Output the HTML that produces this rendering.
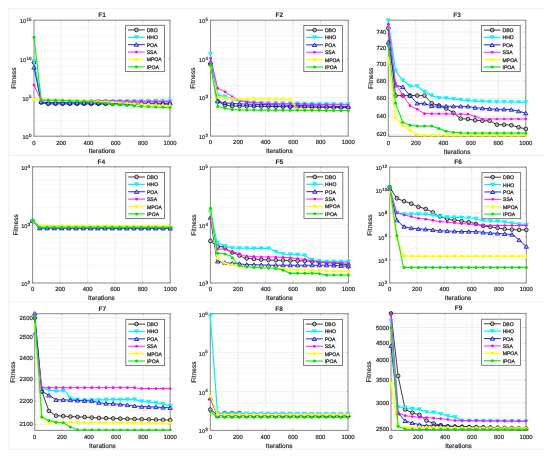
<!DOCTYPE html><html><head><meta charset="utf-8"><title>Convergence curves F1-F9</title>
<style>html,body{margin:0;padding:0;background:#fff;}svg{display:block;}text{font-family:"Liberation Sans", Arial, Helvetica, sans-serif;fill:#262626;stroke:#262626;stroke-width:0.18px;text-rendering:geometricPrecision;}</style></head><body>
<svg width="550" height="458" viewBox="0 0 550 458">
<rect width="550" height="458" fill="#fff"/>
<line x1="8.2" y1="8.7" x2="544" y2="8.7" stroke="#ececec" stroke-width="0.8"/>
<line x1="8.2" y1="155.3" x2="544" y2="155.3" stroke="#ececec" stroke-width="0.8"/>
<line x1="8.2" y1="302.0" x2="544" y2="302.0" stroke="#ececec" stroke-width="0.8"/>
<line x1="8.2" y1="449.2" x2="544" y2="449.2" stroke="#ececec" stroke-width="0.8"/>
<line x1="8.8" y1="8.7" x2="8.8" y2="449.2" stroke="#f0f0f0" stroke-width="0.8"/>
<g>
<line x1="34" y1="128.47" x2="170" y2="128.47" stroke="#f1f1f1" stroke-width="0.5"/>
<line x1="34" y1="120.73" x2="170" y2="120.73" stroke="#f1f1f1" stroke-width="0.5"/>
<line x1="34" y1="113" x2="170" y2="113" stroke="#f1f1f1" stroke-width="0.5"/>
<line x1="34" y1="105.27" x2="170" y2="105.27" stroke="#f1f1f1" stroke-width="0.5"/>
<line x1="34" y1="89.8" x2="170" y2="89.8" stroke="#f1f1f1" stroke-width="0.5"/>
<line x1="34" y1="82.07" x2="170" y2="82.07" stroke="#f1f1f1" stroke-width="0.5"/>
<line x1="34" y1="74.33" x2="170" y2="74.33" stroke="#f1f1f1" stroke-width="0.5"/>
<line x1="34" y1="66.6" x2="170" y2="66.6" stroke="#f1f1f1" stroke-width="0.5"/>
<line x1="34" y1="51.13" x2="170" y2="51.13" stroke="#f1f1f1" stroke-width="0.5"/>
<line x1="34" y1="43.4" x2="170" y2="43.4" stroke="#f1f1f1" stroke-width="0.5"/>
<line x1="34" y1="35.67" x2="170" y2="35.67" stroke="#f1f1f1" stroke-width="0.5"/>
<line x1="34" y1="27.93" x2="170" y2="27.93" stroke="#f1f1f1" stroke-width="0.5"/>
<line x1="34" y1="20.2" x2="170" y2="20.2" stroke="#e4e4e4" stroke-width="0.5"/>
<line x1="34" y1="58.9" x2="170" y2="58.9" stroke="#e4e4e4" stroke-width="0.5"/>
<line x1="34" y1="97.5" x2="170" y2="97.5" stroke="#e4e4e4" stroke-width="0.5"/>
<line x1="34" y1="136.2" x2="170" y2="136.2" stroke="#e4e4e4" stroke-width="0.5"/>
<line x1="61.2" y1="20.2" x2="61.2" y2="136.2" stroke="#e2e2e2" stroke-width="0.55"/>
<line x1="88.4" y1="20.2" x2="88.4" y2="136.2" stroke="#e2e2e2" stroke-width="0.55"/>
<line x1="115.6" y1="20.2" x2="115.6" y2="136.2" stroke="#e2e2e2" stroke-width="0.55"/>
<line x1="142.8" y1="20.2" x2="142.8" y2="136.2" stroke="#e2e2e2" stroke-width="0.55"/>
<rect x="34" y="20.2" width="136" height="116" fill="none" stroke="#8a8a8a" stroke-width="1.0"/>
<clipPath id="cF1"><rect x="31" y="17.2" width="142" height="119.5"/></clipPath>
<g clip-path="url(#cF1)">
<path d="M34 62.5 41.2 102.8 48.3 103.8 170 104" fill="none" stroke="#1a1a1a" stroke-width="0.85" stroke-linejoin="round"/>
<circle cx="34" cy="62.5" r="1.85" fill="#c4c4c4" fill-opacity="0.8" stroke="#101010" stroke-width="0.85"/>
<circle cx="41.16" cy="102.56" r="1.85" fill="#c4c4c4" fill-opacity="0.8" stroke="#101010" stroke-width="0.85"/>
<circle cx="48.32" cy="103.8" r="1.85" fill="#c4c4c4" fill-opacity="0.8" stroke="#101010" stroke-width="0.85"/>
<circle cx="55.47" cy="103.81" r="1.85" fill="#c4c4c4" fill-opacity="0.8" stroke="#101010" stroke-width="0.85"/>
<circle cx="62.63" cy="103.82" r="1.85" fill="#c4c4c4" fill-opacity="0.8" stroke="#101010" stroke-width="0.85"/>
<circle cx="69.79" cy="103.84" r="1.85" fill="#c4c4c4" fill-opacity="0.8" stroke="#101010" stroke-width="0.85"/>
<circle cx="76.95" cy="103.85" r="1.85" fill="#c4c4c4" fill-opacity="0.8" stroke="#101010" stroke-width="0.85"/>
<circle cx="84.11" cy="103.86" r="1.85" fill="#c4c4c4" fill-opacity="0.8" stroke="#101010" stroke-width="0.85"/>
<circle cx="91.26" cy="103.87" r="1.85" fill="#c4c4c4" fill-opacity="0.8" stroke="#101010" stroke-width="0.85"/>
<circle cx="98.42" cy="103.88" r="1.85" fill="#c4c4c4" fill-opacity="0.8" stroke="#101010" stroke-width="0.85"/>
<circle cx="105.58" cy="103.89" r="1.85" fill="#c4c4c4" fill-opacity="0.8" stroke="#101010" stroke-width="0.85"/>
<circle cx="112.74" cy="103.91" r="1.85" fill="#c4c4c4" fill-opacity="0.8" stroke="#101010" stroke-width="0.85"/>
<circle cx="119.89" cy="103.92" r="1.85" fill="#c4c4c4" fill-opacity="0.8" stroke="#101010" stroke-width="0.85"/>
<circle cx="127.05" cy="103.93" r="1.85" fill="#c4c4c4" fill-opacity="0.8" stroke="#101010" stroke-width="0.85"/>
<circle cx="134.21" cy="103.94" r="1.85" fill="#c4c4c4" fill-opacity="0.8" stroke="#101010" stroke-width="0.85"/>
<circle cx="141.37" cy="103.95" r="1.85" fill="#c4c4c4" fill-opacity="0.8" stroke="#101010" stroke-width="0.85"/>
<circle cx="148.53" cy="103.96" r="1.85" fill="#c4c4c4" fill-opacity="0.8" stroke="#101010" stroke-width="0.85"/>
<circle cx="155.68" cy="103.98" r="1.85" fill="#c4c4c4" fill-opacity="0.8" stroke="#101010" stroke-width="0.85"/>
<circle cx="162.84" cy="103.99" r="1.85" fill="#c4c4c4" fill-opacity="0.8" stroke="#101010" stroke-width="0.85"/>
<circle cx="170" cy="104" r="1.85" fill="#c4c4c4" fill-opacity="0.8" stroke="#101010" stroke-width="0.85"/>
<path d="M34 61.1 41.2 102.5 55.5 102 100 101.5 170 100.9" fill="none" stroke="#00f0ff" stroke-width="1.2" stroke-linejoin="round"/>
<path d="M31.8 59.4l4.4 0l-2.2 3.5z" fill="#00ffff" stroke="#00e8ff" stroke-width="0.5"/>
<path d="M38.96 100.56l4.4 0l-2.2 3.5z" fill="#00ffff" stroke="#00e8ff" stroke-width="0.5"/>
<path d="M46.12 100.55l4.4 0l-2.2 3.5z" fill="#00ffff" stroke="#00e8ff" stroke-width="0.5"/>
<path d="M53.27 100.3l4.4 0l-2.2 3.5z" fill="#00ffff" stroke="#00e8ff" stroke-width="0.5"/>
<path d="M60.43 100.22l4.4 0l-2.2 3.5z" fill="#00ffff" stroke="#00e8ff" stroke-width="0.5"/>
<path d="M67.59 100.14l4.4 0l-2.2 3.5z" fill="#00ffff" stroke="#00e8ff" stroke-width="0.5"/>
<path d="M74.75 100.06l4.4 0l-2.2 3.5z" fill="#00ffff" stroke="#00e8ff" stroke-width="0.5"/>
<path d="M81.91 99.98l4.4 0l-2.2 3.5z" fill="#00ffff" stroke="#00e8ff" stroke-width="0.5"/>
<path d="M89.06 99.9l4.4 0l-2.2 3.5z" fill="#00ffff" stroke="#00e8ff" stroke-width="0.5"/>
<path d="M96.22 99.82l4.4 0l-2.2 3.5z" fill="#00ffff" stroke="#00e8ff" stroke-width="0.5"/>
<path d="M103.38 99.75l4.4 0l-2.2 3.5z" fill="#00ffff" stroke="#00e8ff" stroke-width="0.5"/>
<path d="M110.54 99.69l4.4 0l-2.2 3.5z" fill="#00ffff" stroke="#00e8ff" stroke-width="0.5"/>
<path d="M117.69 99.63l4.4 0l-2.2 3.5z" fill="#00ffff" stroke="#00e8ff" stroke-width="0.5"/>
<path d="M124.85 99.57l4.4 0l-2.2 3.5z" fill="#00ffff" stroke="#00e8ff" stroke-width="0.5"/>
<path d="M132.01 99.51l4.4 0l-2.2 3.5z" fill="#00ffff" stroke="#00e8ff" stroke-width="0.5"/>
<path d="M139.17 99.45l4.4 0l-2.2 3.5z" fill="#00ffff" stroke="#00e8ff" stroke-width="0.5"/>
<path d="M146.33 99.38l4.4 0l-2.2 3.5z" fill="#00ffff" stroke="#00e8ff" stroke-width="0.5"/>
<path d="M153.48 99.32l4.4 0l-2.2 3.5z" fill="#00ffff" stroke="#00e8ff" stroke-width="0.5"/>
<path d="M160.64 99.26l4.4 0l-2.2 3.5z" fill="#00ffff" stroke="#00e8ff" stroke-width="0.5"/>
<path d="M167.8 99.2l4.4 0l-2.2 3.5z" fill="#00ffff" stroke="#00e8ff" stroke-width="0.5"/>
<path d="M34 67.5 41.2 102 48.3 102.6 170 103.2" fill="none" stroke="#1530e0" stroke-width="1.0" stroke-linejoin="round"/>
<path d="M31.8 69.1l2.2 -3.5l2.2 3.5z" fill="#b8b8ff" fill-opacity="0.7" stroke="#0000d0" stroke-width="0.8"/>
<path d="M38.96 103.4l2.2 -3.5l2.2 3.5z" fill="#b8b8ff" fill-opacity="0.7" stroke="#0000d0" stroke-width="0.8"/>
<path d="M46.12 104.2l2.2 -3.5l2.2 3.5z" fill="#b8b8ff" fill-opacity="0.7" stroke="#0000d0" stroke-width="0.8"/>
<path d="M53.27 104.24l2.2 -3.5l2.2 3.5z" fill="#b8b8ff" fill-opacity="0.7" stroke="#0000d0" stroke-width="0.8"/>
<path d="M60.43 104.27l2.2 -3.5l2.2 3.5z" fill="#b8b8ff" fill-opacity="0.7" stroke="#0000d0" stroke-width="0.8"/>
<path d="M67.59 104.31l2.2 -3.5l2.2 3.5z" fill="#b8b8ff" fill-opacity="0.7" stroke="#0000d0" stroke-width="0.8"/>
<path d="M74.75 104.34l2.2 -3.5l2.2 3.5z" fill="#b8b8ff" fill-opacity="0.7" stroke="#0000d0" stroke-width="0.8"/>
<path d="M81.91 104.38l2.2 -3.5l2.2 3.5z" fill="#b8b8ff" fill-opacity="0.7" stroke="#0000d0" stroke-width="0.8"/>
<path d="M89.06 104.41l2.2 -3.5l2.2 3.5z" fill="#b8b8ff" fill-opacity="0.7" stroke="#0000d0" stroke-width="0.8"/>
<path d="M96.22 104.45l2.2 -3.5l2.2 3.5z" fill="#b8b8ff" fill-opacity="0.7" stroke="#0000d0" stroke-width="0.8"/>
<path d="M103.38 104.48l2.2 -3.5l2.2 3.5z" fill="#b8b8ff" fill-opacity="0.7" stroke="#0000d0" stroke-width="0.8"/>
<path d="M110.54 104.52l2.2 -3.5l2.2 3.5z" fill="#b8b8ff" fill-opacity="0.7" stroke="#0000d0" stroke-width="0.8"/>
<path d="M117.69 104.55l2.2 -3.5l2.2 3.5z" fill="#b8b8ff" fill-opacity="0.7" stroke="#0000d0" stroke-width="0.8"/>
<path d="M124.85 104.59l2.2 -3.5l2.2 3.5z" fill="#b8b8ff" fill-opacity="0.7" stroke="#0000d0" stroke-width="0.8"/>
<path d="M132.01 104.62l2.2 -3.5l2.2 3.5z" fill="#b8b8ff" fill-opacity="0.7" stroke="#0000d0" stroke-width="0.8"/>
<path d="M139.17 104.66l2.2 -3.5l2.2 3.5z" fill="#b8b8ff" fill-opacity="0.7" stroke="#0000d0" stroke-width="0.8"/>
<path d="M146.33 104.69l2.2 -3.5l2.2 3.5z" fill="#b8b8ff" fill-opacity="0.7" stroke="#0000d0" stroke-width="0.8"/>
<path d="M153.48 104.73l2.2 -3.5l2.2 3.5z" fill="#b8b8ff" fill-opacity="0.7" stroke="#0000d0" stroke-width="0.8"/>
<path d="M160.64 104.76l2.2 -3.5l2.2 3.5z" fill="#b8b8ff" fill-opacity="0.7" stroke="#0000d0" stroke-width="0.8"/>
<path d="M167.8 104.8l2.2 -3.5l2.2 3.5z" fill="#b8b8ff" fill-opacity="0.7" stroke="#0000d0" stroke-width="0.8"/>
<path d="M34 85.1 41.2 100.5 100 100.6 170 101.6" fill="none" stroke="#ff20ff" stroke-width="1.0" stroke-linejoin="round"/>
<circle cx="34" cy="85.1" r="1.35" fill="#ff00ff"/>
<circle cx="41.16" cy="100.41" r="1.35" fill="#ff00ff"/>
<circle cx="48.32" cy="100.51" r="1.35" fill="#ff00ff"/>
<circle cx="55.47" cy="100.52" r="1.35" fill="#ff00ff"/>
<circle cx="62.63" cy="100.54" r="1.35" fill="#ff00ff"/>
<circle cx="69.79" cy="100.55" r="1.35" fill="#ff00ff"/>
<circle cx="76.95" cy="100.56" r="1.35" fill="#ff00ff"/>
<circle cx="84.11" cy="100.57" r="1.35" fill="#ff00ff"/>
<circle cx="91.26" cy="100.59" r="1.35" fill="#ff00ff"/>
<circle cx="98.42" cy="100.6" r="1.35" fill="#ff00ff"/>
<circle cx="105.58" cy="100.68" r="1.35" fill="#ff00ff"/>
<circle cx="112.74" cy="100.78" r="1.35" fill="#ff00ff"/>
<circle cx="119.89" cy="100.88" r="1.35" fill="#ff00ff"/>
<circle cx="127.05" cy="100.99" r="1.35" fill="#ff00ff"/>
<circle cx="134.21" cy="101.09" r="1.35" fill="#ff00ff"/>
<circle cx="141.37" cy="101.19" r="1.35" fill="#ff00ff"/>
<circle cx="148.53" cy="101.29" r="1.35" fill="#ff00ff"/>
<circle cx="155.68" cy="101.4" r="1.35" fill="#ff00ff"/>
<circle cx="162.84" cy="101.5" r="1.35" fill="#ff00ff"/>
<circle cx="170" cy="101.6" r="1.35" fill="#ff00ff"/>
<path d="M34 99.1 41.2 99.6 80 100.6 100 101.5 130 103.5 170 105.8" fill="none" stroke="#ffff00" stroke-width="1.25" stroke-linejoin="round"/>
<circle cx="34" cy="99.1" r="1.7" fill="#ffff00"/>
<circle cx="41.16" cy="99.6" r="1.7" fill="#ffff00"/>
<circle cx="48.32" cy="99.78" r="1.7" fill="#ffff00"/>
<circle cx="55.47" cy="99.97" r="1.7" fill="#ffff00"/>
<circle cx="62.63" cy="100.15" r="1.7" fill="#ffff00"/>
<circle cx="69.79" cy="100.34" r="1.7" fill="#ffff00"/>
<circle cx="76.95" cy="100.52" r="1.7" fill="#ffff00"/>
<circle cx="84.11" cy="100.78" r="1.7" fill="#ffff00"/>
<circle cx="91.26" cy="101.11" r="1.7" fill="#ffff00"/>
<circle cx="98.42" cy="101.43" r="1.7" fill="#ffff00"/>
<circle cx="105.58" cy="101.87" r="1.7" fill="#ffff00"/>
<circle cx="112.74" cy="102.35" r="1.7" fill="#ffff00"/>
<circle cx="119.89" cy="102.83" r="1.7" fill="#ffff00"/>
<circle cx="127.05" cy="103.3" r="1.7" fill="#ffff00"/>
<circle cx="134.21" cy="103.74" r="1.7" fill="#ffff00"/>
<circle cx="141.37" cy="104.15" r="1.7" fill="#ffff00"/>
<circle cx="148.53" cy="104.57" r="1.7" fill="#ffff00"/>
<circle cx="155.68" cy="104.98" r="1.7" fill="#ffff00"/>
<circle cx="162.84" cy="105.39" r="1.7" fill="#ffff00"/>
<circle cx="170" cy="105.8" r="1.7" fill="#ffff00"/>
<path d="M34 37.3 41.2 99.8 60 100.3 80 101 100 102.5 113 104.3 125 105.3 140 106.5 170 107.6" fill="none" stroke="#10f010" stroke-width="1.15" stroke-linejoin="round"/>
<circle cx="34" cy="37.3" r="1.5" fill="#00e000"/>
<circle cx="41.16" cy="99.43" r="1.5" fill="#00e000"/>
<circle cx="48.32" cy="99.99" r="1.5" fill="#00e000"/>
<circle cx="55.47" cy="100.18" r="1.5" fill="#00e000"/>
<circle cx="62.63" cy="100.39" r="1.5" fill="#00e000"/>
<circle cx="69.79" cy="100.64" r="1.5" fill="#00e000"/>
<circle cx="76.95" cy="100.89" r="1.5" fill="#00e000"/>
<circle cx="84.11" cy="101.31" r="1.5" fill="#00e000"/>
<circle cx="91.26" cy="101.84" r="1.5" fill="#00e000"/>
<circle cx="98.42" cy="102.38" r="1.5" fill="#00e000"/>
<circle cx="105.58" cy="103.27" r="1.5" fill="#00e000"/>
<circle cx="112.74" cy="104.26" r="1.5" fill="#00e000"/>
<circle cx="119.89" cy="104.87" r="1.5" fill="#00e000"/>
<circle cx="127.05" cy="105.46" r="1.5" fill="#00e000"/>
<circle cx="134.21" cy="106.04" r="1.5" fill="#00e000"/>
<circle cx="141.37" cy="106.55" r="1.5" fill="#00e000"/>
<circle cx="148.53" cy="106.81" r="1.5" fill="#00e000"/>
<circle cx="155.68" cy="107.08" r="1.5" fill="#00e000"/>
<circle cx="162.84" cy="107.34" r="1.5" fill="#00e000"/>
<circle cx="170" cy="107.6" r="1.5" fill="#00e000"/>
</g>
<line x1="34" y1="136.2" x2="34" y2="134.9" stroke="#8a8a8a" stroke-width="0.6"/>
<line x1="34" y1="20.2" x2="34" y2="21.5" stroke="#8a8a8a" stroke-width="0.6"/>
<line x1="61.2" y1="136.2" x2="61.2" y2="134.9" stroke="#8a8a8a" stroke-width="0.6"/>
<line x1="61.2" y1="20.2" x2="61.2" y2="21.5" stroke="#8a8a8a" stroke-width="0.6"/>
<line x1="88.4" y1="136.2" x2="88.4" y2="134.9" stroke="#8a8a8a" stroke-width="0.6"/>
<line x1="88.4" y1="20.2" x2="88.4" y2="21.5" stroke="#8a8a8a" stroke-width="0.6"/>
<line x1="115.6" y1="136.2" x2="115.6" y2="134.9" stroke="#8a8a8a" stroke-width="0.6"/>
<line x1="115.6" y1="20.2" x2="115.6" y2="21.5" stroke="#8a8a8a" stroke-width="0.6"/>
<line x1="142.8" y1="136.2" x2="142.8" y2="134.9" stroke="#8a8a8a" stroke-width="0.6"/>
<line x1="142.8" y1="20.2" x2="142.8" y2="21.5" stroke="#8a8a8a" stroke-width="0.6"/>
<line x1="170" y1="136.2" x2="170" y2="134.9" stroke="#8a8a8a" stroke-width="0.6"/>
<line x1="170" y1="20.2" x2="170" y2="21.5" stroke="#8a8a8a" stroke-width="0.6"/>
<line x1="34" y1="20.2" x2="35.3" y2="20.2" stroke="#8a8a8a" stroke-width="0.6"/>
<line x1="170" y1="20.2" x2="168.7" y2="20.2" stroke="#8a8a8a" stroke-width="0.6"/>
<line x1="34" y1="58.9" x2="35.3" y2="58.9" stroke="#8a8a8a" stroke-width="0.6"/>
<line x1="170" y1="58.9" x2="168.7" y2="58.9" stroke="#8a8a8a" stroke-width="0.6"/>
<line x1="34" y1="97.5" x2="35.3" y2="97.5" stroke="#8a8a8a" stroke-width="0.6"/>
<line x1="170" y1="97.5" x2="168.7" y2="97.5" stroke="#8a8a8a" stroke-width="0.6"/>
<line x1="34" y1="136.2" x2="35.3" y2="136.2" stroke="#8a8a8a" stroke-width="0.6"/>
<line x1="170" y1="136.2" x2="168.7" y2="136.2" stroke="#8a8a8a" stroke-width="0.6"/>
<text x="34" y="144.5" font-size="5.9" text-anchor="middle">0</text>
<text x="61.2" y="144.5" font-size="5.9" text-anchor="middle">200</text>
<text x="88.4" y="144.5" font-size="5.9" text-anchor="middle">400</text>
<text x="115.6" y="144.5" font-size="5.9" text-anchor="middle">600</text>
<text x="142.8" y="144.5" font-size="5.9" text-anchor="middle">800</text>
<text x="170" y="144.5" font-size="5.9" text-anchor="middle">1000</text>
<text x="31.5" y="23.2" font-size="5.5" text-anchor="end">10<tspan font-size="4.5" dx="0.3" dy="-2.2">15</tspan></text>
<text x="31.5" y="61.9" font-size="5.5" text-anchor="end">10<tspan font-size="4.5" dx="0.3" dy="-2.2">10</tspan></text>
<text x="31.5" y="100.5" font-size="5.5" text-anchor="end">10<tspan font-size="4.5" dx="0.3" dy="-2.2">5</tspan></text>
<text x="31.5" y="139.2" font-size="5.5" text-anchor="end">10<tspan font-size="4.5" dx="0.3" dy="-2.2">0</tspan></text>
<text x="102" y="17.2" font-size="6.6" font-weight="bold" text-anchor="middle" style="stroke-width:0.05px">F1</text>
<text x="102" y="153.4" font-size="6.5" text-anchor="middle">Iterations</text>
<text transform="translate(16.1 78.2) rotate(-90)" font-size="6.6" text-anchor="middle">Fitness</text>
<rect x="125.6" y="25.3" width="38.8" height="46.1" fill="#fff" stroke="#606060" stroke-width="0.8"/>
<line x1="128" y1="29.9" x2="144.8" y2="29.9" stroke="#1a1a1a" stroke-width="0.85"/>
<circle cx="136.4" cy="29.9" r="1.85" fill="#c4c4c4" fill-opacity="0.8" stroke="#101010" stroke-width="0.85"/>
<text x="146.7" y="31.9" font-size="5.1" style="stroke-width:0.25px">DBO</text>
<line x1="128" y1="37.28" x2="144.8" y2="37.28" stroke="#00f0ff" stroke-width="1.2"/>
<path d="M134.2 35.58l4.4 0l-2.2 3.5z" fill="#00ffff" stroke="#00e8ff" stroke-width="0.5"/>
<text x="146.7" y="39.28" font-size="5.1" style="stroke-width:0.25px">HHO</text>
<line x1="128" y1="44.66" x2="144.8" y2="44.66" stroke="#1530e0" stroke-width="1.0"/>
<path d="M134.2 46.26l2.2 -3.5l2.2 3.5z" fill="#b8b8ff" fill-opacity="0.7" stroke="#0000d0" stroke-width="0.8"/>
<text x="146.7" y="46.66" font-size="5.1" style="stroke-width:0.25px">POA</text>
<line x1="128" y1="52.04" x2="144.8" y2="52.04" stroke="#ff20ff" stroke-width="1.0"/>
<circle cx="136.4" cy="52.04" r="1.35" fill="#ff00ff"/>
<text x="146.7" y="54.04" font-size="5.1" style="stroke-width:0.25px">SSA</text>
<line x1="128" y1="59.42" x2="144.8" y2="59.42" stroke="#ffff00" stroke-width="1.25"/>
<circle cx="136.4" cy="59.42" r="1.7" fill="#ffff00"/>
<text x="146.7" y="61.42" font-size="5.1" style="stroke-width:0.25px">MPOA</text>
<line x1="128" y1="66.8" x2="144.8" y2="66.8" stroke="#10f010" stroke-width="1.15"/>
<circle cx="136.4" cy="66.8" r="1.5" fill="#00e000"/>
<text x="146.7" y="68.8" font-size="5.1" style="stroke-width:0.25px">IPOA</text>
</g>
<g>
<line x1="210.5" y1="124.47" x2="348.2" y2="124.47" stroke="#f1f1f1" stroke-width="0.5"/>
<line x1="210.5" y1="117.67" x2="348.2" y2="117.67" stroke="#f1f1f1" stroke-width="0.5"/>
<line x1="210.5" y1="112.84" x2="348.2" y2="112.84" stroke="#f1f1f1" stroke-width="0.5"/>
<line x1="210.5" y1="109.1" x2="348.2" y2="109.1" stroke="#f1f1f1" stroke-width="0.5"/>
<line x1="210.5" y1="106.04" x2="348.2" y2="106.04" stroke="#f1f1f1" stroke-width="0.5"/>
<line x1="210.5" y1="103.45" x2="348.2" y2="103.45" stroke="#f1f1f1" stroke-width="0.5"/>
<line x1="210.5" y1="101.21" x2="348.2" y2="101.21" stroke="#f1f1f1" stroke-width="0.5"/>
<line x1="210.5" y1="99.23" x2="348.2" y2="99.23" stroke="#f1f1f1" stroke-width="0.5"/>
<line x1="210.5" y1="85.84" x2="348.2" y2="85.84" stroke="#f1f1f1" stroke-width="0.5"/>
<line x1="210.5" y1="79.03" x2="348.2" y2="79.03" stroke="#f1f1f1" stroke-width="0.5"/>
<line x1="210.5" y1="74.21" x2="348.2" y2="74.21" stroke="#f1f1f1" stroke-width="0.5"/>
<line x1="210.5" y1="70.46" x2="348.2" y2="70.46" stroke="#f1f1f1" stroke-width="0.5"/>
<line x1="210.5" y1="67.4" x2="348.2" y2="67.4" stroke="#f1f1f1" stroke-width="0.5"/>
<line x1="210.5" y1="64.82" x2="348.2" y2="64.82" stroke="#f1f1f1" stroke-width="0.5"/>
<line x1="210.5" y1="62.58" x2="348.2" y2="62.58" stroke="#f1f1f1" stroke-width="0.5"/>
<line x1="210.5" y1="60.6" x2="348.2" y2="60.6" stroke="#f1f1f1" stroke-width="0.5"/>
<line x1="210.5" y1="47.2" x2="348.2" y2="47.2" stroke="#f1f1f1" stroke-width="0.5"/>
<line x1="210.5" y1="40.4" x2="348.2" y2="40.4" stroke="#f1f1f1" stroke-width="0.5"/>
<line x1="210.5" y1="35.57" x2="348.2" y2="35.57" stroke="#f1f1f1" stroke-width="0.5"/>
<line x1="210.5" y1="31.83" x2="348.2" y2="31.83" stroke="#f1f1f1" stroke-width="0.5"/>
<line x1="210.5" y1="28.77" x2="348.2" y2="28.77" stroke="#f1f1f1" stroke-width="0.5"/>
<line x1="210.5" y1="26.18" x2="348.2" y2="26.18" stroke="#f1f1f1" stroke-width="0.5"/>
<line x1="210.5" y1="23.94" x2="348.2" y2="23.94" stroke="#f1f1f1" stroke-width="0.5"/>
<line x1="210.5" y1="21.97" x2="348.2" y2="21.97" stroke="#f1f1f1" stroke-width="0.5"/>
<line x1="210.5" y1="136.1" x2="348.2" y2="136.1" stroke="#e4e4e4" stroke-width="0.5"/>
<line x1="210.5" y1="97.47" x2="348.2" y2="97.47" stroke="#e4e4e4" stroke-width="0.5"/>
<line x1="210.5" y1="58.83" x2="348.2" y2="58.83" stroke="#e4e4e4" stroke-width="0.5"/>
<line x1="210.5" y1="20.2" x2="348.2" y2="20.2" stroke="#e4e4e4" stroke-width="0.5"/>
<line x1="238.04" y1="20.2" x2="238.04" y2="136.1" stroke="#e2e2e2" stroke-width="0.55"/>
<line x1="265.58" y1="20.2" x2="265.58" y2="136.1" stroke="#e2e2e2" stroke-width="0.55"/>
<line x1="293.12" y1="20.2" x2="293.12" y2="136.1" stroke="#e2e2e2" stroke-width="0.55"/>
<line x1="320.66" y1="20.2" x2="320.66" y2="136.1" stroke="#e2e2e2" stroke-width="0.55"/>
<rect x="210.5" y="20.2" width="137.7" height="115.9" fill="none" stroke="#8a8a8a" stroke-width="1.0"/>
<clipPath id="cF2"><rect x="207.5" y="17.2" width="143.7" height="119.4"/></clipPath>
<g clip-path="url(#cF2)">
<path d="M210.5 64.4 217.75 101.5 225 105.2 232.2 106 348.2 107.6" fill="none" stroke="#1a1a1a" stroke-width="0.85" stroke-linejoin="round"/>
<circle cx="210.5" cy="64.4" r="1.85" fill="#c4c4c4" fill-opacity="0.8" stroke="#101010" stroke-width="0.85"/>
<circle cx="217.75" cy="101.49" r="1.85" fill="#c4c4c4" fill-opacity="0.8" stroke="#101010" stroke-width="0.85"/>
<circle cx="224.99" cy="105.2" r="1.85" fill="#c4c4c4" fill-opacity="0.8" stroke="#101010" stroke-width="0.85"/>
<circle cx="232.24" cy="106" r="1.85" fill="#c4c4c4" fill-opacity="0.8" stroke="#101010" stroke-width="0.85"/>
<circle cx="239.49" cy="106.1" r="1.85" fill="#c4c4c4" fill-opacity="0.8" stroke="#101010" stroke-width="0.85"/>
<circle cx="246.74" cy="106.2" r="1.85" fill="#c4c4c4" fill-opacity="0.8" stroke="#101010" stroke-width="0.85"/>
<circle cx="253.98" cy="106.3" r="1.85" fill="#c4c4c4" fill-opacity="0.8" stroke="#101010" stroke-width="0.85"/>
<circle cx="261.23" cy="106.4" r="1.85" fill="#c4c4c4" fill-opacity="0.8" stroke="#101010" stroke-width="0.85"/>
<circle cx="268.48" cy="106.5" r="1.85" fill="#c4c4c4" fill-opacity="0.8" stroke="#101010" stroke-width="0.85"/>
<circle cx="275.73" cy="106.6" r="1.85" fill="#c4c4c4" fill-opacity="0.8" stroke="#101010" stroke-width="0.85"/>
<circle cx="282.97" cy="106.7" r="1.85" fill="#c4c4c4" fill-opacity="0.8" stroke="#101010" stroke-width="0.85"/>
<circle cx="290.22" cy="106.8" r="1.85" fill="#c4c4c4" fill-opacity="0.8" stroke="#101010" stroke-width="0.85"/>
<circle cx="297.47" cy="106.9" r="1.85" fill="#c4c4c4" fill-opacity="0.8" stroke="#101010" stroke-width="0.85"/>
<circle cx="304.72" cy="107" r="1.85" fill="#c4c4c4" fill-opacity="0.8" stroke="#101010" stroke-width="0.85"/>
<circle cx="311.96" cy="107.1" r="1.85" fill="#c4c4c4" fill-opacity="0.8" stroke="#101010" stroke-width="0.85"/>
<circle cx="319.21" cy="107.2" r="1.85" fill="#c4c4c4" fill-opacity="0.8" stroke="#101010" stroke-width="0.85"/>
<circle cx="326.46" cy="107.3" r="1.85" fill="#c4c4c4" fill-opacity="0.8" stroke="#101010" stroke-width="0.85"/>
<circle cx="333.71" cy="107.4" r="1.85" fill="#c4c4c4" fill-opacity="0.8" stroke="#101010" stroke-width="0.85"/>
<circle cx="340.95" cy="107.5" r="1.85" fill="#c4c4c4" fill-opacity="0.8" stroke="#101010" stroke-width="0.85"/>
<circle cx="348.2" cy="107.6" r="1.85" fill="#c4c4c4" fill-opacity="0.8" stroke="#101010" stroke-width="0.85"/>
<path d="M210.5 54.1 217.75 95.2 225 96.5 232.2 99.3 239.5 101.2 260 103 348.2 104.3" fill="none" stroke="#00f0ff" stroke-width="1.2" stroke-linejoin="round"/>
<path d="M208.3 52.4l4.4 0l-2.2 3.5z" fill="#00ffff" stroke="#00e8ff" stroke-width="0.5"/>
<path d="M215.55 93.49l4.4 0l-2.2 3.5z" fill="#00ffff" stroke="#00e8ff" stroke-width="0.5"/>
<path d="M222.79 94.8l4.4 0l-2.2 3.5z" fill="#00ffff" stroke="#00e8ff" stroke-width="0.5"/>
<path d="M230.04 97.61l4.4 0l-2.2 3.5z" fill="#00ffff" stroke="#00e8ff" stroke-width="0.5"/>
<path d="M237.29 99.5l4.4 0l-2.2 3.5z" fill="#00ffff" stroke="#00e8ff" stroke-width="0.5"/>
<path d="M244.54 100.14l4.4 0l-2.2 3.5z" fill="#00ffff" stroke="#00e8ff" stroke-width="0.5"/>
<path d="M251.78 100.77l4.4 0l-2.2 3.5z" fill="#00ffff" stroke="#00e8ff" stroke-width="0.5"/>
<path d="M259.03 101.32l4.4 0l-2.2 3.5z" fill="#00ffff" stroke="#00e8ff" stroke-width="0.5"/>
<path d="M266.28 101.42l4.4 0l-2.2 3.5z" fill="#00ffff" stroke="#00e8ff" stroke-width="0.5"/>
<path d="M273.53 101.53l4.4 0l-2.2 3.5z" fill="#00ffff" stroke="#00e8ff" stroke-width="0.5"/>
<path d="M280.77 101.64l4.4 0l-2.2 3.5z" fill="#00ffff" stroke="#00e8ff" stroke-width="0.5"/>
<path d="M288.02 101.75l4.4 0l-2.2 3.5z" fill="#00ffff" stroke="#00e8ff" stroke-width="0.5"/>
<path d="M295.27 101.85l4.4 0l-2.2 3.5z" fill="#00ffff" stroke="#00e8ff" stroke-width="0.5"/>
<path d="M302.52 101.96l4.4 0l-2.2 3.5z" fill="#00ffff" stroke="#00e8ff" stroke-width="0.5"/>
<path d="M309.76 102.07l4.4 0l-2.2 3.5z" fill="#00ffff" stroke="#00e8ff" stroke-width="0.5"/>
<path d="M317.01 102.17l4.4 0l-2.2 3.5z" fill="#00ffff" stroke="#00e8ff" stroke-width="0.5"/>
<path d="M324.26 102.28l4.4 0l-2.2 3.5z" fill="#00ffff" stroke="#00e8ff" stroke-width="0.5"/>
<path d="M331.51 102.39l4.4 0l-2.2 3.5z" fill="#00ffff" stroke="#00e8ff" stroke-width="0.5"/>
<path d="M338.75 102.49l4.4 0l-2.2 3.5z" fill="#00ffff" stroke="#00e8ff" stroke-width="0.5"/>
<path d="M346 102.6l4.4 0l-2.2 3.5z" fill="#00ffff" stroke="#00e8ff" stroke-width="0.5"/>
<path d="M210.5 62.4 217.75 101.2 225 102.9 232.2 103.4 239.5 103.9 260 104.5 348.2 106.8" fill="none" stroke="#1530e0" stroke-width="1.0" stroke-linejoin="round"/>
<path d="M208.3 64l2.2 -3.5l2.2 3.5z" fill="#b8b8ff" fill-opacity="0.7" stroke="#0000d0" stroke-width="0.8"/>
<path d="M215.55 102.79l2.2 -3.5l2.2 3.5z" fill="#b8b8ff" fill-opacity="0.7" stroke="#0000d0" stroke-width="0.8"/>
<path d="M222.79 104.5l2.2 -3.5l2.2 3.5z" fill="#b8b8ff" fill-opacity="0.7" stroke="#0000d0" stroke-width="0.8"/>
<path d="M230.04 105l2.2 -3.5l2.2 3.5z" fill="#b8b8ff" fill-opacity="0.7" stroke="#0000d0" stroke-width="0.8"/>
<path d="M237.29 105.5l2.2 -3.5l2.2 3.5z" fill="#b8b8ff" fill-opacity="0.7" stroke="#0000d0" stroke-width="0.8"/>
<path d="M244.54 105.71l2.2 -3.5l2.2 3.5z" fill="#b8b8ff" fill-opacity="0.7" stroke="#0000d0" stroke-width="0.8"/>
<path d="M251.78 105.92l2.2 -3.5l2.2 3.5z" fill="#b8b8ff" fill-opacity="0.7" stroke="#0000d0" stroke-width="0.8"/>
<path d="M259.03 106.13l2.2 -3.5l2.2 3.5z" fill="#b8b8ff" fill-opacity="0.7" stroke="#0000d0" stroke-width="0.8"/>
<path d="M266.28 106.32l2.2 -3.5l2.2 3.5z" fill="#b8b8ff" fill-opacity="0.7" stroke="#0000d0" stroke-width="0.8"/>
<path d="M273.53 106.51l2.2 -3.5l2.2 3.5z" fill="#b8b8ff" fill-opacity="0.7" stroke="#0000d0" stroke-width="0.8"/>
<path d="M280.77 106.7l2.2 -3.5l2.2 3.5z" fill="#b8b8ff" fill-opacity="0.7" stroke="#0000d0" stroke-width="0.8"/>
<path d="M288.02 106.89l2.2 -3.5l2.2 3.5z" fill="#b8b8ff" fill-opacity="0.7" stroke="#0000d0" stroke-width="0.8"/>
<path d="M295.27 107.08l2.2 -3.5l2.2 3.5z" fill="#b8b8ff" fill-opacity="0.7" stroke="#0000d0" stroke-width="0.8"/>
<path d="M302.52 107.27l2.2 -3.5l2.2 3.5z" fill="#b8b8ff" fill-opacity="0.7" stroke="#0000d0" stroke-width="0.8"/>
<path d="M309.76 107.46l2.2 -3.5l2.2 3.5z" fill="#b8b8ff" fill-opacity="0.7" stroke="#0000d0" stroke-width="0.8"/>
<path d="M317.01 107.64l2.2 -3.5l2.2 3.5z" fill="#b8b8ff" fill-opacity="0.7" stroke="#0000d0" stroke-width="0.8"/>
<path d="M324.26 107.83l2.2 -3.5l2.2 3.5z" fill="#b8b8ff" fill-opacity="0.7" stroke="#0000d0" stroke-width="0.8"/>
<path d="M331.51 108.02l2.2 -3.5l2.2 3.5z" fill="#b8b8ff" fill-opacity="0.7" stroke="#0000d0" stroke-width="0.8"/>
<path d="M338.75 108.21l2.2 -3.5l2.2 3.5z" fill="#b8b8ff" fill-opacity="0.7" stroke="#0000d0" stroke-width="0.8"/>
<path d="M346 108.4l2.2 -3.5l2.2 3.5z" fill="#b8b8ff" fill-opacity="0.7" stroke="#0000d0" stroke-width="0.8"/>
<path d="M210.5 58.3 217.75 88.3 225 91.8 232.2 96.8 239.5 100.4 246.7 102.2 270 103.6 348.2 105" fill="none" stroke="#ff20ff" stroke-width="1.0" stroke-linejoin="round"/>
<circle cx="210.5" cy="58.3" r="1.35" fill="#ff00ff"/>
<circle cx="217.75" cy="88.29" r="1.35" fill="#ff00ff"/>
<circle cx="224.99" cy="91.8" r="1.35" fill="#ff00ff"/>
<circle cx="232.24" cy="96.82" r="1.35" fill="#ff00ff"/>
<circle cx="239.49" cy="100.39" r="1.35" fill="#ff00ff"/>
<circle cx="246.74" cy="102.2" r="1.35" fill="#ff00ff"/>
<circle cx="253.98" cy="102.64" r="1.35" fill="#ff00ff"/>
<circle cx="261.23" cy="103.07" r="1.35" fill="#ff00ff"/>
<circle cx="268.48" cy="103.51" r="1.35" fill="#ff00ff"/>
<circle cx="275.73" cy="103.7" r="1.35" fill="#ff00ff"/>
<circle cx="282.97" cy="103.83" r="1.35" fill="#ff00ff"/>
<circle cx="290.22" cy="103.96" r="1.35" fill="#ff00ff"/>
<circle cx="297.47" cy="104.09" r="1.35" fill="#ff00ff"/>
<circle cx="304.72" cy="104.22" r="1.35" fill="#ff00ff"/>
<circle cx="311.96" cy="104.35" r="1.35" fill="#ff00ff"/>
<circle cx="319.21" cy="104.48" r="1.35" fill="#ff00ff"/>
<circle cx="326.46" cy="104.61" r="1.35" fill="#ff00ff"/>
<circle cx="333.71" cy="104.74" r="1.35" fill="#ff00ff"/>
<circle cx="340.95" cy="104.87" r="1.35" fill="#ff00ff"/>
<circle cx="348.2" cy="105" r="1.35" fill="#ff00ff"/>
<path d="M210.5 67.4 217.75 97.1 225 98.1 232.2 98.8 239.5 99 290.2 99 297.5 109.5 348.2 110.3" fill="none" stroke="#ffff00" stroke-width="1.25" stroke-linejoin="round"/>
<circle cx="210.5" cy="67.4" r="1.7" fill="#ffff00"/>
<circle cx="217.75" cy="97.09" r="1.7" fill="#ffff00"/>
<circle cx="224.99" cy="98.1" r="1.7" fill="#ffff00"/>
<circle cx="232.24" cy="98.8" r="1.7" fill="#ffff00"/>
<circle cx="239.49" cy="99" r="1.7" fill="#ffff00"/>
<circle cx="246.74" cy="99" r="1.7" fill="#ffff00"/>
<circle cx="253.98" cy="99" r="1.7" fill="#ffff00"/>
<circle cx="261.23" cy="99" r="1.7" fill="#ffff00"/>
<circle cx="268.48" cy="99" r="1.7" fill="#ffff00"/>
<circle cx="275.73" cy="99" r="1.7" fill="#ffff00"/>
<circle cx="282.97" cy="99" r="1.7" fill="#ffff00"/>
<circle cx="290.22" cy="99.03" r="1.7" fill="#ffff00"/>
<circle cx="297.47" cy="109.45" r="1.7" fill="#ffff00"/>
<circle cx="304.72" cy="109.61" r="1.7" fill="#ffff00"/>
<circle cx="311.96" cy="109.73" r="1.7" fill="#ffff00"/>
<circle cx="319.21" cy="109.84" r="1.7" fill="#ffff00"/>
<circle cx="326.46" cy="109.96" r="1.7" fill="#ffff00"/>
<circle cx="333.71" cy="110.07" r="1.7" fill="#ffff00"/>
<circle cx="340.95" cy="110.19" r="1.7" fill="#ffff00"/>
<circle cx="348.2" cy="110.3" r="1.7" fill="#ffff00"/>
<path d="M210.5 65.2 217.75 106.5 225 108.3 232.2 109.6 239.5 110 348.2 110.5" fill="none" stroke="#10f010" stroke-width="1.15" stroke-linejoin="round"/>
<circle cx="210.5" cy="65.2" r="1.5" fill="#00e000"/>
<circle cx="217.75" cy="106.49" r="1.5" fill="#00e000"/>
<circle cx="224.99" cy="108.3" r="1.5" fill="#00e000"/>
<circle cx="232.24" cy="109.6" r="1.5" fill="#00e000"/>
<circle cx="239.49" cy="110" r="1.5" fill="#00e000"/>
<circle cx="246.74" cy="110.03" r="1.5" fill="#00e000"/>
<circle cx="253.98" cy="110.07" r="1.5" fill="#00e000"/>
<circle cx="261.23" cy="110.1" r="1.5" fill="#00e000"/>
<circle cx="268.48" cy="110.13" r="1.5" fill="#00e000"/>
<circle cx="275.73" cy="110.17" r="1.5" fill="#00e000"/>
<circle cx="282.97" cy="110.2" r="1.5" fill="#00e000"/>
<circle cx="290.22" cy="110.23" r="1.5" fill="#00e000"/>
<circle cx="297.47" cy="110.27" r="1.5" fill="#00e000"/>
<circle cx="304.72" cy="110.3" r="1.5" fill="#00e000"/>
<circle cx="311.96" cy="110.33" r="1.5" fill="#00e000"/>
<circle cx="319.21" cy="110.37" r="1.5" fill="#00e000"/>
<circle cx="326.46" cy="110.4" r="1.5" fill="#00e000"/>
<circle cx="333.71" cy="110.43" r="1.5" fill="#00e000"/>
<circle cx="340.95" cy="110.47" r="1.5" fill="#00e000"/>
<circle cx="348.2" cy="110.5" r="1.5" fill="#00e000"/>
</g>
<line x1="210.5" y1="136.1" x2="210.5" y2="134.8" stroke="#8a8a8a" stroke-width="0.6"/>
<line x1="210.5" y1="20.2" x2="210.5" y2="21.5" stroke="#8a8a8a" stroke-width="0.6"/>
<line x1="238.04" y1="136.1" x2="238.04" y2="134.8" stroke="#8a8a8a" stroke-width="0.6"/>
<line x1="238.04" y1="20.2" x2="238.04" y2="21.5" stroke="#8a8a8a" stroke-width="0.6"/>
<line x1="265.58" y1="136.1" x2="265.58" y2="134.8" stroke="#8a8a8a" stroke-width="0.6"/>
<line x1="265.58" y1="20.2" x2="265.58" y2="21.5" stroke="#8a8a8a" stroke-width="0.6"/>
<line x1="293.12" y1="136.1" x2="293.12" y2="134.8" stroke="#8a8a8a" stroke-width="0.6"/>
<line x1="293.12" y1="20.2" x2="293.12" y2="21.5" stroke="#8a8a8a" stroke-width="0.6"/>
<line x1="320.66" y1="136.1" x2="320.66" y2="134.8" stroke="#8a8a8a" stroke-width="0.6"/>
<line x1="320.66" y1="20.2" x2="320.66" y2="21.5" stroke="#8a8a8a" stroke-width="0.6"/>
<line x1="348.2" y1="136.1" x2="348.2" y2="134.8" stroke="#8a8a8a" stroke-width="0.6"/>
<line x1="348.2" y1="20.2" x2="348.2" y2="21.5" stroke="#8a8a8a" stroke-width="0.6"/>
<line x1="210.5" y1="136.1" x2="211.8" y2="136.1" stroke="#8a8a8a" stroke-width="0.6"/>
<line x1="348.2" y1="136.1" x2="346.9" y2="136.1" stroke="#8a8a8a" stroke-width="0.6"/>
<line x1="210.5" y1="97.47" x2="211.8" y2="97.47" stroke="#8a8a8a" stroke-width="0.6"/>
<line x1="348.2" y1="97.47" x2="346.9" y2="97.47" stroke="#8a8a8a" stroke-width="0.6"/>
<line x1="210.5" y1="58.83" x2="211.8" y2="58.83" stroke="#8a8a8a" stroke-width="0.6"/>
<line x1="348.2" y1="58.83" x2="346.9" y2="58.83" stroke="#8a8a8a" stroke-width="0.6"/>
<line x1="210.5" y1="20.2" x2="211.8" y2="20.2" stroke="#8a8a8a" stroke-width="0.6"/>
<line x1="348.2" y1="20.2" x2="346.9" y2="20.2" stroke="#8a8a8a" stroke-width="0.6"/>
<text x="210.5" y="144.4" font-size="5.9" text-anchor="middle">0</text>
<text x="238.04" y="144.4" font-size="5.9" text-anchor="middle">200</text>
<text x="265.58" y="144.4" font-size="5.9" text-anchor="middle">400</text>
<text x="293.12" y="144.4" font-size="5.9" text-anchor="middle">600</text>
<text x="320.66" y="144.4" font-size="5.9" text-anchor="middle">800</text>
<text x="348.2" y="144.4" font-size="5.9" text-anchor="middle">1000</text>
<text x="208" y="139.1" font-size="5.5" text-anchor="end">10<tspan font-size="4.5" dx="0.3" dy="-2.2">2</tspan></text>
<text x="208" y="100.47" font-size="5.5" text-anchor="end">10<tspan font-size="4.5" dx="0.3" dy="-2.2">3</tspan></text>
<text x="208" y="61.83" font-size="5.5" text-anchor="end">10<tspan font-size="4.5" dx="0.3" dy="-2.2">4</tspan></text>
<text x="208" y="23.2" font-size="5.5" text-anchor="end">10<tspan font-size="4.5" dx="0.3" dy="-2.2">5</tspan></text>
<text x="279.35" y="17.2" font-size="6.6" font-weight="bold" text-anchor="middle" style="stroke-width:0.05px">F2</text>
<text x="279.35" y="153.3" font-size="6.5" text-anchor="middle">Iterations</text>
<text transform="translate(195.3 78.15) rotate(-90)" font-size="6.6" text-anchor="middle">Fitness</text>
<rect x="303.8" y="25.5" width="38.8" height="46.1" fill="#fff" stroke="#606060" stroke-width="0.8"/>
<line x1="306.2" y1="30.1" x2="323" y2="30.1" stroke="#1a1a1a" stroke-width="0.85"/>
<circle cx="314.6" cy="30.1" r="1.85" fill="#c4c4c4" fill-opacity="0.8" stroke="#101010" stroke-width="0.85"/>
<text x="324.9" y="32.1" font-size="5.1" style="stroke-width:0.25px">DBO</text>
<line x1="306.2" y1="37.48" x2="323" y2="37.48" stroke="#00f0ff" stroke-width="1.2"/>
<path d="M312.4 35.78l4.4 0l-2.2 3.5z" fill="#00ffff" stroke="#00e8ff" stroke-width="0.5"/>
<text x="324.9" y="39.48" font-size="5.1" style="stroke-width:0.25px">HHO</text>
<line x1="306.2" y1="44.86" x2="323" y2="44.86" stroke="#1530e0" stroke-width="1.0"/>
<path d="M312.4 46.46l2.2 -3.5l2.2 3.5z" fill="#b8b8ff" fill-opacity="0.7" stroke="#0000d0" stroke-width="0.8"/>
<text x="324.9" y="46.86" font-size="5.1" style="stroke-width:0.25px">POA</text>
<line x1="306.2" y1="52.24" x2="323" y2="52.24" stroke="#ff20ff" stroke-width="1.0"/>
<circle cx="314.6" cy="52.24" r="1.35" fill="#ff00ff"/>
<text x="324.9" y="54.24" font-size="5.1" style="stroke-width:0.25px">SSA</text>
<line x1="306.2" y1="59.62" x2="323" y2="59.62" stroke="#ffff00" stroke-width="1.25"/>
<circle cx="314.6" cy="59.62" r="1.7" fill="#ffff00"/>
<text x="324.9" y="61.62" font-size="5.1" style="stroke-width:0.25px">MPOA</text>
<line x1="306.2" y1="67" x2="323" y2="67" stroke="#10f010" stroke-width="1.15"/>
<circle cx="314.6" cy="67" r="1.5" fill="#00e000"/>
<text x="324.9" y="69" font-size="5.1" style="stroke-width:0.25px">IPOA</text>
</g>
<g>
<line x1="388.3" y1="134.5" x2="525.8" y2="134.5" stroke="#f1f1f1" stroke-width="0.5"/>
<line x1="388.3" y1="129.85" x2="525.8" y2="129.85" stroke="#f1f1f1" stroke-width="0.5"/>
<line x1="388.3" y1="125.23" x2="525.8" y2="125.23" stroke="#f1f1f1" stroke-width="0.5"/>
<line x1="388.3" y1="120.65" x2="525.8" y2="120.65" stroke="#f1f1f1" stroke-width="0.5"/>
<line x1="388.3" y1="116.11" x2="525.8" y2="116.11" stroke="#f1f1f1" stroke-width="0.5"/>
<line x1="388.3" y1="111.6" x2="525.8" y2="111.6" stroke="#f1f1f1" stroke-width="0.5"/>
<line x1="388.3" y1="107.13" x2="525.8" y2="107.13" stroke="#f1f1f1" stroke-width="0.5"/>
<line x1="388.3" y1="102.69" x2="525.8" y2="102.69" stroke="#f1f1f1" stroke-width="0.5"/>
<line x1="388.3" y1="98.28" x2="525.8" y2="98.28" stroke="#f1f1f1" stroke-width="0.5"/>
<line x1="388.3" y1="93.91" x2="525.8" y2="93.91" stroke="#f1f1f1" stroke-width="0.5"/>
<line x1="388.3" y1="89.57" x2="525.8" y2="89.57" stroke="#f1f1f1" stroke-width="0.5"/>
<line x1="388.3" y1="85.26" x2="525.8" y2="85.26" stroke="#f1f1f1" stroke-width="0.5"/>
<line x1="388.3" y1="80.99" x2="525.8" y2="80.99" stroke="#f1f1f1" stroke-width="0.5"/>
<line x1="388.3" y1="76.74" x2="525.8" y2="76.74" stroke="#f1f1f1" stroke-width="0.5"/>
<line x1="388.3" y1="72.53" x2="525.8" y2="72.53" stroke="#f1f1f1" stroke-width="0.5"/>
<line x1="388.3" y1="68.35" x2="525.8" y2="68.35" stroke="#f1f1f1" stroke-width="0.5"/>
<line x1="388.3" y1="64.19" x2="525.8" y2="64.19" stroke="#f1f1f1" stroke-width="0.5"/>
<line x1="388.3" y1="60.07" x2="525.8" y2="60.07" stroke="#f1f1f1" stroke-width="0.5"/>
<line x1="388.3" y1="55.98" x2="525.8" y2="55.98" stroke="#f1f1f1" stroke-width="0.5"/>
<line x1="388.3" y1="51.91" x2="525.8" y2="51.91" stroke="#f1f1f1" stroke-width="0.5"/>
<line x1="388.3" y1="47.87" x2="525.8" y2="47.87" stroke="#f1f1f1" stroke-width="0.5"/>
<line x1="388.3" y1="43.86" x2="525.8" y2="43.86" stroke="#f1f1f1" stroke-width="0.5"/>
<line x1="388.3" y1="39.88" x2="525.8" y2="39.88" stroke="#f1f1f1" stroke-width="0.5"/>
<line x1="388.3" y1="35.93" x2="525.8" y2="35.93" stroke="#f1f1f1" stroke-width="0.5"/>
<line x1="388.3" y1="32" x2="525.8" y2="32" stroke="#f1f1f1" stroke-width="0.5"/>
<line x1="388.3" y1="28.1" x2="525.8" y2="28.1" stroke="#f1f1f1" stroke-width="0.5"/>
<line x1="388.3" y1="24.22" x2="525.8" y2="24.22" stroke="#f1f1f1" stroke-width="0.5"/>
<line x1="388.3" y1="134.5" x2="525.8" y2="134.5" stroke="#e4e4e4" stroke-width="0.5"/>
<line x1="388.3" y1="116.11" x2="525.8" y2="116.11" stroke="#e4e4e4" stroke-width="0.5"/>
<line x1="388.3" y1="98.28" x2="525.8" y2="98.28" stroke="#e4e4e4" stroke-width="0.5"/>
<line x1="388.3" y1="80.99" x2="525.8" y2="80.99" stroke="#e4e4e4" stroke-width="0.5"/>
<line x1="388.3" y1="64.19" x2="525.8" y2="64.19" stroke="#e4e4e4" stroke-width="0.5"/>
<line x1="388.3" y1="47.87" x2="525.8" y2="47.87" stroke="#e4e4e4" stroke-width="0.5"/>
<line x1="388.3" y1="32" x2="525.8" y2="32" stroke="#e4e4e4" stroke-width="0.5"/>
<line x1="415.8" y1="20.2" x2="415.8" y2="136.3" stroke="#e2e2e2" stroke-width="0.55"/>
<line x1="443.3" y1="20.2" x2="443.3" y2="136.3" stroke="#e2e2e2" stroke-width="0.55"/>
<line x1="470.8" y1="20.2" x2="470.8" y2="136.3" stroke="#e2e2e2" stroke-width="0.55"/>
<line x1="498.3" y1="20.2" x2="498.3" y2="136.3" stroke="#e2e2e2" stroke-width="0.55"/>
<rect x="388.3" y="20.2" width="137.5" height="116.1" fill="none" stroke="#8a8a8a" stroke-width="1.0"/>
<clipPath id="cF3"><rect x="385.3" y="17.2" width="143.5" height="119.6"/></clipPath>
<g clip-path="url(#cF3)">
<path d="M388.3 28.2 395.5 95.6 424.5 95.6 431.8 103.4 439 105.5 446.2 108.5 453.5 112.9 460.7 118.6 468 119.1 475.2 120.3 482.4 120.8 489.7 120.8 496.9 124.7 504.1 124.7 511.4 125.2 518.6 127.3 525.8 128.9" fill="none" stroke="#1a1a1a" stroke-width="0.85" stroke-linejoin="round"/>
<circle cx="388.3" cy="28.2" r="1.85" fill="#c4c4c4" fill-opacity="0.8" stroke="#101010" stroke-width="0.85"/>
<circle cx="395.54" cy="95.6" r="1.85" fill="#c4c4c4" fill-opacity="0.8" stroke="#101010" stroke-width="0.85"/>
<circle cx="402.77" cy="95.6" r="1.85" fill="#c4c4c4" fill-opacity="0.8" stroke="#101010" stroke-width="0.85"/>
<circle cx="410.01" cy="95.6" r="1.85" fill="#c4c4c4" fill-opacity="0.8" stroke="#101010" stroke-width="0.85"/>
<circle cx="417.25" cy="95.6" r="1.85" fill="#c4c4c4" fill-opacity="0.8" stroke="#101010" stroke-width="0.85"/>
<circle cx="424.48" cy="95.6" r="1.85" fill="#c4c4c4" fill-opacity="0.8" stroke="#101010" stroke-width="0.85"/>
<circle cx="431.72" cy="103.32" r="1.85" fill="#c4c4c4" fill-opacity="0.8" stroke="#101010" stroke-width="0.85"/>
<circle cx="438.96" cy="105.49" r="1.85" fill="#c4c4c4" fill-opacity="0.8" stroke="#101010" stroke-width="0.85"/>
<circle cx="446.19" cy="108.5" r="1.85" fill="#c4c4c4" fill-opacity="0.8" stroke="#101010" stroke-width="0.85"/>
<circle cx="453.43" cy="112.86" r="1.85" fill="#c4c4c4" fill-opacity="0.8" stroke="#101010" stroke-width="0.85"/>
<circle cx="460.67" cy="118.58" r="1.85" fill="#c4c4c4" fill-opacity="0.8" stroke="#101010" stroke-width="0.85"/>
<circle cx="467.91" cy="119.09" r="1.85" fill="#c4c4c4" fill-opacity="0.8" stroke="#101010" stroke-width="0.85"/>
<circle cx="475.14" cy="120.29" r="1.85" fill="#c4c4c4" fill-opacity="0.8" stroke="#101010" stroke-width="0.85"/>
<circle cx="482.38" cy="120.8" r="1.85" fill="#c4c4c4" fill-opacity="0.8" stroke="#101010" stroke-width="0.85"/>
<circle cx="489.62" cy="120.8" r="1.85" fill="#c4c4c4" fill-opacity="0.8" stroke="#101010" stroke-width="0.85"/>
<circle cx="496.85" cy="124.67" r="1.85" fill="#c4c4c4" fill-opacity="0.8" stroke="#101010" stroke-width="0.85"/>
<circle cx="504.09" cy="124.7" r="1.85" fill="#c4c4c4" fill-opacity="0.8" stroke="#101010" stroke-width="0.85"/>
<circle cx="511.33" cy="125.19" r="1.85" fill="#c4c4c4" fill-opacity="0.8" stroke="#101010" stroke-width="0.85"/>
<circle cx="518.56" cy="127.29" r="1.85" fill="#c4c4c4" fill-opacity="0.8" stroke="#101010" stroke-width="0.85"/>
<circle cx="525.8" cy="128.9" r="1.85" fill="#c4c4c4" fill-opacity="0.8" stroke="#101010" stroke-width="0.85"/>
<path d="M388.3 20.5 395.5 70.7 402.8 80.6 410 86.1 417.2 86.1 424.5 91.8 431.8 95.6 439 98 446.2 98.2 453.5 99 460.7 99.8 468 100.6 475.2 101.1 482.4 101.5 489.7 101.8 511.4 102 525.8 102.3" fill="none" stroke="#00f0ff" stroke-width="1.2" stroke-linejoin="round"/>
<path d="M386.1 18.8l4.4 0l-2.2 3.5z" fill="#00ffff" stroke="#00e8ff" stroke-width="0.5"/>
<path d="M393.34 69.05l4.4 0l-2.2 3.5z" fill="#00ffff" stroke="#00e8ff" stroke-width="0.5"/>
<path d="M400.57 78.86l4.4 0l-2.2 3.5z" fill="#00ffff" stroke="#00e8ff" stroke-width="0.5"/>
<path d="M407.81 84.4l4.4 0l-2.2 3.5z" fill="#00ffff" stroke="#00e8ff" stroke-width="0.5"/>
<path d="M415.05 84.44l4.4 0l-2.2 3.5z" fill="#00ffff" stroke="#00e8ff" stroke-width="0.5"/>
<path d="M422.28 90.09l4.4 0l-2.2 3.5z" fill="#00ffff" stroke="#00e8ff" stroke-width="0.5"/>
<path d="M429.52 93.86l4.4 0l-2.2 3.5z" fill="#00ffff" stroke="#00e8ff" stroke-width="0.5"/>
<path d="M436.76 96.29l4.4 0l-2.2 3.5z" fill="#00ffff" stroke="#00e8ff" stroke-width="0.5"/>
<path d="M443.99 96.5l4.4 0l-2.2 3.5z" fill="#00ffff" stroke="#00e8ff" stroke-width="0.5"/>
<path d="M451.23 97.29l4.4 0l-2.2 3.5z" fill="#00ffff" stroke="#00e8ff" stroke-width="0.5"/>
<path d="M458.47 98.1l4.4 0l-2.2 3.5z" fill="#00ffff" stroke="#00e8ff" stroke-width="0.5"/>
<path d="M465.71 98.89l4.4 0l-2.2 3.5z" fill="#00ffff" stroke="#00e8ff" stroke-width="0.5"/>
<path d="M472.94 99.4l4.4 0l-2.2 3.5z" fill="#00ffff" stroke="#00e8ff" stroke-width="0.5"/>
<path d="M480.18 99.8l4.4 0l-2.2 3.5z" fill="#00ffff" stroke="#00e8ff" stroke-width="0.5"/>
<path d="M487.42 100.1l4.4 0l-2.2 3.5z" fill="#00ffff" stroke="#00e8ff" stroke-width="0.5"/>
<path d="M494.65 100.17l4.4 0l-2.2 3.5z" fill="#00ffff" stroke="#00e8ff" stroke-width="0.5"/>
<path d="M501.89 100.23l4.4 0l-2.2 3.5z" fill="#00ffff" stroke="#00e8ff" stroke-width="0.5"/>
<path d="M509.13 100.3l4.4 0l-2.2 3.5z" fill="#00ffff" stroke="#00e8ff" stroke-width="0.5"/>
<path d="M516.36 100.45l4.4 0l-2.2 3.5z" fill="#00ffff" stroke="#00e8ff" stroke-width="0.5"/>
<path d="M523.6 100.6l4.4 0l-2.2 3.5z" fill="#00ffff" stroke="#00e8ff" stroke-width="0.5"/>
<path d="M388.3 42.4 395.5 85.3 402.8 87 410 95.6 417.2 103.4 424.5 103.4 431.8 106.1 468 106.4 475.2 107.7 482.4 108.3 489.7 108.8 496.9 109.3 504.1 109.3 511.4 109.6 518.6 111.2 525.8 113.2" fill="none" stroke="#1530e0" stroke-width="1.0" stroke-linejoin="round"/>
<path d="M386.1 44l2.2 -3.5l2.2 3.5z" fill="#b8b8ff" fill-opacity="0.7" stroke="#0000d0" stroke-width="0.8"/>
<path d="M393.34 86.91l2.2 -3.5l2.2 3.5z" fill="#b8b8ff" fill-opacity="0.7" stroke="#0000d0" stroke-width="0.8"/>
<path d="M400.57 88.59l2.2 -3.5l2.2 3.5z" fill="#b8b8ff" fill-opacity="0.7" stroke="#0000d0" stroke-width="0.8"/>
<path d="M407.81 97.21l2.2 -3.5l2.2 3.5z" fill="#b8b8ff" fill-opacity="0.7" stroke="#0000d0" stroke-width="0.8"/>
<path d="M415.05 105l2.2 -3.5l2.2 3.5z" fill="#b8b8ff" fill-opacity="0.7" stroke="#0000d0" stroke-width="0.8"/>
<path d="M422.28 105l2.2 -3.5l2.2 3.5z" fill="#b8b8ff" fill-opacity="0.7" stroke="#0000d0" stroke-width="0.8"/>
<path d="M429.52 107.67l2.2 -3.5l2.2 3.5z" fill="#b8b8ff" fill-opacity="0.7" stroke="#0000d0" stroke-width="0.8"/>
<path d="M436.76 107.76l2.2 -3.5l2.2 3.5z" fill="#b8b8ff" fill-opacity="0.7" stroke="#0000d0" stroke-width="0.8"/>
<path d="M443.99 107.82l2.2 -3.5l2.2 3.5z" fill="#b8b8ff" fill-opacity="0.7" stroke="#0000d0" stroke-width="0.8"/>
<path d="M451.23 107.88l2.2 -3.5l2.2 3.5z" fill="#b8b8ff" fill-opacity="0.7" stroke="#0000d0" stroke-width="0.8"/>
<path d="M458.47 107.94l2.2 -3.5l2.2 3.5z" fill="#b8b8ff" fill-opacity="0.7" stroke="#0000d0" stroke-width="0.8"/>
<path d="M465.71 108l2.2 -3.5l2.2 3.5z" fill="#b8b8ff" fill-opacity="0.7" stroke="#0000d0" stroke-width="0.8"/>
<path d="M472.94 109.29l2.2 -3.5l2.2 3.5z" fill="#b8b8ff" fill-opacity="0.7" stroke="#0000d0" stroke-width="0.8"/>
<path d="M480.18 109.9l2.2 -3.5l2.2 3.5z" fill="#b8b8ff" fill-opacity="0.7" stroke="#0000d0" stroke-width="0.8"/>
<path d="M487.42 110.39l2.2 -3.5l2.2 3.5z" fill="#b8b8ff" fill-opacity="0.7" stroke="#0000d0" stroke-width="0.8"/>
<path d="M494.65 110.9l2.2 -3.5l2.2 3.5z" fill="#b8b8ff" fill-opacity="0.7" stroke="#0000d0" stroke-width="0.8"/>
<path d="M501.89 110.9l2.2 -3.5l2.2 3.5z" fill="#b8b8ff" fill-opacity="0.7" stroke="#0000d0" stroke-width="0.8"/>
<path d="M509.13 111.2l2.2 -3.5l2.2 3.5z" fill="#b8b8ff" fill-opacity="0.7" stroke="#0000d0" stroke-width="0.8"/>
<path d="M516.36 112.79l2.2 -3.5l2.2 3.5z" fill="#b8b8ff" fill-opacity="0.7" stroke="#0000d0" stroke-width="0.8"/>
<path d="M523.6 114.8l2.2 -3.5l2.2 3.5z" fill="#b8b8ff" fill-opacity="0.7" stroke="#0000d0" stroke-width="0.8"/>
<path d="M388.3 24.2 395.5 83 402.8 95.4 410 105.7 417.2 109.2 424.5 113.7 468 114.2 475.2 116.5 482.4 119 525.8 119" fill="none" stroke="#ff20ff" stroke-width="1.0" stroke-linejoin="round"/>
<circle cx="388.3" cy="24.2" r="1.35" fill="#ff00ff"/>
<circle cx="395.54" cy="83.06" r="1.35" fill="#ff00ff"/>
<circle cx="402.77" cy="95.36" r="1.35" fill="#ff00ff"/>
<circle cx="410.01" cy="105.71" r="1.35" fill="#ff00ff"/>
<circle cx="417.25" cy="109.23" r="1.35" fill="#ff00ff"/>
<circle cx="424.48" cy="113.69" r="1.35" fill="#ff00ff"/>
<circle cx="431.72" cy="113.78" r="1.35" fill="#ff00ff"/>
<circle cx="438.96" cy="113.87" r="1.35" fill="#ff00ff"/>
<circle cx="446.19" cy="113.95" r="1.35" fill="#ff00ff"/>
<circle cx="453.43" cy="114.03" r="1.35" fill="#ff00ff"/>
<circle cx="460.67" cy="114.12" r="1.35" fill="#ff00ff"/>
<circle cx="467.91" cy="114.2" r="1.35" fill="#ff00ff"/>
<circle cx="475.14" cy="116.48" r="1.35" fill="#ff00ff"/>
<circle cx="482.38" cy="118.99" r="1.35" fill="#ff00ff"/>
<circle cx="489.62" cy="119" r="1.35" fill="#ff00ff"/>
<circle cx="496.85" cy="119" r="1.35" fill="#ff00ff"/>
<circle cx="504.09" cy="119" r="1.35" fill="#ff00ff"/>
<circle cx="511.33" cy="119" r="1.35" fill="#ff00ff"/>
<circle cx="518.56" cy="119" r="1.35" fill="#ff00ff"/>
<circle cx="525.8" cy="119" r="1.35" fill="#ff00ff"/>
<path d="M388.3 58.2 395.5 117.6 402.8 125.5 410 130.2 417.2 134.6 424.5 135.3 525.8 135.3" fill="none" stroke="#ffff00" stroke-width="1.25" stroke-linejoin="round"/>
<circle cx="388.3" cy="58.2" r="1.7" fill="#ffff00"/>
<circle cx="395.54" cy="117.64" r="1.7" fill="#ffff00"/>
<circle cx="402.77" cy="125.47" r="1.7" fill="#ffff00"/>
<circle cx="410.01" cy="130.21" r="1.7" fill="#ffff00"/>
<circle cx="417.25" cy="134.6" r="1.7" fill="#ffff00"/>
<circle cx="424.48" cy="135.3" r="1.7" fill="#ffff00"/>
<circle cx="431.72" cy="135.3" r="1.7" fill="#ffff00"/>
<circle cx="438.96" cy="135.3" r="1.7" fill="#ffff00"/>
<circle cx="446.19" cy="135.3" r="1.7" fill="#ffff00"/>
<circle cx="453.43" cy="135.3" r="1.7" fill="#ffff00"/>
<circle cx="460.67" cy="135.3" r="1.7" fill="#ffff00"/>
<circle cx="467.91" cy="135.3" r="1.7" fill="#ffff00"/>
<circle cx="475.14" cy="135.3" r="1.7" fill="#ffff00"/>
<circle cx="482.38" cy="135.3" r="1.7" fill="#ffff00"/>
<circle cx="489.62" cy="135.3" r="1.7" fill="#ffff00"/>
<circle cx="496.85" cy="135.3" r="1.7" fill="#ffff00"/>
<circle cx="504.09" cy="135.3" r="1.7" fill="#ffff00"/>
<circle cx="511.33" cy="135.3" r="1.7" fill="#ffff00"/>
<circle cx="518.56" cy="135.3" r="1.7" fill="#ffff00"/>
<circle cx="525.8" cy="135.3" r="1.7" fill="#ffff00"/>
<path d="M388.3 45.8 395.5 103.2 402.8 122.3 410 125.2 417.2 126.1 431.8 126.1 439 128.6 446.2 131.2 453.5 132.2 460.7 132.8 468 133.1 525.8 133.1" fill="none" stroke="#10f010" stroke-width="1.15" stroke-linejoin="round"/>
<circle cx="388.3" cy="45.8" r="1.5" fill="#00e000"/>
<circle cx="395.54" cy="103.3" r="1.5" fill="#00e000"/>
<circle cx="402.77" cy="122.23" r="1.5" fill="#00e000"/>
<circle cx="410.01" cy="125.2" r="1.5" fill="#00e000"/>
<circle cx="417.25" cy="126.1" r="1.5" fill="#00e000"/>
<circle cx="424.48" cy="126.1" r="1.5" fill="#00e000"/>
<circle cx="431.72" cy="126.1" r="1.5" fill="#00e000"/>
<circle cx="438.96" cy="128.59" r="1.5" fill="#00e000"/>
<circle cx="446.19" cy="131.2" r="1.5" fill="#00e000"/>
<circle cx="453.43" cy="132.19" r="1.5" fill="#00e000"/>
<circle cx="460.67" cy="132.8" r="1.5" fill="#00e000"/>
<circle cx="467.91" cy="133.1" r="1.5" fill="#00e000"/>
<circle cx="475.14" cy="133.1" r="1.5" fill="#00e000"/>
<circle cx="482.38" cy="133.1" r="1.5" fill="#00e000"/>
<circle cx="489.62" cy="133.1" r="1.5" fill="#00e000"/>
<circle cx="496.85" cy="133.1" r="1.5" fill="#00e000"/>
<circle cx="504.09" cy="133.1" r="1.5" fill="#00e000"/>
<circle cx="511.33" cy="133.1" r="1.5" fill="#00e000"/>
<circle cx="518.56" cy="133.1" r="1.5" fill="#00e000"/>
<circle cx="525.8" cy="133.1" r="1.5" fill="#00e000"/>
</g>
<line x1="388.3" y1="136.3" x2="388.3" y2="135" stroke="#8a8a8a" stroke-width="0.6"/>
<line x1="388.3" y1="20.2" x2="388.3" y2="21.5" stroke="#8a8a8a" stroke-width="0.6"/>
<line x1="415.8" y1="136.3" x2="415.8" y2="135" stroke="#8a8a8a" stroke-width="0.6"/>
<line x1="415.8" y1="20.2" x2="415.8" y2="21.5" stroke="#8a8a8a" stroke-width="0.6"/>
<line x1="443.3" y1="136.3" x2="443.3" y2="135" stroke="#8a8a8a" stroke-width="0.6"/>
<line x1="443.3" y1="20.2" x2="443.3" y2="21.5" stroke="#8a8a8a" stroke-width="0.6"/>
<line x1="470.8" y1="136.3" x2="470.8" y2="135" stroke="#8a8a8a" stroke-width="0.6"/>
<line x1="470.8" y1="20.2" x2="470.8" y2="21.5" stroke="#8a8a8a" stroke-width="0.6"/>
<line x1="498.3" y1="136.3" x2="498.3" y2="135" stroke="#8a8a8a" stroke-width="0.6"/>
<line x1="498.3" y1="20.2" x2="498.3" y2="21.5" stroke="#8a8a8a" stroke-width="0.6"/>
<line x1="525.8" y1="136.3" x2="525.8" y2="135" stroke="#8a8a8a" stroke-width="0.6"/>
<line x1="525.8" y1="20.2" x2="525.8" y2="21.5" stroke="#8a8a8a" stroke-width="0.6"/>
<line x1="388.3" y1="134.5" x2="389.6" y2="134.5" stroke="#8a8a8a" stroke-width="0.6"/>
<line x1="525.8" y1="134.5" x2="524.5" y2="134.5" stroke="#8a8a8a" stroke-width="0.6"/>
<line x1="388.3" y1="116.11" x2="389.6" y2="116.11" stroke="#8a8a8a" stroke-width="0.6"/>
<line x1="525.8" y1="116.11" x2="524.5" y2="116.11" stroke="#8a8a8a" stroke-width="0.6"/>
<line x1="388.3" y1="98.28" x2="389.6" y2="98.28" stroke="#8a8a8a" stroke-width="0.6"/>
<line x1="525.8" y1="98.28" x2="524.5" y2="98.28" stroke="#8a8a8a" stroke-width="0.6"/>
<line x1="388.3" y1="80.99" x2="389.6" y2="80.99" stroke="#8a8a8a" stroke-width="0.6"/>
<line x1="525.8" y1="80.99" x2="524.5" y2="80.99" stroke="#8a8a8a" stroke-width="0.6"/>
<line x1="388.3" y1="64.19" x2="389.6" y2="64.19" stroke="#8a8a8a" stroke-width="0.6"/>
<line x1="525.8" y1="64.19" x2="524.5" y2="64.19" stroke="#8a8a8a" stroke-width="0.6"/>
<line x1="388.3" y1="47.87" x2="389.6" y2="47.87" stroke="#8a8a8a" stroke-width="0.6"/>
<line x1="525.8" y1="47.87" x2="524.5" y2="47.87" stroke="#8a8a8a" stroke-width="0.6"/>
<line x1="388.3" y1="32" x2="389.6" y2="32" stroke="#8a8a8a" stroke-width="0.6"/>
<line x1="525.8" y1="32" x2="524.5" y2="32" stroke="#8a8a8a" stroke-width="0.6"/>
<text x="388.3" y="144.6" font-size="5.9" text-anchor="middle">0</text>
<text x="415.8" y="144.6" font-size="5.9" text-anchor="middle">200</text>
<text x="443.3" y="144.6" font-size="5.9" text-anchor="middle">400</text>
<text x="470.8" y="144.6" font-size="5.9" text-anchor="middle">600</text>
<text x="498.3" y="144.6" font-size="5.9" text-anchor="middle">800</text>
<text x="525.8" y="144.6" font-size="5.9" text-anchor="middle">1000</text>
<text x="386.3" y="136.4" font-size="5.9" text-anchor="end">620</text>
<text x="386.3" y="118.01" font-size="5.9" text-anchor="end">640</text>
<text x="386.3" y="100.18" font-size="5.9" text-anchor="end">660</text>
<text x="386.3" y="82.89" font-size="5.9" text-anchor="end">680</text>
<text x="386.3" y="66.09" font-size="5.9" text-anchor="end">700</text>
<text x="386.3" y="49.77" font-size="5.9" text-anchor="end">720</text>
<text x="386.3" y="33.9" font-size="5.9" text-anchor="end">740</text>
<text x="457.05" y="17.2" font-size="6.6" font-weight="bold" text-anchor="middle" style="stroke-width:0.05px">F3</text>
<text x="457.05" y="153.5" font-size="6.5" text-anchor="middle">Iterations</text>
<text transform="translate(372.7 78.25) rotate(-90)" font-size="6.6" text-anchor="middle">Fitness</text>
<rect x="481.4" y="25.5" width="38.8" height="46.1" fill="#fff" stroke="#606060" stroke-width="0.8"/>
<line x1="483.8" y1="30.1" x2="500.6" y2="30.1" stroke="#1a1a1a" stroke-width="0.85"/>
<circle cx="492.2" cy="30.1" r="1.85" fill="#c4c4c4" fill-opacity="0.8" stroke="#101010" stroke-width="0.85"/>
<text x="502.5" y="32.1" font-size="5.1" style="stroke-width:0.25px">DBO</text>
<line x1="483.8" y1="37.48" x2="500.6" y2="37.48" stroke="#00f0ff" stroke-width="1.2"/>
<path d="M490 35.78l4.4 0l-2.2 3.5z" fill="#00ffff" stroke="#00e8ff" stroke-width="0.5"/>
<text x="502.5" y="39.48" font-size="5.1" style="stroke-width:0.25px">HHO</text>
<line x1="483.8" y1="44.86" x2="500.6" y2="44.86" stroke="#1530e0" stroke-width="1.0"/>
<path d="M490 46.46l2.2 -3.5l2.2 3.5z" fill="#b8b8ff" fill-opacity="0.7" stroke="#0000d0" stroke-width="0.8"/>
<text x="502.5" y="46.86" font-size="5.1" style="stroke-width:0.25px">POA</text>
<line x1="483.8" y1="52.24" x2="500.6" y2="52.24" stroke="#ff20ff" stroke-width="1.0"/>
<circle cx="492.2" cy="52.24" r="1.35" fill="#ff00ff"/>
<text x="502.5" y="54.24" font-size="5.1" style="stroke-width:0.25px">SSA</text>
<line x1="483.8" y1="59.62" x2="500.6" y2="59.62" stroke="#ffff00" stroke-width="1.25"/>
<circle cx="492.2" cy="59.62" r="1.7" fill="#ffff00"/>
<text x="502.5" y="61.62" font-size="5.1" style="stroke-width:0.25px">MPOA</text>
<line x1="483.8" y1="67" x2="500.6" y2="67" stroke="#10f010" stroke-width="1.15"/>
<circle cx="492.2" cy="67" r="1.5" fill="#00e000"/>
<text x="502.5" y="69" font-size="5.1" style="stroke-width:0.25px">IPOA</text>
</g>
<g>
<line x1="32.6" y1="265.51" x2="170.2" y2="265.51" stroke="#f1f1f1" stroke-width="0.5"/>
<line x1="32.6" y1="255.28" x2="170.2" y2="255.28" stroke="#f1f1f1" stroke-width="0.5"/>
<line x1="32.6" y1="248.02" x2="170.2" y2="248.02" stroke="#f1f1f1" stroke-width="0.5"/>
<line x1="32.6" y1="242.39" x2="170.2" y2="242.39" stroke="#f1f1f1" stroke-width="0.5"/>
<line x1="32.6" y1="237.79" x2="170.2" y2="237.79" stroke="#f1f1f1" stroke-width="0.5"/>
<line x1="32.6" y1="233.9" x2="170.2" y2="233.9" stroke="#f1f1f1" stroke-width="0.5"/>
<line x1="32.6" y1="230.53" x2="170.2" y2="230.53" stroke="#f1f1f1" stroke-width="0.5"/>
<line x1="32.6" y1="227.56" x2="170.2" y2="227.56" stroke="#f1f1f1" stroke-width="0.5"/>
<line x1="32.6" y1="207.41" x2="170.2" y2="207.41" stroke="#f1f1f1" stroke-width="0.5"/>
<line x1="32.6" y1="197.18" x2="170.2" y2="197.18" stroke="#f1f1f1" stroke-width="0.5"/>
<line x1="32.6" y1="189.92" x2="170.2" y2="189.92" stroke="#f1f1f1" stroke-width="0.5"/>
<line x1="32.6" y1="184.29" x2="170.2" y2="184.29" stroke="#f1f1f1" stroke-width="0.5"/>
<line x1="32.6" y1="179.69" x2="170.2" y2="179.69" stroke="#f1f1f1" stroke-width="0.5"/>
<line x1="32.6" y1="175.8" x2="170.2" y2="175.8" stroke="#f1f1f1" stroke-width="0.5"/>
<line x1="32.6" y1="172.43" x2="170.2" y2="172.43" stroke="#f1f1f1" stroke-width="0.5"/>
<line x1="32.6" y1="169.46" x2="170.2" y2="169.46" stroke="#f1f1f1" stroke-width="0.5"/>
<line x1="32.6" y1="283" x2="170.2" y2="283" stroke="#e4e4e4" stroke-width="0.5"/>
<line x1="32.6" y1="224.9" x2="170.2" y2="224.9" stroke="#e4e4e4" stroke-width="0.5"/>
<line x1="32.6" y1="166.8" x2="170.2" y2="166.8" stroke="#e4e4e4" stroke-width="0.5"/>
<line x1="60.12" y1="166.8" x2="60.12" y2="283" stroke="#e2e2e2" stroke-width="0.55"/>
<line x1="87.64" y1="166.8" x2="87.64" y2="283" stroke="#e2e2e2" stroke-width="0.55"/>
<line x1="115.16" y1="166.8" x2="115.16" y2="283" stroke="#e2e2e2" stroke-width="0.55"/>
<line x1="142.68" y1="166.8" x2="142.68" y2="283" stroke="#e2e2e2" stroke-width="0.55"/>
<rect x="32.6" y="166.8" width="137.6" height="116.2" fill="none" stroke="#8a8a8a" stroke-width="1.0"/>
<clipPath id="cF4"><rect x="29.6" y="163.8" width="143.6" height="119.7"/></clipPath>
<g clip-path="url(#cF4)">
<path d="M32.6 221 39.8 227.3 170.2 227.5" fill="none" stroke="#1a1a1a" stroke-width="0.85" stroke-linejoin="round"/>
<circle cx="32.6" cy="221" r="1.85" fill="#c4c4c4" fill-opacity="0.8" stroke="#101010" stroke-width="0.85"/>
<circle cx="39.84" cy="227.3" r="1.85" fill="#c4c4c4" fill-opacity="0.8" stroke="#101010" stroke-width="0.85"/>
<circle cx="47.08" cy="227.31" r="1.85" fill="#c4c4c4" fill-opacity="0.8" stroke="#101010" stroke-width="0.85"/>
<circle cx="54.33" cy="227.32" r="1.85" fill="#c4c4c4" fill-opacity="0.8" stroke="#101010" stroke-width="0.85"/>
<circle cx="61.57" cy="227.33" r="1.85" fill="#c4c4c4" fill-opacity="0.8" stroke="#101010" stroke-width="0.85"/>
<circle cx="68.81" cy="227.34" r="1.85" fill="#c4c4c4" fill-opacity="0.8" stroke="#101010" stroke-width="0.85"/>
<circle cx="76.05" cy="227.36" r="1.85" fill="#c4c4c4" fill-opacity="0.8" stroke="#101010" stroke-width="0.85"/>
<circle cx="83.29" cy="227.37" r="1.85" fill="#c4c4c4" fill-opacity="0.8" stroke="#101010" stroke-width="0.85"/>
<circle cx="90.54" cy="227.38" r="1.85" fill="#c4c4c4" fill-opacity="0.8" stroke="#101010" stroke-width="0.85"/>
<circle cx="97.78" cy="227.39" r="1.85" fill="#c4c4c4" fill-opacity="0.8" stroke="#101010" stroke-width="0.85"/>
<circle cx="105.02" cy="227.4" r="1.85" fill="#c4c4c4" fill-opacity="0.8" stroke="#101010" stroke-width="0.85"/>
<circle cx="112.26" cy="227.41" r="1.85" fill="#c4c4c4" fill-opacity="0.8" stroke="#101010" stroke-width="0.85"/>
<circle cx="119.51" cy="227.42" r="1.85" fill="#c4c4c4" fill-opacity="0.8" stroke="#101010" stroke-width="0.85"/>
<circle cx="126.75" cy="227.43" r="1.85" fill="#c4c4c4" fill-opacity="0.8" stroke="#101010" stroke-width="0.85"/>
<circle cx="133.99" cy="227.44" r="1.85" fill="#c4c4c4" fill-opacity="0.8" stroke="#101010" stroke-width="0.85"/>
<circle cx="141.23" cy="227.46" r="1.85" fill="#c4c4c4" fill-opacity="0.8" stroke="#101010" stroke-width="0.85"/>
<circle cx="148.47" cy="227.47" r="1.85" fill="#c4c4c4" fill-opacity="0.8" stroke="#101010" stroke-width="0.85"/>
<circle cx="155.72" cy="227.48" r="1.85" fill="#c4c4c4" fill-opacity="0.8" stroke="#101010" stroke-width="0.85"/>
<circle cx="162.96" cy="227.49" r="1.85" fill="#c4c4c4" fill-opacity="0.8" stroke="#101010" stroke-width="0.85"/>
<circle cx="170.2" cy="227.5" r="1.85" fill="#c4c4c4" fill-opacity="0.8" stroke="#101010" stroke-width="0.85"/>
<path d="M32.6 221 39.8 227.5 170.2 227.7" fill="none" stroke="#00f0ff" stroke-width="1.2" stroke-linejoin="round"/>
<path d="M30.4 219.3l4.4 0l-2.2 3.5z" fill="#00ffff" stroke="#00e8ff" stroke-width="0.5"/>
<path d="M37.64 225.8l4.4 0l-2.2 3.5z" fill="#00ffff" stroke="#00e8ff" stroke-width="0.5"/>
<path d="M44.88 225.81l4.4 0l-2.2 3.5z" fill="#00ffff" stroke="#00e8ff" stroke-width="0.5"/>
<path d="M52.13 225.82l4.4 0l-2.2 3.5z" fill="#00ffff" stroke="#00e8ff" stroke-width="0.5"/>
<path d="M59.37 225.83l4.4 0l-2.2 3.5z" fill="#00ffff" stroke="#00e8ff" stroke-width="0.5"/>
<path d="M66.61 225.84l4.4 0l-2.2 3.5z" fill="#00ffff" stroke="#00e8ff" stroke-width="0.5"/>
<path d="M73.85 225.86l4.4 0l-2.2 3.5z" fill="#00ffff" stroke="#00e8ff" stroke-width="0.5"/>
<path d="M81.09 225.87l4.4 0l-2.2 3.5z" fill="#00ffff" stroke="#00e8ff" stroke-width="0.5"/>
<path d="M88.34 225.88l4.4 0l-2.2 3.5z" fill="#00ffff" stroke="#00e8ff" stroke-width="0.5"/>
<path d="M95.58 225.89l4.4 0l-2.2 3.5z" fill="#00ffff" stroke="#00e8ff" stroke-width="0.5"/>
<path d="M102.82 225.9l4.4 0l-2.2 3.5z" fill="#00ffff" stroke="#00e8ff" stroke-width="0.5"/>
<path d="M110.06 225.91l4.4 0l-2.2 3.5z" fill="#00ffff" stroke="#00e8ff" stroke-width="0.5"/>
<path d="M117.31 225.92l4.4 0l-2.2 3.5z" fill="#00ffff" stroke="#00e8ff" stroke-width="0.5"/>
<path d="M124.55 225.93l4.4 0l-2.2 3.5z" fill="#00ffff" stroke="#00e8ff" stroke-width="0.5"/>
<path d="M131.79 225.94l4.4 0l-2.2 3.5z" fill="#00ffff" stroke="#00e8ff" stroke-width="0.5"/>
<path d="M139.03 225.96l4.4 0l-2.2 3.5z" fill="#00ffff" stroke="#00e8ff" stroke-width="0.5"/>
<path d="M146.27 225.97l4.4 0l-2.2 3.5z" fill="#00ffff" stroke="#00e8ff" stroke-width="0.5"/>
<path d="M153.52 225.98l4.4 0l-2.2 3.5z" fill="#00ffff" stroke="#00e8ff" stroke-width="0.5"/>
<path d="M160.76 225.99l4.4 0l-2.2 3.5z" fill="#00ffff" stroke="#00e8ff" stroke-width="0.5"/>
<path d="M168 226l4.4 0l-2.2 3.5z" fill="#00ffff" stroke="#00e8ff" stroke-width="0.5"/>
<path d="M32.6 221 39.8 228.2 170.2 228.4" fill="none" stroke="#1530e0" stroke-width="1.0" stroke-linejoin="round"/>
<path d="M30.4 222.6l2.2 -3.5l2.2 3.5z" fill="#b8b8ff" fill-opacity="0.7" stroke="#0000d0" stroke-width="0.8"/>
<path d="M37.64 229.8l2.2 -3.5l2.2 3.5z" fill="#b8b8ff" fill-opacity="0.7" stroke="#0000d0" stroke-width="0.8"/>
<path d="M44.88 229.81l2.2 -3.5l2.2 3.5z" fill="#b8b8ff" fill-opacity="0.7" stroke="#0000d0" stroke-width="0.8"/>
<path d="M52.13 229.82l2.2 -3.5l2.2 3.5z" fill="#b8b8ff" fill-opacity="0.7" stroke="#0000d0" stroke-width="0.8"/>
<path d="M59.37 229.83l2.2 -3.5l2.2 3.5z" fill="#b8b8ff" fill-opacity="0.7" stroke="#0000d0" stroke-width="0.8"/>
<path d="M66.61 229.84l2.2 -3.5l2.2 3.5z" fill="#b8b8ff" fill-opacity="0.7" stroke="#0000d0" stroke-width="0.8"/>
<path d="M73.85 229.86l2.2 -3.5l2.2 3.5z" fill="#b8b8ff" fill-opacity="0.7" stroke="#0000d0" stroke-width="0.8"/>
<path d="M81.09 229.87l2.2 -3.5l2.2 3.5z" fill="#b8b8ff" fill-opacity="0.7" stroke="#0000d0" stroke-width="0.8"/>
<path d="M88.34 229.88l2.2 -3.5l2.2 3.5z" fill="#b8b8ff" fill-opacity="0.7" stroke="#0000d0" stroke-width="0.8"/>
<path d="M95.58 229.89l2.2 -3.5l2.2 3.5z" fill="#b8b8ff" fill-opacity="0.7" stroke="#0000d0" stroke-width="0.8"/>
<path d="M102.82 229.9l2.2 -3.5l2.2 3.5z" fill="#b8b8ff" fill-opacity="0.7" stroke="#0000d0" stroke-width="0.8"/>
<path d="M110.06 229.91l2.2 -3.5l2.2 3.5z" fill="#b8b8ff" fill-opacity="0.7" stroke="#0000d0" stroke-width="0.8"/>
<path d="M117.31 229.92l2.2 -3.5l2.2 3.5z" fill="#b8b8ff" fill-opacity="0.7" stroke="#0000d0" stroke-width="0.8"/>
<path d="M124.55 229.93l2.2 -3.5l2.2 3.5z" fill="#b8b8ff" fill-opacity="0.7" stroke="#0000d0" stroke-width="0.8"/>
<path d="M131.79 229.94l2.2 -3.5l2.2 3.5z" fill="#b8b8ff" fill-opacity="0.7" stroke="#0000d0" stroke-width="0.8"/>
<path d="M139.03 229.96l2.2 -3.5l2.2 3.5z" fill="#b8b8ff" fill-opacity="0.7" stroke="#0000d0" stroke-width="0.8"/>
<path d="M146.27 229.97l2.2 -3.5l2.2 3.5z" fill="#b8b8ff" fill-opacity="0.7" stroke="#0000d0" stroke-width="0.8"/>
<path d="M153.52 229.98l2.2 -3.5l2.2 3.5z" fill="#b8b8ff" fill-opacity="0.7" stroke="#0000d0" stroke-width="0.8"/>
<path d="M160.76 229.99l2.2 -3.5l2.2 3.5z" fill="#b8b8ff" fill-opacity="0.7" stroke="#0000d0" stroke-width="0.8"/>
<path d="M168 230l2.2 -3.5l2.2 3.5z" fill="#b8b8ff" fill-opacity="0.7" stroke="#0000d0" stroke-width="0.8"/>
<path d="M32.6 221 39.8 226.4 170.2 226.6" fill="none" stroke="#ff20ff" stroke-width="1.0" stroke-linejoin="round"/>
<circle cx="32.6" cy="221" r="1.35" fill="#ff00ff"/>
<circle cx="39.84" cy="226.4" r="1.35" fill="#ff00ff"/>
<circle cx="47.08" cy="226.41" r="1.35" fill="#ff00ff"/>
<circle cx="54.33" cy="226.42" r="1.35" fill="#ff00ff"/>
<circle cx="61.57" cy="226.43" r="1.35" fill="#ff00ff"/>
<circle cx="68.81" cy="226.44" r="1.35" fill="#ff00ff"/>
<circle cx="76.05" cy="226.46" r="1.35" fill="#ff00ff"/>
<circle cx="83.29" cy="226.47" r="1.35" fill="#ff00ff"/>
<circle cx="90.54" cy="226.48" r="1.35" fill="#ff00ff"/>
<circle cx="97.78" cy="226.49" r="1.35" fill="#ff00ff"/>
<circle cx="105.02" cy="226.5" r="1.35" fill="#ff00ff"/>
<circle cx="112.26" cy="226.51" r="1.35" fill="#ff00ff"/>
<circle cx="119.51" cy="226.52" r="1.35" fill="#ff00ff"/>
<circle cx="126.75" cy="226.53" r="1.35" fill="#ff00ff"/>
<circle cx="133.99" cy="226.54" r="1.35" fill="#ff00ff"/>
<circle cx="141.23" cy="226.56" r="1.35" fill="#ff00ff"/>
<circle cx="148.47" cy="226.57" r="1.35" fill="#ff00ff"/>
<circle cx="155.72" cy="226.58" r="1.35" fill="#ff00ff"/>
<circle cx="162.96" cy="226.59" r="1.35" fill="#ff00ff"/>
<circle cx="170.2" cy="226.6" r="1.35" fill="#ff00ff"/>
<path d="M32.6 221 39.8 226 170.2 226.2" fill="none" stroke="#ffff00" stroke-width="1.25" stroke-linejoin="round"/>
<circle cx="32.6" cy="221" r="1.7" fill="#ffff00"/>
<circle cx="39.84" cy="226" r="1.7" fill="#ffff00"/>
<circle cx="47.08" cy="226.01" r="1.7" fill="#ffff00"/>
<circle cx="54.33" cy="226.02" r="1.7" fill="#ffff00"/>
<circle cx="61.57" cy="226.03" r="1.7" fill="#ffff00"/>
<circle cx="68.81" cy="226.04" r="1.7" fill="#ffff00"/>
<circle cx="76.05" cy="226.06" r="1.7" fill="#ffff00"/>
<circle cx="83.29" cy="226.07" r="1.7" fill="#ffff00"/>
<circle cx="90.54" cy="226.08" r="1.7" fill="#ffff00"/>
<circle cx="97.78" cy="226.09" r="1.7" fill="#ffff00"/>
<circle cx="105.02" cy="226.1" r="1.7" fill="#ffff00"/>
<circle cx="112.26" cy="226.11" r="1.7" fill="#ffff00"/>
<circle cx="119.51" cy="226.12" r="1.7" fill="#ffff00"/>
<circle cx="126.75" cy="226.13" r="1.7" fill="#ffff00"/>
<circle cx="133.99" cy="226.14" r="1.7" fill="#ffff00"/>
<circle cx="141.23" cy="226.16" r="1.7" fill="#ffff00"/>
<circle cx="148.47" cy="226.17" r="1.7" fill="#ffff00"/>
<circle cx="155.72" cy="226.18" r="1.7" fill="#ffff00"/>
<circle cx="162.96" cy="226.19" r="1.7" fill="#ffff00"/>
<circle cx="170.2" cy="226.2" r="1.7" fill="#ffff00"/>
<path d="M32.6 220.8 39.8 227.2 170.2 227.4" fill="none" stroke="#10f010" stroke-width="1.15" stroke-linejoin="round"/>
<circle cx="32.6" cy="220.8" r="1.5" fill="#00e000"/>
<circle cx="39.84" cy="227.2" r="1.5" fill="#00e000"/>
<circle cx="47.08" cy="227.21" r="1.5" fill="#00e000"/>
<circle cx="54.33" cy="227.22" r="1.5" fill="#00e000"/>
<circle cx="61.57" cy="227.23" r="1.5" fill="#00e000"/>
<circle cx="68.81" cy="227.24" r="1.5" fill="#00e000"/>
<circle cx="76.05" cy="227.26" r="1.5" fill="#00e000"/>
<circle cx="83.29" cy="227.27" r="1.5" fill="#00e000"/>
<circle cx="90.54" cy="227.28" r="1.5" fill="#00e000"/>
<circle cx="97.78" cy="227.29" r="1.5" fill="#00e000"/>
<circle cx="105.02" cy="227.3" r="1.5" fill="#00e000"/>
<circle cx="112.26" cy="227.31" r="1.5" fill="#00e000"/>
<circle cx="119.51" cy="227.32" r="1.5" fill="#00e000"/>
<circle cx="126.75" cy="227.33" r="1.5" fill="#00e000"/>
<circle cx="133.99" cy="227.34" r="1.5" fill="#00e000"/>
<circle cx="141.23" cy="227.36" r="1.5" fill="#00e000"/>
<circle cx="148.47" cy="227.37" r="1.5" fill="#00e000"/>
<circle cx="155.72" cy="227.38" r="1.5" fill="#00e000"/>
<circle cx="162.96" cy="227.39" r="1.5" fill="#00e000"/>
<circle cx="170.2" cy="227.4" r="1.5" fill="#00e000"/>
</g>
<line x1="32.6" y1="283" x2="32.6" y2="281.7" stroke="#8a8a8a" stroke-width="0.6"/>
<line x1="32.6" y1="166.8" x2="32.6" y2="168.1" stroke="#8a8a8a" stroke-width="0.6"/>
<line x1="60.12" y1="283" x2="60.12" y2="281.7" stroke="#8a8a8a" stroke-width="0.6"/>
<line x1="60.12" y1="166.8" x2="60.12" y2="168.1" stroke="#8a8a8a" stroke-width="0.6"/>
<line x1="87.64" y1="283" x2="87.64" y2="281.7" stroke="#8a8a8a" stroke-width="0.6"/>
<line x1="87.64" y1="166.8" x2="87.64" y2="168.1" stroke="#8a8a8a" stroke-width="0.6"/>
<line x1="115.16" y1="283" x2="115.16" y2="281.7" stroke="#8a8a8a" stroke-width="0.6"/>
<line x1="115.16" y1="166.8" x2="115.16" y2="168.1" stroke="#8a8a8a" stroke-width="0.6"/>
<line x1="142.68" y1="283" x2="142.68" y2="281.7" stroke="#8a8a8a" stroke-width="0.6"/>
<line x1="142.68" y1="166.8" x2="142.68" y2="168.1" stroke="#8a8a8a" stroke-width="0.6"/>
<line x1="170.2" y1="283" x2="170.2" y2="281.7" stroke="#8a8a8a" stroke-width="0.6"/>
<line x1="170.2" y1="166.8" x2="170.2" y2="168.1" stroke="#8a8a8a" stroke-width="0.6"/>
<line x1="32.6" y1="283" x2="33.9" y2="283" stroke="#8a8a8a" stroke-width="0.6"/>
<line x1="170.2" y1="283" x2="168.9" y2="283" stroke="#8a8a8a" stroke-width="0.6"/>
<line x1="32.6" y1="224.9" x2="33.9" y2="224.9" stroke="#8a8a8a" stroke-width="0.6"/>
<line x1="170.2" y1="224.9" x2="168.9" y2="224.9" stroke="#8a8a8a" stroke-width="0.6"/>
<line x1="32.6" y1="166.8" x2="33.9" y2="166.8" stroke="#8a8a8a" stroke-width="0.6"/>
<line x1="170.2" y1="166.8" x2="168.9" y2="166.8" stroke="#8a8a8a" stroke-width="0.6"/>
<text x="32.6" y="291.3" font-size="5.9" text-anchor="middle">0</text>
<text x="60.12" y="291.3" font-size="5.9" text-anchor="middle">200</text>
<text x="87.64" y="291.3" font-size="5.9" text-anchor="middle">400</text>
<text x="115.16" y="291.3" font-size="5.9" text-anchor="middle">600</text>
<text x="142.68" y="291.3" font-size="5.9" text-anchor="middle">800</text>
<text x="170.2" y="291.3" font-size="5.9" text-anchor="middle">1000</text>
<text x="30.1" y="286" font-size="5.5" text-anchor="end">10<tspan font-size="4.5" dx="0.3" dy="-2.2">2</tspan></text>
<text x="30.1" y="227.9" font-size="5.5" text-anchor="end">10<tspan font-size="4.5" dx="0.3" dy="-2.2">3</tspan></text>
<text x="30.1" y="169.8" font-size="5.5" text-anchor="end">10<tspan font-size="4.5" dx="0.3" dy="-2.2">4</tspan></text>
<text x="101.4" y="163.8" font-size="6.6" font-weight="bold" text-anchor="middle" style="stroke-width:0.05px">F4</text>
<text x="101.4" y="300.2" font-size="6.5" text-anchor="middle">Iterations</text>
<text transform="translate(17.8 224.9) rotate(-90)" font-size="6.6" text-anchor="middle">Fitness</text>
<rect x="125.8" y="172.4" width="38.8" height="46.1" fill="#fff" stroke="#606060" stroke-width="0.8"/>
<line x1="128.2" y1="177" x2="145" y2="177" stroke="#1a1a1a" stroke-width="0.85"/>
<circle cx="136.6" cy="177" r="1.85" fill="#c4c4c4" fill-opacity="0.8" stroke="#101010" stroke-width="0.85"/>
<text x="146.9" y="179" font-size="5.1" style="stroke-width:0.25px">DBO</text>
<line x1="128.2" y1="184.38" x2="145" y2="184.38" stroke="#00f0ff" stroke-width="1.2"/>
<path d="M134.4 182.68l4.4 0l-2.2 3.5z" fill="#00ffff" stroke="#00e8ff" stroke-width="0.5"/>
<text x="146.9" y="186.38" font-size="5.1" style="stroke-width:0.25px">HHO</text>
<line x1="128.2" y1="191.76" x2="145" y2="191.76" stroke="#1530e0" stroke-width="1.0"/>
<path d="M134.4 193.36l2.2 -3.5l2.2 3.5z" fill="#b8b8ff" fill-opacity="0.7" stroke="#0000d0" stroke-width="0.8"/>
<text x="146.9" y="193.76" font-size="5.1" style="stroke-width:0.25px">POA</text>
<line x1="128.2" y1="199.14" x2="145" y2="199.14" stroke="#ff20ff" stroke-width="1.0"/>
<circle cx="136.6" cy="199.14" r="1.35" fill="#ff00ff"/>
<text x="146.9" y="201.14" font-size="5.1" style="stroke-width:0.25px">SSA</text>
<line x1="128.2" y1="206.52" x2="145" y2="206.52" stroke="#ffff00" stroke-width="1.25"/>
<circle cx="136.6" cy="206.52" r="1.7" fill="#ffff00"/>
<text x="146.9" y="208.52" font-size="5.1" style="stroke-width:0.25px">MPOA</text>
<line x1="128.2" y1="213.9" x2="145" y2="213.9" stroke="#10f010" stroke-width="1.15"/>
<circle cx="136.6" cy="213.9" r="1.5" fill="#00e000"/>
<text x="146.9" y="215.9" font-size="5.1" style="stroke-width:0.25px">IPOA</text>
</g>
<g>
<line x1="210.4" y1="265.54" x2="348.4" y2="265.54" stroke="#f1f1f1" stroke-width="0.5"/>
<line x1="210.4" y1="255.33" x2="348.4" y2="255.33" stroke="#f1f1f1" stroke-width="0.5"/>
<line x1="210.4" y1="248.08" x2="348.4" y2="248.08" stroke="#f1f1f1" stroke-width="0.5"/>
<line x1="210.4" y1="242.46" x2="348.4" y2="242.46" stroke="#f1f1f1" stroke-width="0.5"/>
<line x1="210.4" y1="237.87" x2="348.4" y2="237.87" stroke="#f1f1f1" stroke-width="0.5"/>
<line x1="210.4" y1="233.98" x2="348.4" y2="233.98" stroke="#f1f1f1" stroke-width="0.5"/>
<line x1="210.4" y1="230.62" x2="348.4" y2="230.62" stroke="#f1f1f1" stroke-width="0.5"/>
<line x1="210.4" y1="227.65" x2="348.4" y2="227.65" stroke="#f1f1f1" stroke-width="0.5"/>
<line x1="210.4" y1="207.54" x2="348.4" y2="207.54" stroke="#f1f1f1" stroke-width="0.5"/>
<line x1="210.4" y1="197.33" x2="348.4" y2="197.33" stroke="#f1f1f1" stroke-width="0.5"/>
<line x1="210.4" y1="190.08" x2="348.4" y2="190.08" stroke="#f1f1f1" stroke-width="0.5"/>
<line x1="210.4" y1="184.46" x2="348.4" y2="184.46" stroke="#f1f1f1" stroke-width="0.5"/>
<line x1="210.4" y1="179.87" x2="348.4" y2="179.87" stroke="#f1f1f1" stroke-width="0.5"/>
<line x1="210.4" y1="175.98" x2="348.4" y2="175.98" stroke="#f1f1f1" stroke-width="0.5"/>
<line x1="210.4" y1="172.62" x2="348.4" y2="172.62" stroke="#f1f1f1" stroke-width="0.5"/>
<line x1="210.4" y1="169.65" x2="348.4" y2="169.65" stroke="#f1f1f1" stroke-width="0.5"/>
<line x1="210.4" y1="283" x2="348.4" y2="283" stroke="#e4e4e4" stroke-width="0.5"/>
<line x1="210.4" y1="225" x2="348.4" y2="225" stroke="#e4e4e4" stroke-width="0.5"/>
<line x1="210.4" y1="167" x2="348.4" y2="167" stroke="#e4e4e4" stroke-width="0.5"/>
<line x1="238" y1="167" x2="238" y2="283" stroke="#e2e2e2" stroke-width="0.55"/>
<line x1="265.6" y1="167" x2="265.6" y2="283" stroke="#e2e2e2" stroke-width="0.55"/>
<line x1="293.2" y1="167" x2="293.2" y2="283" stroke="#e2e2e2" stroke-width="0.55"/>
<line x1="320.8" y1="167" x2="320.8" y2="283" stroke="#e2e2e2" stroke-width="0.55"/>
<rect x="210.4" y="167" width="138" height="116" fill="none" stroke="#8a8a8a" stroke-width="1.0"/>
<clipPath id="cF5"><rect x="207.4" y="164" width="144" height="119.5"/></clipPath>
<g clip-path="url(#cF5)">
<path d="M210.4 240.9 217.1 246.6 224 246.8 230.9 252 237.7 254.6 244.6 258.2 260 259.5 270 260.1 304.8 260.9 340 263.5 348.4 265" fill="none" stroke="#1a1a1a" stroke-width="0.85" stroke-linejoin="round"/>
<circle cx="210.4" cy="240.9" r="1.85" fill="#c4c4c4" fill-opacity="0.8" stroke="#101010" stroke-width="0.85"/>
<circle cx="217.66" cy="246.62" r="1.85" fill="#c4c4c4" fill-opacity="0.8" stroke="#101010" stroke-width="0.85"/>
<circle cx="224.93" cy="247.5" r="1.85" fill="#c4c4c4" fill-opacity="0.8" stroke="#101010" stroke-width="0.85"/>
<circle cx="232.19" cy="252.49" r="1.85" fill="#c4c4c4" fill-opacity="0.8" stroke="#101010" stroke-width="0.85"/>
<circle cx="239.45" cy="255.51" r="1.85" fill="#c4c4c4" fill-opacity="0.8" stroke="#101010" stroke-width="0.85"/>
<circle cx="246.72" cy="258.38" r="1.85" fill="#c4c4c4" fill-opacity="0.8" stroke="#101010" stroke-width="0.85"/>
<circle cx="253.98" cy="258.99" r="1.85" fill="#c4c4c4" fill-opacity="0.8" stroke="#101010" stroke-width="0.85"/>
<circle cx="261.24" cy="259.57" r="1.85" fill="#c4c4c4" fill-opacity="0.8" stroke="#101010" stroke-width="0.85"/>
<circle cx="268.51" cy="260.01" r="1.85" fill="#c4c4c4" fill-opacity="0.8" stroke="#101010" stroke-width="0.85"/>
<circle cx="275.77" cy="260.23" r="1.85" fill="#c4c4c4" fill-opacity="0.8" stroke="#101010" stroke-width="0.85"/>
<circle cx="283.03" cy="260.4" r="1.85" fill="#c4c4c4" fill-opacity="0.8" stroke="#101010" stroke-width="0.85"/>
<circle cx="290.29" cy="260.57" r="1.85" fill="#c4c4c4" fill-opacity="0.8" stroke="#101010" stroke-width="0.85"/>
<circle cx="297.56" cy="260.73" r="1.85" fill="#c4c4c4" fill-opacity="0.8" stroke="#101010" stroke-width="0.85"/>
<circle cx="304.82" cy="260.9" r="1.85" fill="#c4c4c4" fill-opacity="0.8" stroke="#101010" stroke-width="0.85"/>
<circle cx="312.08" cy="261.44" r="1.85" fill="#c4c4c4" fill-opacity="0.8" stroke="#101010" stroke-width="0.85"/>
<circle cx="319.35" cy="261.97" r="1.85" fill="#c4c4c4" fill-opacity="0.8" stroke="#101010" stroke-width="0.85"/>
<circle cx="326.61" cy="262.51" r="1.85" fill="#c4c4c4" fill-opacity="0.8" stroke="#101010" stroke-width="0.85"/>
<circle cx="333.87" cy="263.05" r="1.85" fill="#c4c4c4" fill-opacity="0.8" stroke="#101010" stroke-width="0.85"/>
<circle cx="341.14" cy="263.7" r="1.85" fill="#c4c4c4" fill-opacity="0.8" stroke="#101010" stroke-width="0.85"/>
<circle cx="348.4" cy="265" r="1.85" fill="#c4c4c4" fill-opacity="0.8" stroke="#101010" stroke-width="0.85"/>
<path d="M210.4 212 217.1 242.8 224 245.6 230.9 247.8 237.7 248.2 270 248.5 275.4 251.6 282.4 254 290.1 254.4 297 254.7 304.8 255.5 311 259.4 317.9 260.9 325.6 261.7 348.4 261.7" fill="none" stroke="#00f0ff" stroke-width="1.2" stroke-linejoin="round"/>
<path d="M208.2 210.3l4.4 0l-2.2 3.5z" fill="#00ffff" stroke="#00e8ff" stroke-width="0.5"/>
<path d="M215.46 241.33l4.4 0l-2.2 3.5z" fill="#00ffff" stroke="#00e8ff" stroke-width="0.5"/>
<path d="M222.73 244.2l4.4 0l-2.2 3.5z" fill="#00ffff" stroke="#00e8ff" stroke-width="0.5"/>
<path d="M229.99 246.18l4.4 0l-2.2 3.5z" fill="#00ffff" stroke="#00e8ff" stroke-width="0.5"/>
<path d="M237.25 246.52l4.4 0l-2.2 3.5z" fill="#00ffff" stroke="#00e8ff" stroke-width="0.5"/>
<path d="M244.52 246.58l4.4 0l-2.2 3.5z" fill="#00ffff" stroke="#00e8ff" stroke-width="0.5"/>
<path d="M251.78 246.65l4.4 0l-2.2 3.5z" fill="#00ffff" stroke="#00e8ff" stroke-width="0.5"/>
<path d="M259.04 246.72l4.4 0l-2.2 3.5z" fill="#00ffff" stroke="#00e8ff" stroke-width="0.5"/>
<path d="M266.31 246.79l4.4 0l-2.2 3.5z" fill="#00ffff" stroke="#00e8ff" stroke-width="0.5"/>
<path d="M273.57 250.03l4.4 0l-2.2 3.5z" fill="#00ffff" stroke="#00e8ff" stroke-width="0.5"/>
<path d="M280.83 252.33l4.4 0l-2.2 3.5z" fill="#00ffff" stroke="#00e8ff" stroke-width="0.5"/>
<path d="M288.09 252.71l4.4 0l-2.2 3.5z" fill="#00ffff" stroke="#00e8ff" stroke-width="0.5"/>
<path d="M295.36 253.06l4.4 0l-2.2 3.5z" fill="#00ffff" stroke="#00e8ff" stroke-width="0.5"/>
<path d="M302.62 253.81l4.4 0l-2.2 3.5z" fill="#00ffff" stroke="#00e8ff" stroke-width="0.5"/>
<path d="M309.88 257.94l4.4 0l-2.2 3.5z" fill="#00ffff" stroke="#00e8ff" stroke-width="0.5"/>
<path d="M317.15 259.35l4.4 0l-2.2 3.5z" fill="#00ffff" stroke="#00e8ff" stroke-width="0.5"/>
<path d="M324.41 260l4.4 0l-2.2 3.5z" fill="#00ffff" stroke="#00e8ff" stroke-width="0.5"/>
<path d="M331.67 260l4.4 0l-2.2 3.5z" fill="#00ffff" stroke="#00e8ff" stroke-width="0.5"/>
<path d="M338.94 260l4.4 0l-2.2 3.5z" fill="#00ffff" stroke="#00e8ff" stroke-width="0.5"/>
<path d="M346.2 260l4.4 0l-2.2 3.5z" fill="#00ffff" stroke="#00e8ff" stroke-width="0.5"/>
<path d="M210.4 217.7 217.1 261.3 224 262.5 230.9 263.3 237.7 263.3 244.6 264.5 270 265.2 330 265.2 348.4 266.3" fill="none" stroke="#1530e0" stroke-width="1.0" stroke-linejoin="round"/>
<path d="M208.2 219.3l2.2 -3.5l2.2 3.5z" fill="#b8b8ff" fill-opacity="0.7" stroke="#0000d0" stroke-width="0.8"/>
<path d="M215.46 263l2.2 -3.5l2.2 3.5z" fill="#b8b8ff" fill-opacity="0.7" stroke="#0000d0" stroke-width="0.8"/>
<path d="M222.73 264.21l2.2 -3.5l2.2 3.5z" fill="#b8b8ff" fill-opacity="0.7" stroke="#0000d0" stroke-width="0.8"/>
<path d="M229.99 264.9l2.2 -3.5l2.2 3.5z" fill="#b8b8ff" fill-opacity="0.7" stroke="#0000d0" stroke-width="0.8"/>
<path d="M237.25 265.2l2.2 -3.5l2.2 3.5z" fill="#b8b8ff" fill-opacity="0.7" stroke="#0000d0" stroke-width="0.8"/>
<path d="M244.52 266.16l2.2 -3.5l2.2 3.5z" fill="#b8b8ff" fill-opacity="0.7" stroke="#0000d0" stroke-width="0.8"/>
<path d="M251.78 266.36l2.2 -3.5l2.2 3.5z" fill="#b8b8ff" fill-opacity="0.7" stroke="#0000d0" stroke-width="0.8"/>
<path d="M259.04 266.56l2.2 -3.5l2.2 3.5z" fill="#b8b8ff" fill-opacity="0.7" stroke="#0000d0" stroke-width="0.8"/>
<path d="M266.31 266.76l2.2 -3.5l2.2 3.5z" fill="#b8b8ff" fill-opacity="0.7" stroke="#0000d0" stroke-width="0.8"/>
<path d="M273.57 266.8l2.2 -3.5l2.2 3.5z" fill="#b8b8ff" fill-opacity="0.7" stroke="#0000d0" stroke-width="0.8"/>
<path d="M280.83 266.8l2.2 -3.5l2.2 3.5z" fill="#b8b8ff" fill-opacity="0.7" stroke="#0000d0" stroke-width="0.8"/>
<path d="M288.09 266.8l2.2 -3.5l2.2 3.5z" fill="#b8b8ff" fill-opacity="0.7" stroke="#0000d0" stroke-width="0.8"/>
<path d="M295.36 266.8l2.2 -3.5l2.2 3.5z" fill="#b8b8ff" fill-opacity="0.7" stroke="#0000d0" stroke-width="0.8"/>
<path d="M302.62 266.8l2.2 -3.5l2.2 3.5z" fill="#b8b8ff" fill-opacity="0.7" stroke="#0000d0" stroke-width="0.8"/>
<path d="M309.88 266.8l2.2 -3.5l2.2 3.5z" fill="#b8b8ff" fill-opacity="0.7" stroke="#0000d0" stroke-width="0.8"/>
<path d="M317.15 266.8l2.2 -3.5l2.2 3.5z" fill="#b8b8ff" fill-opacity="0.7" stroke="#0000d0" stroke-width="0.8"/>
<path d="M324.41 266.8l2.2 -3.5l2.2 3.5z" fill="#b8b8ff" fill-opacity="0.7" stroke="#0000d0" stroke-width="0.8"/>
<path d="M331.67 267.03l2.2 -3.5l2.2 3.5z" fill="#b8b8ff" fill-opacity="0.7" stroke="#0000d0" stroke-width="0.8"/>
<path d="M338.94 267.47l2.2 -3.5l2.2 3.5z" fill="#b8b8ff" fill-opacity="0.7" stroke="#0000d0" stroke-width="0.8"/>
<path d="M346.2 267.9l2.2 -3.5l2.2 3.5z" fill="#b8b8ff" fill-opacity="0.7" stroke="#0000d0" stroke-width="0.8"/>
<path d="M210.4 218.7 217.1 249.1 224 249.1 230.9 251.5 237.7 253 244.6 256 260 257 275.4 257 290.1 257.8 297 258.6 304.8 259.4 311 260.6 317.9 262.1 325.6 262.5 348.4 263.2" fill="none" stroke="#ff20ff" stroke-width="1.0" stroke-linejoin="round"/>
<circle cx="210.4" cy="218.7" r="1.35" fill="#ff00ff"/>
<circle cx="217.66" cy="249.1" r="1.35" fill="#ff00ff"/>
<circle cx="224.93" cy="249.42" r="1.35" fill="#ff00ff"/>
<circle cx="232.19" cy="251.78" r="1.35" fill="#ff00ff"/>
<circle cx="239.45" cy="253.76" r="1.35" fill="#ff00ff"/>
<circle cx="246.72" cy="256.14" r="1.35" fill="#ff00ff"/>
<circle cx="253.98" cy="256.61" r="1.35" fill="#ff00ff"/>
<circle cx="261.24" cy="257" r="1.35" fill="#ff00ff"/>
<circle cx="268.51" cy="257" r="1.35" fill="#ff00ff"/>
<circle cx="275.77" cy="257.02" r="1.35" fill="#ff00ff"/>
<circle cx="283.03" cy="257.42" r="1.35" fill="#ff00ff"/>
<circle cx="290.29" cy="257.82" r="1.35" fill="#ff00ff"/>
<circle cx="297.56" cy="258.66" r="1.35" fill="#ff00ff"/>
<circle cx="304.82" cy="259.4" r="1.35" fill="#ff00ff"/>
<circle cx="312.08" cy="260.84" r="1.35" fill="#ff00ff"/>
<circle cx="319.35" cy="262.18" r="1.35" fill="#ff00ff"/>
<circle cx="326.61" cy="262.53" r="1.35" fill="#ff00ff"/>
<circle cx="333.87" cy="262.75" r="1.35" fill="#ff00ff"/>
<circle cx="341.14" cy="262.98" r="1.35" fill="#ff00ff"/>
<circle cx="348.4" cy="263.2" r="1.35" fill="#ff00ff"/>
<path d="M210.4 209 217.1 258 224 262.9 230.9 264.5 237.7 265.8 244.6 266.8 270 267.5 290.1 269.4 317.9 270.5 327.7 271 348.4 271.4" fill="none" stroke="#ffff00" stroke-width="1.25" stroke-linejoin="round"/>
<circle cx="210.4" cy="209" r="1.7" fill="#ffff00"/>
<circle cx="217.66" cy="258.4" r="1.7" fill="#ffff00"/>
<circle cx="224.93" cy="263.11" r="1.7" fill="#ffff00"/>
<circle cx="232.19" cy="264.75" r="1.7" fill="#ffff00"/>
<circle cx="239.45" cy="266.05" r="1.7" fill="#ffff00"/>
<circle cx="246.72" cy="266.86" r="1.7" fill="#ffff00"/>
<circle cx="253.98" cy="267.06" r="1.7" fill="#ffff00"/>
<circle cx="261.24" cy="267.26" r="1.7" fill="#ffff00"/>
<circle cx="268.51" cy="267.46" r="1.7" fill="#ffff00"/>
<circle cx="275.77" cy="268.05" r="1.7" fill="#ffff00"/>
<circle cx="283.03" cy="268.73" r="1.7" fill="#ffff00"/>
<circle cx="290.29" cy="269.41" r="1.7" fill="#ffff00"/>
<circle cx="297.56" cy="269.7" r="1.7" fill="#ffff00"/>
<circle cx="304.82" cy="269.98" r="1.7" fill="#ffff00"/>
<circle cx="312.08" cy="270.27" r="1.7" fill="#ffff00"/>
<circle cx="319.35" cy="270.57" r="1.7" fill="#ffff00"/>
<circle cx="326.61" cy="270.94" r="1.7" fill="#ffff00"/>
<circle cx="333.87" cy="271.12" r="1.7" fill="#ffff00"/>
<circle cx="341.14" cy="271.26" r="1.7" fill="#ffff00"/>
<circle cx="348.4" cy="271.4" r="1.7" fill="#ffff00"/>
<path d="M210.4 208.3 217.1 253.1 224 253.7 230.9 256 237.7 264.9 244.6 266.8 260 267.8 275.4 268.3 282.4 269.9 290.1 273.3 317.9 273.3 325.6 275.1 348.4 275.1" fill="none" stroke="#10f010" stroke-width="1.15" stroke-linejoin="round"/>
<circle cx="210.4" cy="208.3" r="1.5" fill="#00e000"/>
<circle cx="217.66" cy="253.15" r="1.5" fill="#00e000"/>
<circle cx="224.93" cy="254.01" r="1.5" fill="#00e000"/>
<circle cx="232.19" cy="257.69" r="1.5" fill="#00e000"/>
<circle cx="239.45" cy="265.38" r="1.5" fill="#00e000"/>
<circle cx="246.72" cy="266.94" r="1.5" fill="#00e000"/>
<circle cx="253.98" cy="267.41" r="1.5" fill="#00e000"/>
<circle cx="261.24" cy="267.84" r="1.5" fill="#00e000"/>
<circle cx="268.51" cy="268.08" r="1.5" fill="#00e000"/>
<circle cx="275.77" cy="268.38" r="1.5" fill="#00e000"/>
<circle cx="283.03" cy="270.18" r="1.5" fill="#00e000"/>
<circle cx="290.29" cy="273.3" r="1.5" fill="#00e000"/>
<circle cx="297.56" cy="273.3" r="1.5" fill="#00e000"/>
<circle cx="304.82" cy="273.3" r="1.5" fill="#00e000"/>
<circle cx="312.08" cy="273.3" r="1.5" fill="#00e000"/>
<circle cx="319.35" cy="273.64" r="1.5" fill="#00e000"/>
<circle cx="326.61" cy="275.1" r="1.5" fill="#00e000"/>
<circle cx="333.87" cy="275.1" r="1.5" fill="#00e000"/>
<circle cx="341.14" cy="275.1" r="1.5" fill="#00e000"/>
<circle cx="348.4" cy="275.1" r="1.5" fill="#00e000"/>
</g>
<line x1="210.4" y1="283" x2="210.4" y2="281.7" stroke="#8a8a8a" stroke-width="0.6"/>
<line x1="210.4" y1="167" x2="210.4" y2="168.3" stroke="#8a8a8a" stroke-width="0.6"/>
<line x1="238" y1="283" x2="238" y2="281.7" stroke="#8a8a8a" stroke-width="0.6"/>
<line x1="238" y1="167" x2="238" y2="168.3" stroke="#8a8a8a" stroke-width="0.6"/>
<line x1="265.6" y1="283" x2="265.6" y2="281.7" stroke="#8a8a8a" stroke-width="0.6"/>
<line x1="265.6" y1="167" x2="265.6" y2="168.3" stroke="#8a8a8a" stroke-width="0.6"/>
<line x1="293.2" y1="283" x2="293.2" y2="281.7" stroke="#8a8a8a" stroke-width="0.6"/>
<line x1="293.2" y1="167" x2="293.2" y2="168.3" stroke="#8a8a8a" stroke-width="0.6"/>
<line x1="320.8" y1="283" x2="320.8" y2="281.7" stroke="#8a8a8a" stroke-width="0.6"/>
<line x1="320.8" y1="167" x2="320.8" y2="168.3" stroke="#8a8a8a" stroke-width="0.6"/>
<line x1="348.4" y1="283" x2="348.4" y2="281.7" stroke="#8a8a8a" stroke-width="0.6"/>
<line x1="348.4" y1="167" x2="348.4" y2="168.3" stroke="#8a8a8a" stroke-width="0.6"/>
<line x1="210.4" y1="283" x2="211.7" y2="283" stroke="#8a8a8a" stroke-width="0.6"/>
<line x1="348.4" y1="283" x2="347.1" y2="283" stroke="#8a8a8a" stroke-width="0.6"/>
<line x1="210.4" y1="225" x2="211.7" y2="225" stroke="#8a8a8a" stroke-width="0.6"/>
<line x1="348.4" y1="225" x2="347.1" y2="225" stroke="#8a8a8a" stroke-width="0.6"/>
<line x1="210.4" y1="167" x2="211.7" y2="167" stroke="#8a8a8a" stroke-width="0.6"/>
<line x1="348.4" y1="167" x2="347.1" y2="167" stroke="#8a8a8a" stroke-width="0.6"/>
<text x="210.4" y="291.3" font-size="5.9" text-anchor="middle">0</text>
<text x="238" y="291.3" font-size="5.9" text-anchor="middle">200</text>
<text x="265.6" y="291.3" font-size="5.9" text-anchor="middle">400</text>
<text x="293.2" y="291.3" font-size="5.9" text-anchor="middle">600</text>
<text x="320.8" y="291.3" font-size="5.9" text-anchor="middle">800</text>
<text x="348.4" y="291.3" font-size="5.9" text-anchor="middle">1000</text>
<text x="207.9" y="286" font-size="5.5" text-anchor="end">10<tspan font-size="4.5" dx="0.3" dy="-2.2">3</tspan></text>
<text x="207.9" y="228" font-size="5.5" text-anchor="end">10<tspan font-size="4.5" dx="0.3" dy="-2.2">4</tspan></text>
<text x="207.9" y="170" font-size="5.5" text-anchor="end">10<tspan font-size="4.5" dx="0.3" dy="-2.2">5</tspan></text>
<text x="279.4" y="164" font-size="6.6" font-weight="bold" text-anchor="middle" style="stroke-width:0.05px">F5</text>
<text x="279.4" y="300.2" font-size="6.5" text-anchor="middle">Iterations</text>
<text transform="translate(195.7 225) rotate(-90)" font-size="6.6" text-anchor="middle">Fitness</text>
<rect x="304" y="172.3" width="38.8" height="46.1" fill="#fff" stroke="#606060" stroke-width="0.8"/>
<line x1="306.4" y1="176.9" x2="323.2" y2="176.9" stroke="#1a1a1a" stroke-width="0.85"/>
<circle cx="314.8" cy="176.9" r="1.85" fill="#c4c4c4" fill-opacity="0.8" stroke="#101010" stroke-width="0.85"/>
<text x="325.1" y="178.9" font-size="5.1" style="stroke-width:0.25px">DBO</text>
<line x1="306.4" y1="184.28" x2="323.2" y2="184.28" stroke="#00f0ff" stroke-width="1.2"/>
<path d="M312.6 182.58l4.4 0l-2.2 3.5z" fill="#00ffff" stroke="#00e8ff" stroke-width="0.5"/>
<text x="325.1" y="186.28" font-size="5.1" style="stroke-width:0.25px">HHO</text>
<line x1="306.4" y1="191.66" x2="323.2" y2="191.66" stroke="#1530e0" stroke-width="1.0"/>
<path d="M312.6 193.26l2.2 -3.5l2.2 3.5z" fill="#b8b8ff" fill-opacity="0.7" stroke="#0000d0" stroke-width="0.8"/>
<text x="325.1" y="193.66" font-size="5.1" style="stroke-width:0.25px">POA</text>
<line x1="306.4" y1="199.04" x2="323.2" y2="199.04" stroke="#ff20ff" stroke-width="1.0"/>
<circle cx="314.8" cy="199.04" r="1.35" fill="#ff00ff"/>
<text x="325.1" y="201.04" font-size="5.1" style="stroke-width:0.25px">SSA</text>
<line x1="306.4" y1="206.42" x2="323.2" y2="206.42" stroke="#ffff00" stroke-width="1.25"/>
<circle cx="314.8" cy="206.42" r="1.7" fill="#ffff00"/>
<text x="325.1" y="208.42" font-size="5.1" style="stroke-width:0.25px">MPOA</text>
<line x1="306.4" y1="213.8" x2="323.2" y2="213.8" stroke="#10f010" stroke-width="1.15"/>
<circle cx="314.8" cy="213.8" r="1.5" fill="#00e000"/>
<text x="325.1" y="215.8" font-size="5.1" style="stroke-width:0.25px">IPOA</text>
</g>
<g>
<line x1="389.7" y1="271.41" x2="526.3" y2="271.41" stroke="#f1f1f1" stroke-width="0.5"/>
<line x1="389.7" y1="248.23" x2="526.3" y2="248.23" stroke="#f1f1f1" stroke-width="0.5"/>
<line x1="389.7" y1="225.05" x2="526.3" y2="225.05" stroke="#f1f1f1" stroke-width="0.5"/>
<line x1="389.7" y1="201.87" x2="526.3" y2="201.87" stroke="#f1f1f1" stroke-width="0.5"/>
<line x1="389.7" y1="178.69" x2="526.3" y2="178.69" stroke="#f1f1f1" stroke-width="0.5"/>
<line x1="389.7" y1="283" x2="526.3" y2="283" stroke="#e4e4e4" stroke-width="0.5"/>
<line x1="389.7" y1="259.82" x2="526.3" y2="259.82" stroke="#e4e4e4" stroke-width="0.5"/>
<line x1="389.7" y1="236.64" x2="526.3" y2="236.64" stroke="#e4e4e4" stroke-width="0.5"/>
<line x1="389.7" y1="213.46" x2="526.3" y2="213.46" stroke="#e4e4e4" stroke-width="0.5"/>
<line x1="389.7" y1="190.28" x2="526.3" y2="190.28" stroke="#e4e4e4" stroke-width="0.5"/>
<line x1="389.7" y1="167.1" x2="526.3" y2="167.1" stroke="#e4e4e4" stroke-width="0.5"/>
<line x1="417.02" y1="167.1" x2="417.02" y2="283" stroke="#e2e2e2" stroke-width="0.55"/>
<line x1="444.34" y1="167.1" x2="444.34" y2="283" stroke="#e2e2e2" stroke-width="0.55"/>
<line x1="471.66" y1="167.1" x2="471.66" y2="283" stroke="#e2e2e2" stroke-width="0.55"/>
<line x1="498.98" y1="167.1" x2="498.98" y2="283" stroke="#e2e2e2" stroke-width="0.55"/>
<rect x="389.7" y="167.1" width="136.6" height="115.9" fill="none" stroke="#8a8a8a" stroke-width="1.0"/>
<clipPath id="cF6"><rect x="386.7" y="164.1" width="142.6" height="119.4"/></clipPath>
<g clip-path="url(#cF6)">
<path d="M389.7 187.1 396.6 198.2 403.5 201.1 410.4 203.3 417.2 206.5 424.1 208.4 431 211.3 437.9 215.6 444.8 218.1 451.6 220 458.5 220.5 465 221.9 471.7 222.6 478.5 224.8 485.3 226.3 492.2 227 499 228.2 505.8 229.2 512.6 229.6 519.5 229.9 526.3 229.9" fill="none" stroke="#1a1a1a" stroke-width="0.85" stroke-linejoin="round"/>
<circle cx="389.7" cy="187.1" r="1.85" fill="#c4c4c4" fill-opacity="0.8" stroke="#101010" stroke-width="0.85"/>
<circle cx="396.89" cy="198.32" r="1.85" fill="#c4c4c4" fill-opacity="0.8" stroke="#101010" stroke-width="0.85"/>
<circle cx="404.08" cy="201.28" r="1.85" fill="#c4c4c4" fill-opacity="0.8" stroke="#101010" stroke-width="0.85"/>
<circle cx="411.27" cy="203.71" r="1.85" fill="#c4c4c4" fill-opacity="0.8" stroke="#101010" stroke-width="0.85"/>
<circle cx="418.46" cy="206.85" r="1.85" fill="#c4c4c4" fill-opacity="0.8" stroke="#101010" stroke-width="0.85"/>
<circle cx="425.65" cy="209.05" r="1.85" fill="#c4c4c4" fill-opacity="0.8" stroke="#101010" stroke-width="0.85"/>
<circle cx="432.84" cy="212.44" r="1.85" fill="#c4c4c4" fill-opacity="0.8" stroke="#101010" stroke-width="0.85"/>
<circle cx="440.03" cy="216.37" r="1.85" fill="#c4c4c4" fill-opacity="0.8" stroke="#101010" stroke-width="0.85"/>
<circle cx="447.22" cy="218.77" r="1.85" fill="#c4c4c4" fill-opacity="0.8" stroke="#101010" stroke-width="0.85"/>
<circle cx="454.41" cy="220.2" r="1.85" fill="#c4c4c4" fill-opacity="0.8" stroke="#101010" stroke-width="0.85"/>
<circle cx="461.59" cy="221.17" r="1.85" fill="#c4c4c4" fill-opacity="0.8" stroke="#101010" stroke-width="0.85"/>
<circle cx="468.78" cy="222.3" r="1.85" fill="#c4c4c4" fill-opacity="0.8" stroke="#101010" stroke-width="0.85"/>
<circle cx="475.97" cy="223.98" r="1.85" fill="#c4c4c4" fill-opacity="0.8" stroke="#101010" stroke-width="0.85"/>
<circle cx="483.16" cy="225.83" r="1.85" fill="#c4c4c4" fill-opacity="0.8" stroke="#101010" stroke-width="0.85"/>
<circle cx="490.35" cy="226.81" r="1.85" fill="#c4c4c4" fill-opacity="0.8" stroke="#101010" stroke-width="0.85"/>
<circle cx="497.54" cy="227.94" r="1.85" fill="#c4c4c4" fill-opacity="0.8" stroke="#101010" stroke-width="0.85"/>
<circle cx="504.73" cy="229.04" r="1.85" fill="#c4c4c4" fill-opacity="0.8" stroke="#101010" stroke-width="0.85"/>
<circle cx="511.92" cy="229.56" r="1.85" fill="#c4c4c4" fill-opacity="0.8" stroke="#101010" stroke-width="0.85"/>
<circle cx="519.11" cy="229.88" r="1.85" fill="#c4c4c4" fill-opacity="0.8" stroke="#101010" stroke-width="0.85"/>
<circle cx="526.3" cy="229.9" r="1.85" fill="#c4c4c4" fill-opacity="0.8" stroke="#101010" stroke-width="0.85"/>
<path d="M389.7 188 396.6 212.7 403.5 214.2 424.1 214.2 431 214.9 437.9 216.4 444.8 217.1 458.5 217.5 465 218 471.7 218 478.5 219.7 485.3 220.9 499 221.5 526.3 225" fill="none" stroke="#00f0ff" stroke-width="1.2" stroke-linejoin="round"/>
<path d="M387.5 186.3l4.4 0l-2.2 3.5z" fill="#00ffff" stroke="#00e8ff" stroke-width="0.5"/>
<path d="M394.69 211.06l4.4 0l-2.2 3.5z" fill="#00ffff" stroke="#00e8ff" stroke-width="0.5"/>
<path d="M401.88 212.5l4.4 0l-2.2 3.5z" fill="#00ffff" stroke="#00e8ff" stroke-width="0.5"/>
<path d="M409.07 212.5l4.4 0l-2.2 3.5z" fill="#00ffff" stroke="#00e8ff" stroke-width="0.5"/>
<path d="M416.26 212.5l4.4 0l-2.2 3.5z" fill="#00ffff" stroke="#00e8ff" stroke-width="0.5"/>
<path d="M423.45 212.66l4.4 0l-2.2 3.5z" fill="#00ffff" stroke="#00e8ff" stroke-width="0.5"/>
<path d="M430.64 213.6l4.4 0l-2.2 3.5z" fill="#00ffff" stroke="#00e8ff" stroke-width="0.5"/>
<path d="M437.83 214.92l4.4 0l-2.2 3.5z" fill="#00ffff" stroke="#00e8ff" stroke-width="0.5"/>
<path d="M445.02 215.47l4.4 0l-2.2 3.5z" fill="#00ffff" stroke="#00e8ff" stroke-width="0.5"/>
<path d="M452.21 215.68l4.4 0l-2.2 3.5z" fill="#00ffff" stroke="#00e8ff" stroke-width="0.5"/>
<path d="M459.39 216.04l4.4 0l-2.2 3.5z" fill="#00ffff" stroke="#00e8ff" stroke-width="0.5"/>
<path d="M466.58 216.3l4.4 0l-2.2 3.5z" fill="#00ffff" stroke="#00e8ff" stroke-width="0.5"/>
<path d="M473.77 217.37l4.4 0l-2.2 3.5z" fill="#00ffff" stroke="#00e8ff" stroke-width="0.5"/>
<path d="M480.96 218.82l4.4 0l-2.2 3.5z" fill="#00ffff" stroke="#00e8ff" stroke-width="0.5"/>
<path d="M488.15 219.42l4.4 0l-2.2 3.5z" fill="#00ffff" stroke="#00e8ff" stroke-width="0.5"/>
<path d="M495.34 219.74l4.4 0l-2.2 3.5z" fill="#00ffff" stroke="#00e8ff" stroke-width="0.5"/>
<path d="M502.53 220.53l4.4 0l-2.2 3.5z" fill="#00ffff" stroke="#00e8ff" stroke-width="0.5"/>
<path d="M509.72 221.46l4.4 0l-2.2 3.5z" fill="#00ffff" stroke="#00e8ff" stroke-width="0.5"/>
<path d="M516.91 222.38l4.4 0l-2.2 3.5z" fill="#00ffff" stroke="#00e8ff" stroke-width="0.5"/>
<path d="M524.1 223.3l4.4 0l-2.2 3.5z" fill="#00ffff" stroke="#00e8ff" stroke-width="0.5"/>
<path d="M389.7 188.7 396.6 220 403.5 226.5 410.4 228 417.2 228.7 424.1 229.2 431 229.7 437.9 230.6 444.8 230.9 451.6 231.2 458.5 231.5 478.5 231.7 485.3 232.8 492.2 233.1 499 233.5 505.8 234 512.6 234.6 519.5 240.4 526.3 246.6" fill="none" stroke="#1530e0" stroke-width="1.0" stroke-linejoin="round"/>
<path d="M387.5 190.3l2.2 -3.5l2.2 3.5z" fill="#b8b8ff" fill-opacity="0.7" stroke="#0000d0" stroke-width="0.8"/>
<path d="M394.69 221.87l2.2 -3.5l2.2 3.5z" fill="#b8b8ff" fill-opacity="0.7" stroke="#0000d0" stroke-width="0.8"/>
<path d="M401.88 228.23l2.2 -3.5l2.2 3.5z" fill="#b8b8ff" fill-opacity="0.7" stroke="#0000d0" stroke-width="0.8"/>
<path d="M409.07 229.69l2.2 -3.5l2.2 3.5z" fill="#b8b8ff" fill-opacity="0.7" stroke="#0000d0" stroke-width="0.8"/>
<path d="M416.26 230.39l2.2 -3.5l2.2 3.5z" fill="#b8b8ff" fill-opacity="0.7" stroke="#0000d0" stroke-width="0.8"/>
<path d="M423.45 230.91l2.2 -3.5l2.2 3.5z" fill="#b8b8ff" fill-opacity="0.7" stroke="#0000d0" stroke-width="0.8"/>
<path d="M430.64 231.54l2.2 -3.5l2.2 3.5z" fill="#b8b8ff" fill-opacity="0.7" stroke="#0000d0" stroke-width="0.8"/>
<path d="M437.83 232.29l2.2 -3.5l2.2 3.5z" fill="#b8b8ff" fill-opacity="0.7" stroke="#0000d0" stroke-width="0.8"/>
<path d="M445.02 232.61l2.2 -3.5l2.2 3.5z" fill="#b8b8ff" fill-opacity="0.7" stroke="#0000d0" stroke-width="0.8"/>
<path d="M452.21 232.92l2.2 -3.5l2.2 3.5z" fill="#b8b8ff" fill-opacity="0.7" stroke="#0000d0" stroke-width="0.8"/>
<path d="M459.39 233.13l2.2 -3.5l2.2 3.5z" fill="#b8b8ff" fill-opacity="0.7" stroke="#0000d0" stroke-width="0.8"/>
<path d="M466.58 233.2l2.2 -3.5l2.2 3.5z" fill="#b8b8ff" fill-opacity="0.7" stroke="#0000d0" stroke-width="0.8"/>
<path d="M473.77 233.27l2.2 -3.5l2.2 3.5z" fill="#b8b8ff" fill-opacity="0.7" stroke="#0000d0" stroke-width="0.8"/>
<path d="M480.96 234.05l2.2 -3.5l2.2 3.5z" fill="#b8b8ff" fill-opacity="0.7" stroke="#0000d0" stroke-width="0.8"/>
<path d="M488.15 234.62l2.2 -3.5l2.2 3.5z" fill="#b8b8ff" fill-opacity="0.7" stroke="#0000d0" stroke-width="0.8"/>
<path d="M495.34 235.01l2.2 -3.5l2.2 3.5z" fill="#b8b8ff" fill-opacity="0.7" stroke="#0000d0" stroke-width="0.8"/>
<path d="M502.53 235.52l2.2 -3.5l2.2 3.5z" fill="#b8b8ff" fill-opacity="0.7" stroke="#0000d0" stroke-width="0.8"/>
<path d="M509.72 236.14l2.2 -3.5l2.2 3.5z" fill="#b8b8ff" fill-opacity="0.7" stroke="#0000d0" stroke-width="0.8"/>
<path d="M516.91 241.67l2.2 -3.5l2.2 3.5z" fill="#b8b8ff" fill-opacity="0.7" stroke="#0000d0" stroke-width="0.8"/>
<path d="M524.1 248.2l2.2 -3.5l2.2 3.5z" fill="#b8b8ff" fill-opacity="0.7" stroke="#0000d0" stroke-width="0.8"/>
<path d="M389.7 189.3 396.6 212.7 403.5 214.9 410.4 216.4 417.2 218.1 424.1 219 431 220 437.9 221.5 444.8 221.9 451.6 222.5 458.5 223.3 478.5 224.8 485.3 225.5 526.3 225.5" fill="none" stroke="#ff20ff" stroke-width="1.0" stroke-linejoin="round"/>
<circle cx="389.7" cy="189.3" r="1.35" fill="#ff00ff"/>
<circle cx="396.89" cy="212.79" r="1.35" fill="#ff00ff"/>
<circle cx="404.08" cy="215.03" r="1.35" fill="#ff00ff"/>
<circle cx="411.27" cy="216.62" r="1.35" fill="#ff00ff"/>
<circle cx="418.46" cy="218.26" r="1.35" fill="#ff00ff"/>
<circle cx="425.65" cy="219.22" r="1.35" fill="#ff00ff"/>
<circle cx="432.84" cy="220.4" r="1.35" fill="#ff00ff"/>
<circle cx="440.03" cy="221.62" r="1.35" fill="#ff00ff"/>
<circle cx="447.22" cy="222.11" r="1.35" fill="#ff00ff"/>
<circle cx="454.41" cy="222.83" r="1.35" fill="#ff00ff"/>
<circle cx="461.59" cy="223.53" r="1.35" fill="#ff00ff"/>
<circle cx="468.78" cy="224.07" r="1.35" fill="#ff00ff"/>
<circle cx="475.97" cy="224.61" r="1.35" fill="#ff00ff"/>
<circle cx="483.16" cy="225.28" r="1.35" fill="#ff00ff"/>
<circle cx="490.35" cy="225.5" r="1.35" fill="#ff00ff"/>
<circle cx="497.54" cy="225.5" r="1.35" fill="#ff00ff"/>
<circle cx="504.73" cy="225.5" r="1.35" fill="#ff00ff"/>
<circle cx="511.92" cy="225.5" r="1.35" fill="#ff00ff"/>
<circle cx="519.11" cy="225.5" r="1.35" fill="#ff00ff"/>
<circle cx="526.3" cy="225.5" r="1.35" fill="#ff00ff"/>
<path d="M389.7 192.3 396.6 237.3 403.5 256.2 526.3 256.2" fill="none" stroke="#ffff00" stroke-width="1.25" stroke-linejoin="round"/>
<circle cx="389.7" cy="192.3" r="1.7" fill="#ffff00"/>
<circle cx="396.89" cy="238.09" r="1.7" fill="#ffff00"/>
<circle cx="404.08" cy="256.2" r="1.7" fill="#ffff00"/>
<circle cx="411.27" cy="256.2" r="1.7" fill="#ffff00"/>
<circle cx="418.46" cy="256.2" r="1.7" fill="#ffff00"/>
<circle cx="425.65" cy="256.2" r="1.7" fill="#ffff00"/>
<circle cx="432.84" cy="256.2" r="1.7" fill="#ffff00"/>
<circle cx="440.03" cy="256.2" r="1.7" fill="#ffff00"/>
<circle cx="447.22" cy="256.2" r="1.7" fill="#ffff00"/>
<circle cx="454.41" cy="256.2" r="1.7" fill="#ffff00"/>
<circle cx="461.59" cy="256.2" r="1.7" fill="#ffff00"/>
<circle cx="468.78" cy="256.2" r="1.7" fill="#ffff00"/>
<circle cx="475.97" cy="256.2" r="1.7" fill="#ffff00"/>
<circle cx="483.16" cy="256.2" r="1.7" fill="#ffff00"/>
<circle cx="490.35" cy="256.2" r="1.7" fill="#ffff00"/>
<circle cx="497.54" cy="256.2" r="1.7" fill="#ffff00"/>
<circle cx="504.73" cy="256.2" r="1.7" fill="#ffff00"/>
<circle cx="511.92" cy="256.2" r="1.7" fill="#ffff00"/>
<circle cx="519.11" cy="256.2" r="1.7" fill="#ffff00"/>
<circle cx="526.3" cy="256.2" r="1.7" fill="#ffff00"/>
<path d="M389.7 186.4 396.6 234 403.5 267.4 526.3 267.4" fill="none" stroke="#10f010" stroke-width="1.15" stroke-linejoin="round"/>
<circle cx="389.7" cy="186.4" r="1.5" fill="#00e000"/>
<circle cx="396.89" cy="235.4" r="1.5" fill="#00e000"/>
<circle cx="404.08" cy="267.4" r="1.5" fill="#00e000"/>
<circle cx="411.27" cy="267.4" r="1.5" fill="#00e000"/>
<circle cx="418.46" cy="267.4" r="1.5" fill="#00e000"/>
<circle cx="425.65" cy="267.4" r="1.5" fill="#00e000"/>
<circle cx="432.84" cy="267.4" r="1.5" fill="#00e000"/>
<circle cx="440.03" cy="267.4" r="1.5" fill="#00e000"/>
<circle cx="447.22" cy="267.4" r="1.5" fill="#00e000"/>
<circle cx="454.41" cy="267.4" r="1.5" fill="#00e000"/>
<circle cx="461.59" cy="267.4" r="1.5" fill="#00e000"/>
<circle cx="468.78" cy="267.4" r="1.5" fill="#00e000"/>
<circle cx="475.97" cy="267.4" r="1.5" fill="#00e000"/>
<circle cx="483.16" cy="267.4" r="1.5" fill="#00e000"/>
<circle cx="490.35" cy="267.4" r="1.5" fill="#00e000"/>
<circle cx="497.54" cy="267.4" r="1.5" fill="#00e000"/>
<circle cx="504.73" cy="267.4" r="1.5" fill="#00e000"/>
<circle cx="511.92" cy="267.4" r="1.5" fill="#00e000"/>
<circle cx="519.11" cy="267.4" r="1.5" fill="#00e000"/>
<circle cx="526.3" cy="267.4" r="1.5" fill="#00e000"/>
</g>
<line x1="389.7" y1="283" x2="389.7" y2="281.7" stroke="#8a8a8a" stroke-width="0.6"/>
<line x1="389.7" y1="167.1" x2="389.7" y2="168.4" stroke="#8a8a8a" stroke-width="0.6"/>
<line x1="417.02" y1="283" x2="417.02" y2="281.7" stroke="#8a8a8a" stroke-width="0.6"/>
<line x1="417.02" y1="167.1" x2="417.02" y2="168.4" stroke="#8a8a8a" stroke-width="0.6"/>
<line x1="444.34" y1="283" x2="444.34" y2="281.7" stroke="#8a8a8a" stroke-width="0.6"/>
<line x1="444.34" y1="167.1" x2="444.34" y2="168.4" stroke="#8a8a8a" stroke-width="0.6"/>
<line x1="471.66" y1="283" x2="471.66" y2="281.7" stroke="#8a8a8a" stroke-width="0.6"/>
<line x1="471.66" y1="167.1" x2="471.66" y2="168.4" stroke="#8a8a8a" stroke-width="0.6"/>
<line x1="498.98" y1="283" x2="498.98" y2="281.7" stroke="#8a8a8a" stroke-width="0.6"/>
<line x1="498.98" y1="167.1" x2="498.98" y2="168.4" stroke="#8a8a8a" stroke-width="0.6"/>
<line x1="526.3" y1="283" x2="526.3" y2="281.7" stroke="#8a8a8a" stroke-width="0.6"/>
<line x1="526.3" y1="167.1" x2="526.3" y2="168.4" stroke="#8a8a8a" stroke-width="0.6"/>
<line x1="389.7" y1="283" x2="391" y2="283" stroke="#8a8a8a" stroke-width="0.6"/>
<line x1="526.3" y1="283" x2="525" y2="283" stroke="#8a8a8a" stroke-width="0.6"/>
<line x1="389.7" y1="259.82" x2="391" y2="259.82" stroke="#8a8a8a" stroke-width="0.6"/>
<line x1="526.3" y1="259.82" x2="525" y2="259.82" stroke="#8a8a8a" stroke-width="0.6"/>
<line x1="389.7" y1="236.64" x2="391" y2="236.64" stroke="#8a8a8a" stroke-width="0.6"/>
<line x1="526.3" y1="236.64" x2="525" y2="236.64" stroke="#8a8a8a" stroke-width="0.6"/>
<line x1="389.7" y1="213.46" x2="391" y2="213.46" stroke="#8a8a8a" stroke-width="0.6"/>
<line x1="526.3" y1="213.46" x2="525" y2="213.46" stroke="#8a8a8a" stroke-width="0.6"/>
<line x1="389.7" y1="190.28" x2="391" y2="190.28" stroke="#8a8a8a" stroke-width="0.6"/>
<line x1="526.3" y1="190.28" x2="525" y2="190.28" stroke="#8a8a8a" stroke-width="0.6"/>
<line x1="389.7" y1="167.1" x2="391" y2="167.1" stroke="#8a8a8a" stroke-width="0.6"/>
<line x1="526.3" y1="167.1" x2="525" y2="167.1" stroke="#8a8a8a" stroke-width="0.6"/>
<text x="389.7" y="291.3" font-size="5.9" text-anchor="middle">0</text>
<text x="417.02" y="291.3" font-size="5.9" text-anchor="middle">200</text>
<text x="444.34" y="291.3" font-size="5.9" text-anchor="middle">400</text>
<text x="471.66" y="291.3" font-size="5.9" text-anchor="middle">600</text>
<text x="498.98" y="291.3" font-size="5.9" text-anchor="middle">800</text>
<text x="526.3" y="291.3" font-size="5.9" text-anchor="middle">1000</text>
<text x="387.2" y="286" font-size="5.5" text-anchor="end">10<tspan font-size="4.5" dx="0.3" dy="-2.2">2</tspan></text>
<text x="387.2" y="262.82" font-size="5.5" text-anchor="end">10<tspan font-size="4.5" dx="0.3" dy="-2.2">4</tspan></text>
<text x="387.2" y="239.64" font-size="5.5" text-anchor="end">10<tspan font-size="4.5" dx="0.3" dy="-2.2">6</tspan></text>
<text x="387.2" y="216.46" font-size="5.5" text-anchor="end">10<tspan font-size="4.5" dx="0.3" dy="-2.2">8</tspan></text>
<text x="387.2" y="193.28" font-size="5.5" text-anchor="end">10<tspan font-size="4.5" dx="0.3" dy="-2.2">10</tspan></text>
<text x="387.2" y="170.1" font-size="5.5" text-anchor="end">10<tspan font-size="4.5" dx="0.3" dy="-2.2">12</tspan></text>
<text x="458" y="164.1" font-size="6.6" font-weight="bold" text-anchor="middle" style="stroke-width:0.05px">F6</text>
<text x="458" y="300.2" font-size="6.5" text-anchor="middle">Iterations</text>
<text transform="translate(372.2 225.05) rotate(-90)" font-size="6.6" text-anchor="middle">Fitness</text>
<rect x="481.9" y="172.6" width="38.8" height="46.1" fill="#fff" stroke="#606060" stroke-width="0.8"/>
<line x1="484.3" y1="177.2" x2="501.1" y2="177.2" stroke="#1a1a1a" stroke-width="0.85"/>
<circle cx="492.7" cy="177.2" r="1.85" fill="#c4c4c4" fill-opacity="0.8" stroke="#101010" stroke-width="0.85"/>
<text x="503" y="179.2" font-size="5.1" style="stroke-width:0.25px">DBO</text>
<line x1="484.3" y1="184.58" x2="501.1" y2="184.58" stroke="#00f0ff" stroke-width="1.2"/>
<path d="M490.5 182.88l4.4 0l-2.2 3.5z" fill="#00ffff" stroke="#00e8ff" stroke-width="0.5"/>
<text x="503" y="186.58" font-size="5.1" style="stroke-width:0.25px">HHO</text>
<line x1="484.3" y1="191.96" x2="501.1" y2="191.96" stroke="#1530e0" stroke-width="1.0"/>
<path d="M490.5 193.56l2.2 -3.5l2.2 3.5z" fill="#b8b8ff" fill-opacity="0.7" stroke="#0000d0" stroke-width="0.8"/>
<text x="503" y="193.96" font-size="5.1" style="stroke-width:0.25px">POA</text>
<line x1="484.3" y1="199.34" x2="501.1" y2="199.34" stroke="#ff20ff" stroke-width="1.0"/>
<circle cx="492.7" cy="199.34" r="1.35" fill="#ff00ff"/>
<text x="503" y="201.34" font-size="5.1" style="stroke-width:0.25px">SSA</text>
<line x1="484.3" y1="206.72" x2="501.1" y2="206.72" stroke="#ffff00" stroke-width="1.25"/>
<circle cx="492.7" cy="206.72" r="1.7" fill="#ffff00"/>
<text x="503" y="208.72" font-size="5.1" style="stroke-width:0.25px">MPOA</text>
<line x1="484.3" y1="214.1" x2="501.1" y2="214.1" stroke="#10f010" stroke-width="1.15"/>
<circle cx="492.7" cy="214.1" r="1.5" fill="#00e000"/>
<text x="503" y="216.1" font-size="5.1" style="stroke-width:0.25px">IPOA</text>
</g>
<g>
<line x1="34.7" y1="429.15" x2="170.2" y2="429.15" stroke="#f1f1f1" stroke-width="0.5"/>
<line x1="34.7" y1="424.38" x2="170.2" y2="424.38" stroke="#f1f1f1" stroke-width="0.5"/>
<line x1="34.7" y1="419.66" x2="170.2" y2="419.66" stroke="#f1f1f1" stroke-width="0.5"/>
<line x1="34.7" y1="414.97" x2="170.2" y2="414.97" stroke="#f1f1f1" stroke-width="0.5"/>
<line x1="34.7" y1="410.34" x2="170.2" y2="410.34" stroke="#f1f1f1" stroke-width="0.5"/>
<line x1="34.7" y1="405.74" x2="170.2" y2="405.74" stroke="#f1f1f1" stroke-width="0.5"/>
<line x1="34.7" y1="401.19" x2="170.2" y2="401.19" stroke="#f1f1f1" stroke-width="0.5"/>
<line x1="34.7" y1="396.68" x2="170.2" y2="396.68" stroke="#f1f1f1" stroke-width="0.5"/>
<line x1="34.7" y1="392.2" x2="170.2" y2="392.2" stroke="#f1f1f1" stroke-width="0.5"/>
<line x1="34.7" y1="387.77" x2="170.2" y2="387.77" stroke="#f1f1f1" stroke-width="0.5"/>
<line x1="34.7" y1="383.38" x2="170.2" y2="383.38" stroke="#f1f1f1" stroke-width="0.5"/>
<line x1="34.7" y1="379.03" x2="170.2" y2="379.03" stroke="#f1f1f1" stroke-width="0.5"/>
<line x1="34.7" y1="374.71" x2="170.2" y2="374.71" stroke="#f1f1f1" stroke-width="0.5"/>
<line x1="34.7" y1="370.43" x2="170.2" y2="370.43" stroke="#f1f1f1" stroke-width="0.5"/>
<line x1="34.7" y1="366.19" x2="170.2" y2="366.19" stroke="#f1f1f1" stroke-width="0.5"/>
<line x1="34.7" y1="361.98" x2="170.2" y2="361.98" stroke="#f1f1f1" stroke-width="0.5"/>
<line x1="34.7" y1="357.81" x2="170.2" y2="357.81" stroke="#f1f1f1" stroke-width="0.5"/>
<line x1="34.7" y1="353.67" x2="170.2" y2="353.67" stroke="#f1f1f1" stroke-width="0.5"/>
<line x1="34.7" y1="349.57" x2="170.2" y2="349.57" stroke="#f1f1f1" stroke-width="0.5"/>
<line x1="34.7" y1="345.5" x2="170.2" y2="345.5" stroke="#f1f1f1" stroke-width="0.5"/>
<line x1="34.7" y1="341.46" x2="170.2" y2="341.46" stroke="#f1f1f1" stroke-width="0.5"/>
<line x1="34.7" y1="337.45" x2="170.2" y2="337.45" stroke="#f1f1f1" stroke-width="0.5"/>
<line x1="34.7" y1="333.48" x2="170.2" y2="333.48" stroke="#f1f1f1" stroke-width="0.5"/>
<line x1="34.7" y1="329.54" x2="170.2" y2="329.54" stroke="#f1f1f1" stroke-width="0.5"/>
<line x1="34.7" y1="325.63" x2="170.2" y2="325.63" stroke="#f1f1f1" stroke-width="0.5"/>
<line x1="34.7" y1="321.75" x2="170.2" y2="321.75" stroke="#f1f1f1" stroke-width="0.5"/>
<line x1="34.7" y1="317.9" x2="170.2" y2="317.9" stroke="#f1f1f1" stroke-width="0.5"/>
<line x1="34.7" y1="424.38" x2="170.2" y2="424.38" stroke="#e4e4e4" stroke-width="0.5"/>
<line x1="34.7" y1="401.19" x2="170.2" y2="401.19" stroke="#e4e4e4" stroke-width="0.5"/>
<line x1="34.7" y1="379.03" x2="170.2" y2="379.03" stroke="#e4e4e4" stroke-width="0.5"/>
<line x1="34.7" y1="357.81" x2="170.2" y2="357.81" stroke="#e4e4e4" stroke-width="0.5"/>
<line x1="34.7" y1="337.45" x2="170.2" y2="337.45" stroke="#e4e4e4" stroke-width="0.5"/>
<line x1="34.7" y1="317.9" x2="170.2" y2="317.9" stroke="#e4e4e4" stroke-width="0.5"/>
<line x1="61.8" y1="313.7" x2="61.8" y2="430.4" stroke="#e2e2e2" stroke-width="0.55"/>
<line x1="88.9" y1="313.7" x2="88.9" y2="430.4" stroke="#e2e2e2" stroke-width="0.55"/>
<line x1="116" y1="313.7" x2="116" y2="430.4" stroke="#e2e2e2" stroke-width="0.55"/>
<line x1="143.1" y1="313.7" x2="143.1" y2="430.4" stroke="#e2e2e2" stroke-width="0.55"/>
<rect x="34.7" y="313.7" width="135.5" height="116.7" fill="none" stroke="#8a8a8a" stroke-width="1.0"/>
<clipPath id="cF7"><rect x="31.7" y="310.7" width="141.5" height="120.2"/></clipPath>
<g clip-path="url(#cF7)">
<path d="M34.7 318 41.8 391.3 48.9 410.9 56.1 415.7 63.2 416.1 70.4 416.6 77.5 416.9 84.6 417.1 91.8 417.6 98.9 418 170.2 420.1" fill="none" stroke="#1a1a1a" stroke-width="0.85" stroke-linejoin="round"/>
<circle cx="34.7" cy="318" r="1.85" fill="#c4c4c4" fill-opacity="0.8" stroke="#101010" stroke-width="0.85"/>
<circle cx="41.83" cy="391.39" r="1.85" fill="#c4c4c4" fill-opacity="0.8" stroke="#101010" stroke-width="0.85"/>
<circle cx="48.96" cy="410.94" r="1.85" fill="#c4c4c4" fill-opacity="0.8" stroke="#101010" stroke-width="0.85"/>
<circle cx="56.09" cy="415.7" r="1.85" fill="#c4c4c4" fill-opacity="0.8" stroke="#101010" stroke-width="0.85"/>
<circle cx="63.23" cy="416.1" r="1.85" fill="#c4c4c4" fill-opacity="0.8" stroke="#101010" stroke-width="0.85"/>
<circle cx="70.36" cy="416.6" r="1.85" fill="#c4c4c4" fill-opacity="0.8" stroke="#101010" stroke-width="0.85"/>
<circle cx="77.49" cy="416.9" r="1.85" fill="#c4c4c4" fill-opacity="0.8" stroke="#101010" stroke-width="0.85"/>
<circle cx="84.62" cy="417.1" r="1.85" fill="#c4c4c4" fill-opacity="0.8" stroke="#101010" stroke-width="0.85"/>
<circle cx="91.75" cy="417.6" r="1.85" fill="#c4c4c4" fill-opacity="0.8" stroke="#101010" stroke-width="0.85"/>
<circle cx="98.88" cy="418" r="1.85" fill="#c4c4c4" fill-opacity="0.8" stroke="#101010" stroke-width="0.85"/>
<circle cx="106.02" cy="418.21" r="1.85" fill="#c4c4c4" fill-opacity="0.8" stroke="#101010" stroke-width="0.85"/>
<circle cx="113.15" cy="418.42" r="1.85" fill="#c4c4c4" fill-opacity="0.8" stroke="#101010" stroke-width="0.85"/>
<circle cx="120.28" cy="418.63" r="1.85" fill="#c4c4c4" fill-opacity="0.8" stroke="#101010" stroke-width="0.85"/>
<circle cx="127.41" cy="418.84" r="1.85" fill="#c4c4c4" fill-opacity="0.8" stroke="#101010" stroke-width="0.85"/>
<circle cx="134.54" cy="419.05" r="1.85" fill="#c4c4c4" fill-opacity="0.8" stroke="#101010" stroke-width="0.85"/>
<circle cx="141.67" cy="419.26" r="1.85" fill="#c4c4c4" fill-opacity="0.8" stroke="#101010" stroke-width="0.85"/>
<circle cx="148.81" cy="419.47" r="1.85" fill="#c4c4c4" fill-opacity="0.8" stroke="#101010" stroke-width="0.85"/>
<circle cx="155.94" cy="419.68" r="1.85" fill="#c4c4c4" fill-opacity="0.8" stroke="#101010" stroke-width="0.85"/>
<circle cx="163.07" cy="419.89" r="1.85" fill="#c4c4c4" fill-opacity="0.8" stroke="#101010" stroke-width="0.85"/>
<circle cx="170.2" cy="420.1" r="1.85" fill="#c4c4c4" fill-opacity="0.8" stroke="#101010" stroke-width="0.85"/>
<path d="M34.7 335.6 41.8 388.5 48.9 389.9 56.1 391.3 63.2 390.6 65.5 391 70.4 398.4 77.5 399.8 84.6 400.1 134.4 399.4 141.4 401.3 148.3 402 155.3 402.8 163 404 170.2 405.9" fill="none" stroke="#00f0ff" stroke-width="1.2" stroke-linejoin="round"/>
<path d="M32.5 333.9l4.4 0l-2.2 3.5z" fill="#00ffff" stroke="#00e8ff" stroke-width="0.5"/>
<path d="M39.63 386.81l4.4 0l-2.2 3.5z" fill="#00ffff" stroke="#00e8ff" stroke-width="0.5"/>
<path d="M46.76 388.21l4.4 0l-2.2 3.5z" fill="#00ffff" stroke="#00e8ff" stroke-width="0.5"/>
<path d="M53.89 389.6l4.4 0l-2.2 3.5z" fill="#00ffff" stroke="#00e8ff" stroke-width="0.5"/>
<path d="M61.03 388.9l4.4 0l-2.2 3.5z" fill="#00ffff" stroke="#00e8ff" stroke-width="0.5"/>
<path d="M68.16 396.64l4.4 0l-2.2 3.5z" fill="#00ffff" stroke="#00e8ff" stroke-width="0.5"/>
<path d="M75.29 398.1l4.4 0l-2.2 3.5z" fill="#00ffff" stroke="#00e8ff" stroke-width="0.5"/>
<path d="M82.42 398.4l4.4 0l-2.2 3.5z" fill="#00ffff" stroke="#00e8ff" stroke-width="0.5"/>
<path d="M89.55 398.3l4.4 0l-2.2 3.5z" fill="#00ffff" stroke="#00e8ff" stroke-width="0.5"/>
<path d="M96.68 398.2l4.4 0l-2.2 3.5z" fill="#00ffff" stroke="#00e8ff" stroke-width="0.5"/>
<path d="M103.82 398.1l4.4 0l-2.2 3.5z" fill="#00ffff" stroke="#00e8ff" stroke-width="0.5"/>
<path d="M110.95 398l4.4 0l-2.2 3.5z" fill="#00ffff" stroke="#00e8ff" stroke-width="0.5"/>
<path d="M118.08 397.9l4.4 0l-2.2 3.5z" fill="#00ffff" stroke="#00e8ff" stroke-width="0.5"/>
<path d="M125.21 397.8l4.4 0l-2.2 3.5z" fill="#00ffff" stroke="#00e8ff" stroke-width="0.5"/>
<path d="M132.34 397.74l4.4 0l-2.2 3.5z" fill="#00ffff" stroke="#00e8ff" stroke-width="0.5"/>
<path d="M139.47 399.63l4.4 0l-2.2 3.5z" fill="#00ffff" stroke="#00e8ff" stroke-width="0.5"/>
<path d="M146.61 400.36l4.4 0l-2.2 3.5z" fill="#00ffff" stroke="#00e8ff" stroke-width="0.5"/>
<path d="M153.74 401.2l4.4 0l-2.2 3.5z" fill="#00ffff" stroke="#00e8ff" stroke-width="0.5"/>
<path d="M160.87 402.32l4.4 0l-2.2 3.5z" fill="#00ffff" stroke="#00e8ff" stroke-width="0.5"/>
<path d="M168 404.2l4.4 0l-2.2 3.5z" fill="#00ffff" stroke="#00e8ff" stroke-width="0.5"/>
<path d="M34.7 313.5 41.8 391.3 48.9 395.3 56.1 399.8 63.2 399.8 70.4 400.1 77.5 400.5 91.8 401 98.9 402.7 105.5 403.6 112.8 403.6 119.7 404.4 127.5 405.1 134.4 405.9 141.4 406.7 155.3 407 163 407.5 170.2 407.8" fill="none" stroke="#1530e0" stroke-width="1.0" stroke-linejoin="round"/>
<path d="M32.5 315.1l2.2 -3.5l2.2 3.5z" fill="#b8b8ff" fill-opacity="0.7" stroke="#0000d0" stroke-width="0.8"/>
<path d="M39.63 392.92l2.2 -3.5l2.2 3.5z" fill="#b8b8ff" fill-opacity="0.7" stroke="#0000d0" stroke-width="0.8"/>
<path d="M46.76 396.94l2.2 -3.5l2.2 3.5z" fill="#b8b8ff" fill-opacity="0.7" stroke="#0000d0" stroke-width="0.8"/>
<path d="M53.89 401.4l2.2 -3.5l2.2 3.5z" fill="#b8b8ff" fill-opacity="0.7" stroke="#0000d0" stroke-width="0.8"/>
<path d="M61.03 401.4l2.2 -3.5l2.2 3.5z" fill="#b8b8ff" fill-opacity="0.7" stroke="#0000d0" stroke-width="0.8"/>
<path d="M68.16 401.7l2.2 -3.5l2.2 3.5z" fill="#b8b8ff" fill-opacity="0.7" stroke="#0000d0" stroke-width="0.8"/>
<path d="M75.29 402.1l2.2 -3.5l2.2 3.5z" fill="#b8b8ff" fill-opacity="0.7" stroke="#0000d0" stroke-width="0.8"/>
<path d="M82.42 402.35l2.2 -3.5l2.2 3.5z" fill="#b8b8ff" fill-opacity="0.7" stroke="#0000d0" stroke-width="0.8"/>
<path d="M89.55 402.6l2.2 -3.5l2.2 3.5z" fill="#b8b8ff" fill-opacity="0.7" stroke="#0000d0" stroke-width="0.8"/>
<path d="M96.68 404.3l2.2 -3.5l2.2 3.5z" fill="#b8b8ff" fill-opacity="0.7" stroke="#0000d0" stroke-width="0.8"/>
<path d="M103.82 405.2l2.2 -3.5l2.2 3.5z" fill="#b8b8ff" fill-opacity="0.7" stroke="#0000d0" stroke-width="0.8"/>
<path d="M110.95 405.24l2.2 -3.5l2.2 3.5z" fill="#b8b8ff" fill-opacity="0.7" stroke="#0000d0" stroke-width="0.8"/>
<path d="M118.08 406.05l2.2 -3.5l2.2 3.5z" fill="#b8b8ff" fill-opacity="0.7" stroke="#0000d0" stroke-width="0.8"/>
<path d="M125.21 406.69l2.2 -3.5l2.2 3.5z" fill="#b8b8ff" fill-opacity="0.7" stroke="#0000d0" stroke-width="0.8"/>
<path d="M132.34 407.52l2.2 -3.5l2.2 3.5z" fill="#b8b8ff" fill-opacity="0.7" stroke="#0000d0" stroke-width="0.8"/>
<path d="M139.47 408.31l2.2 -3.5l2.2 3.5z" fill="#b8b8ff" fill-opacity="0.7" stroke="#0000d0" stroke-width="0.8"/>
<path d="M146.61 408.46l2.2 -3.5l2.2 3.5z" fill="#b8b8ff" fill-opacity="0.7" stroke="#0000d0" stroke-width="0.8"/>
<path d="M153.74 408.64l2.2 -3.5l2.2 3.5z" fill="#b8b8ff" fill-opacity="0.7" stroke="#0000d0" stroke-width="0.8"/>
<path d="M160.87 409.1l2.2 -3.5l2.2 3.5z" fill="#b8b8ff" fill-opacity="0.7" stroke="#0000d0" stroke-width="0.8"/>
<path d="M168 409.4l2.2 -3.5l2.2 3.5z" fill="#b8b8ff" fill-opacity="0.7" stroke="#0000d0" stroke-width="0.8"/>
<path d="M34.7 333.3 41.8 387.7 134.4 387.7 141.4 388.6 170.2 388.6" fill="none" stroke="#ff20ff" stroke-width="1.0" stroke-linejoin="round"/>
<circle cx="34.7" cy="333.3" r="1.35" fill="#ff00ff"/>
<circle cx="41.83" cy="387.7" r="1.35" fill="#ff00ff"/>
<circle cx="48.96" cy="387.7" r="1.35" fill="#ff00ff"/>
<circle cx="56.09" cy="387.7" r="1.35" fill="#ff00ff"/>
<circle cx="63.23" cy="387.7" r="1.35" fill="#ff00ff"/>
<circle cx="70.36" cy="387.7" r="1.35" fill="#ff00ff"/>
<circle cx="77.49" cy="387.7" r="1.35" fill="#ff00ff"/>
<circle cx="84.62" cy="387.7" r="1.35" fill="#ff00ff"/>
<circle cx="91.75" cy="387.7" r="1.35" fill="#ff00ff"/>
<circle cx="98.88" cy="387.7" r="1.35" fill="#ff00ff"/>
<circle cx="106.02" cy="387.7" r="1.35" fill="#ff00ff"/>
<circle cx="113.15" cy="387.7" r="1.35" fill="#ff00ff"/>
<circle cx="120.28" cy="387.7" r="1.35" fill="#ff00ff"/>
<circle cx="127.41" cy="387.7" r="1.35" fill="#ff00ff"/>
<circle cx="134.54" cy="387.72" r="1.35" fill="#ff00ff"/>
<circle cx="141.67" cy="388.6" r="1.35" fill="#ff00ff"/>
<circle cx="148.81" cy="388.6" r="1.35" fill="#ff00ff"/>
<circle cx="155.94" cy="388.6" r="1.35" fill="#ff00ff"/>
<circle cx="163.07" cy="388.6" r="1.35" fill="#ff00ff"/>
<circle cx="170.2" cy="388.6" r="1.35" fill="#ff00ff"/>
<path d="M34.7 324.9 41.8 417.6 48.9 422.2 170.2 423" fill="none" stroke="#ffff00" stroke-width="1.25" stroke-linejoin="round"/>
<circle cx="34.7" cy="324.9" r="1.7" fill="#ffff00"/>
<circle cx="41.83" cy="417.62" r="1.7" fill="#ffff00"/>
<circle cx="48.96" cy="422.2" r="1.7" fill="#ffff00"/>
<circle cx="56.09" cy="422.25" r="1.7" fill="#ffff00"/>
<circle cx="63.23" cy="422.29" r="1.7" fill="#ffff00"/>
<circle cx="70.36" cy="422.34" r="1.7" fill="#ffff00"/>
<circle cx="77.49" cy="422.39" r="1.7" fill="#ffff00"/>
<circle cx="84.62" cy="422.44" r="1.7" fill="#ffff00"/>
<circle cx="91.75" cy="422.48" r="1.7" fill="#ffff00"/>
<circle cx="98.88" cy="422.53" r="1.7" fill="#ffff00"/>
<circle cx="106.02" cy="422.58" r="1.7" fill="#ffff00"/>
<circle cx="113.15" cy="422.62" r="1.7" fill="#ffff00"/>
<circle cx="120.28" cy="422.67" r="1.7" fill="#ffff00"/>
<circle cx="127.41" cy="422.72" r="1.7" fill="#ffff00"/>
<circle cx="134.54" cy="422.76" r="1.7" fill="#ffff00"/>
<circle cx="141.67" cy="422.81" r="1.7" fill="#ffff00"/>
<circle cx="148.81" cy="422.86" r="1.7" fill="#ffff00"/>
<circle cx="155.94" cy="422.91" r="1.7" fill="#ffff00"/>
<circle cx="163.07" cy="422.95" r="1.7" fill="#ffff00"/>
<circle cx="170.2" cy="423" r="1.7" fill="#ffff00"/>
<path d="M34.7 316.5 41.8 417.1 48.9 420.4 56.1 422.2 63.2 422.8 70.4 427 77.5 429.8 170.2 430.1" fill="none" stroke="#10f010" stroke-width="1.15" stroke-linejoin="round"/>
<circle cx="34.7" cy="316.5" r="1.5" fill="#00e000"/>
<circle cx="41.83" cy="417.11" r="1.5" fill="#00e000"/>
<circle cx="48.96" cy="420.42" r="1.5" fill="#00e000"/>
<circle cx="56.09" cy="422.2" r="1.5" fill="#00e000"/>
<circle cx="63.23" cy="422.82" r="1.5" fill="#00e000"/>
<circle cx="70.36" cy="426.98" r="1.5" fill="#00e000"/>
<circle cx="77.49" cy="429.8" r="1.5" fill="#00e000"/>
<circle cx="84.62" cy="429.82" r="1.5" fill="#00e000"/>
<circle cx="91.75" cy="429.85" r="1.5" fill="#00e000"/>
<circle cx="98.88" cy="429.87" r="1.5" fill="#00e000"/>
<circle cx="106.02" cy="429.89" r="1.5" fill="#00e000"/>
<circle cx="113.15" cy="429.92" r="1.5" fill="#00e000"/>
<circle cx="120.28" cy="429.94" r="1.5" fill="#00e000"/>
<circle cx="127.41" cy="429.96" r="1.5" fill="#00e000"/>
<circle cx="134.54" cy="429.98" r="1.5" fill="#00e000"/>
<circle cx="141.67" cy="430.01" r="1.5" fill="#00e000"/>
<circle cx="148.81" cy="430.03" r="1.5" fill="#00e000"/>
<circle cx="155.94" cy="430.05" r="1.5" fill="#00e000"/>
<circle cx="163.07" cy="430.08" r="1.5" fill="#00e000"/>
<circle cx="170.2" cy="430.1" r="1.5" fill="#00e000"/>
</g>
<line x1="34.7" y1="430.4" x2="34.7" y2="429.1" stroke="#8a8a8a" stroke-width="0.6"/>
<line x1="34.7" y1="313.7" x2="34.7" y2="315" stroke="#8a8a8a" stroke-width="0.6"/>
<line x1="61.8" y1="430.4" x2="61.8" y2="429.1" stroke="#8a8a8a" stroke-width="0.6"/>
<line x1="61.8" y1="313.7" x2="61.8" y2="315" stroke="#8a8a8a" stroke-width="0.6"/>
<line x1="88.9" y1="430.4" x2="88.9" y2="429.1" stroke="#8a8a8a" stroke-width="0.6"/>
<line x1="88.9" y1="313.7" x2="88.9" y2="315" stroke="#8a8a8a" stroke-width="0.6"/>
<line x1="116" y1="430.4" x2="116" y2="429.1" stroke="#8a8a8a" stroke-width="0.6"/>
<line x1="116" y1="313.7" x2="116" y2="315" stroke="#8a8a8a" stroke-width="0.6"/>
<line x1="143.1" y1="430.4" x2="143.1" y2="429.1" stroke="#8a8a8a" stroke-width="0.6"/>
<line x1="143.1" y1="313.7" x2="143.1" y2="315" stroke="#8a8a8a" stroke-width="0.6"/>
<line x1="170.2" y1="430.4" x2="170.2" y2="429.1" stroke="#8a8a8a" stroke-width="0.6"/>
<line x1="170.2" y1="313.7" x2="170.2" y2="315" stroke="#8a8a8a" stroke-width="0.6"/>
<line x1="34.7" y1="424.38" x2="36" y2="424.38" stroke="#8a8a8a" stroke-width="0.6"/>
<line x1="170.2" y1="424.38" x2="168.9" y2="424.38" stroke="#8a8a8a" stroke-width="0.6"/>
<line x1="34.7" y1="401.19" x2="36" y2="401.19" stroke="#8a8a8a" stroke-width="0.6"/>
<line x1="170.2" y1="401.19" x2="168.9" y2="401.19" stroke="#8a8a8a" stroke-width="0.6"/>
<line x1="34.7" y1="379.03" x2="36" y2="379.03" stroke="#8a8a8a" stroke-width="0.6"/>
<line x1="170.2" y1="379.03" x2="168.9" y2="379.03" stroke="#8a8a8a" stroke-width="0.6"/>
<line x1="34.7" y1="357.81" x2="36" y2="357.81" stroke="#8a8a8a" stroke-width="0.6"/>
<line x1="170.2" y1="357.81" x2="168.9" y2="357.81" stroke="#8a8a8a" stroke-width="0.6"/>
<line x1="34.7" y1="337.45" x2="36" y2="337.45" stroke="#8a8a8a" stroke-width="0.6"/>
<line x1="170.2" y1="337.45" x2="168.9" y2="337.45" stroke="#8a8a8a" stroke-width="0.6"/>
<line x1="34.7" y1="317.9" x2="36" y2="317.9" stroke="#8a8a8a" stroke-width="0.6"/>
<line x1="170.2" y1="317.9" x2="168.9" y2="317.9" stroke="#8a8a8a" stroke-width="0.6"/>
<text x="34.7" y="438.7" font-size="5.9" text-anchor="middle">0</text>
<text x="61.8" y="438.7" font-size="5.9" text-anchor="middle">200</text>
<text x="88.9" y="438.7" font-size="5.9" text-anchor="middle">400</text>
<text x="116" y="438.7" font-size="5.9" text-anchor="middle">600</text>
<text x="143.1" y="438.7" font-size="5.9" text-anchor="middle">800</text>
<text x="170.2" y="438.7" font-size="5.9" text-anchor="middle">1000</text>
<text x="32.7" y="426.28" font-size="5.9" text-anchor="end">2100</text>
<text x="32.7" y="403.09" font-size="5.9" text-anchor="end">2200</text>
<text x="32.7" y="380.93" font-size="5.9" text-anchor="end">2300</text>
<text x="32.7" y="359.71" font-size="5.9" text-anchor="end">2400</text>
<text x="32.7" y="339.35" font-size="5.9" text-anchor="end">2500</text>
<text x="32.7" y="319.8" font-size="5.9" text-anchor="end">2600</text>
<text x="102.45" y="310.7" font-size="6.6" font-weight="bold" text-anchor="middle" style="stroke-width:0.05px">F7</text>
<text x="102.45" y="447.6" font-size="6.5" text-anchor="middle">Iterations</text>
<text transform="translate(15 372.05) rotate(-90)" font-size="6.6" text-anchor="middle">Fitness</text>
<rect x="125.8" y="319.5" width="38.8" height="46.1" fill="#fff" stroke="#606060" stroke-width="0.8"/>
<line x1="128.2" y1="324.1" x2="145" y2="324.1" stroke="#1a1a1a" stroke-width="0.85"/>
<circle cx="136.6" cy="324.1" r="1.85" fill="#c4c4c4" fill-opacity="0.8" stroke="#101010" stroke-width="0.85"/>
<text x="146.9" y="326.1" font-size="5.1" style="stroke-width:0.25px">DBO</text>
<line x1="128.2" y1="331.48" x2="145" y2="331.48" stroke="#00f0ff" stroke-width="1.2"/>
<path d="M134.4 329.78l4.4 0l-2.2 3.5z" fill="#00ffff" stroke="#00e8ff" stroke-width="0.5"/>
<text x="146.9" y="333.48" font-size="5.1" style="stroke-width:0.25px">HHO</text>
<line x1="128.2" y1="338.86" x2="145" y2="338.86" stroke="#1530e0" stroke-width="1.0"/>
<path d="M134.4 340.46l2.2 -3.5l2.2 3.5z" fill="#b8b8ff" fill-opacity="0.7" stroke="#0000d0" stroke-width="0.8"/>
<text x="146.9" y="340.86" font-size="5.1" style="stroke-width:0.25px">POA</text>
<line x1="128.2" y1="346.24" x2="145" y2="346.24" stroke="#ff20ff" stroke-width="1.0"/>
<circle cx="136.6" cy="346.24" r="1.35" fill="#ff00ff"/>
<text x="146.9" y="348.24" font-size="5.1" style="stroke-width:0.25px">SSA</text>
<line x1="128.2" y1="353.62" x2="145" y2="353.62" stroke="#ffff00" stroke-width="1.25"/>
<circle cx="136.6" cy="353.62" r="1.7" fill="#ffff00"/>
<text x="146.9" y="355.62" font-size="5.1" style="stroke-width:0.25px">MPOA</text>
<line x1="128.2" y1="361" x2="145" y2="361" stroke="#10f010" stroke-width="1.15"/>
<circle cx="136.6" cy="361" r="1.5" fill="#00e000"/>
<text x="146.9" y="363" font-size="5.1" style="stroke-width:0.25px">IPOA</text>
</g>
<g>
<line x1="210.3" y1="418.69" x2="348" y2="418.69" stroke="#f1f1f1" stroke-width="0.5"/>
<line x1="210.3" y1="411.84" x2="348" y2="411.84" stroke="#f1f1f1" stroke-width="0.5"/>
<line x1="210.3" y1="406.98" x2="348" y2="406.98" stroke="#f1f1f1" stroke-width="0.5"/>
<line x1="210.3" y1="403.21" x2="348" y2="403.21" stroke="#f1f1f1" stroke-width="0.5"/>
<line x1="210.3" y1="400.13" x2="348" y2="400.13" stroke="#f1f1f1" stroke-width="0.5"/>
<line x1="210.3" y1="397.53" x2="348" y2="397.53" stroke="#f1f1f1" stroke-width="0.5"/>
<line x1="210.3" y1="395.27" x2="348" y2="395.27" stroke="#f1f1f1" stroke-width="0.5"/>
<line x1="210.3" y1="393.28" x2="348" y2="393.28" stroke="#f1f1f1" stroke-width="0.5"/>
<line x1="210.3" y1="379.79" x2="348" y2="379.79" stroke="#f1f1f1" stroke-width="0.5"/>
<line x1="210.3" y1="372.94" x2="348" y2="372.94" stroke="#f1f1f1" stroke-width="0.5"/>
<line x1="210.3" y1="368.08" x2="348" y2="368.08" stroke="#f1f1f1" stroke-width="0.5"/>
<line x1="210.3" y1="364.31" x2="348" y2="364.31" stroke="#f1f1f1" stroke-width="0.5"/>
<line x1="210.3" y1="361.23" x2="348" y2="361.23" stroke="#f1f1f1" stroke-width="0.5"/>
<line x1="210.3" y1="358.63" x2="348" y2="358.63" stroke="#f1f1f1" stroke-width="0.5"/>
<line x1="210.3" y1="356.37" x2="348" y2="356.37" stroke="#f1f1f1" stroke-width="0.5"/>
<line x1="210.3" y1="354.38" x2="348" y2="354.38" stroke="#f1f1f1" stroke-width="0.5"/>
<line x1="210.3" y1="340.89" x2="348" y2="340.89" stroke="#f1f1f1" stroke-width="0.5"/>
<line x1="210.3" y1="334.04" x2="348" y2="334.04" stroke="#f1f1f1" stroke-width="0.5"/>
<line x1="210.3" y1="329.18" x2="348" y2="329.18" stroke="#f1f1f1" stroke-width="0.5"/>
<line x1="210.3" y1="325.41" x2="348" y2="325.41" stroke="#f1f1f1" stroke-width="0.5"/>
<line x1="210.3" y1="322.33" x2="348" y2="322.33" stroke="#f1f1f1" stroke-width="0.5"/>
<line x1="210.3" y1="319.73" x2="348" y2="319.73" stroke="#f1f1f1" stroke-width="0.5"/>
<line x1="210.3" y1="317.47" x2="348" y2="317.47" stroke="#f1f1f1" stroke-width="0.5"/>
<line x1="210.3" y1="315.48" x2="348" y2="315.48" stroke="#f1f1f1" stroke-width="0.5"/>
<line x1="210.3" y1="430.4" x2="348" y2="430.4" stroke="#e4e4e4" stroke-width="0.5"/>
<line x1="210.3" y1="391.5" x2="348" y2="391.5" stroke="#e4e4e4" stroke-width="0.5"/>
<line x1="210.3" y1="352.6" x2="348" y2="352.6" stroke="#e4e4e4" stroke-width="0.5"/>
<line x1="210.3" y1="313.7" x2="348" y2="313.7" stroke="#e4e4e4" stroke-width="0.5"/>
<line x1="237.84" y1="313.7" x2="237.84" y2="430.4" stroke="#e2e2e2" stroke-width="0.55"/>
<line x1="265.38" y1="313.7" x2="265.38" y2="430.4" stroke="#e2e2e2" stroke-width="0.55"/>
<line x1="292.92" y1="313.7" x2="292.92" y2="430.4" stroke="#e2e2e2" stroke-width="0.55"/>
<line x1="320.46" y1="313.7" x2="320.46" y2="430.4" stroke="#e2e2e2" stroke-width="0.55"/>
<rect x="210.3" y="313.7" width="137.7" height="116.7" fill="none" stroke="#8a8a8a" stroke-width="1.0"/>
<clipPath id="cF8"><rect x="207.3" y="310.7" width="143.7" height="120.2"/></clipPath>
<g clip-path="url(#cF8)">
<path d="M210.3 409.6 217.5 415 224.8 413.1 239.3 413.1 246.5 415.5 348 415.8" fill="none" stroke="#1a1a1a" stroke-width="0.85" stroke-linejoin="round"/>
<circle cx="210.3" cy="409.6" r="1.85" fill="#c4c4c4" fill-opacity="0.8" stroke="#101010" stroke-width="0.85"/>
<circle cx="217.55" cy="414.99" r="1.85" fill="#c4c4c4" fill-opacity="0.8" stroke="#101010" stroke-width="0.85"/>
<circle cx="224.79" cy="413.1" r="1.85" fill="#c4c4c4" fill-opacity="0.8" stroke="#101010" stroke-width="0.85"/>
<circle cx="232.04" cy="413.1" r="1.85" fill="#c4c4c4" fill-opacity="0.8" stroke="#101010" stroke-width="0.85"/>
<circle cx="239.29" cy="413.1" r="1.85" fill="#c4c4c4" fill-opacity="0.8" stroke="#101010" stroke-width="0.85"/>
<circle cx="246.54" cy="415.5" r="1.85" fill="#c4c4c4" fill-opacity="0.8" stroke="#101010" stroke-width="0.85"/>
<circle cx="253.78" cy="415.52" r="1.85" fill="#c4c4c4" fill-opacity="0.8" stroke="#101010" stroke-width="0.85"/>
<circle cx="261.03" cy="415.54" r="1.85" fill="#c4c4c4" fill-opacity="0.8" stroke="#101010" stroke-width="0.85"/>
<circle cx="268.28" cy="415.56" r="1.85" fill="#c4c4c4" fill-opacity="0.8" stroke="#101010" stroke-width="0.85"/>
<circle cx="275.53" cy="415.59" r="1.85" fill="#c4c4c4" fill-opacity="0.8" stroke="#101010" stroke-width="0.85"/>
<circle cx="282.77" cy="415.61" r="1.85" fill="#c4c4c4" fill-opacity="0.8" stroke="#101010" stroke-width="0.85"/>
<circle cx="290.02" cy="415.63" r="1.85" fill="#c4c4c4" fill-opacity="0.8" stroke="#101010" stroke-width="0.85"/>
<circle cx="297.27" cy="415.65" r="1.85" fill="#c4c4c4" fill-opacity="0.8" stroke="#101010" stroke-width="0.85"/>
<circle cx="304.52" cy="415.67" r="1.85" fill="#c4c4c4" fill-opacity="0.8" stroke="#101010" stroke-width="0.85"/>
<circle cx="311.76" cy="415.69" r="1.85" fill="#c4c4c4" fill-opacity="0.8" stroke="#101010" stroke-width="0.85"/>
<circle cx="319.01" cy="415.71" r="1.85" fill="#c4c4c4" fill-opacity="0.8" stroke="#101010" stroke-width="0.85"/>
<circle cx="326.26" cy="415.74" r="1.85" fill="#c4c4c4" fill-opacity="0.8" stroke="#101010" stroke-width="0.85"/>
<circle cx="333.51" cy="415.76" r="1.85" fill="#c4c4c4" fill-opacity="0.8" stroke="#101010" stroke-width="0.85"/>
<circle cx="340.75" cy="415.78" r="1.85" fill="#c4c4c4" fill-opacity="0.8" stroke="#101010" stroke-width="0.85"/>
<circle cx="348" cy="415.8" r="1.85" fill="#c4c4c4" fill-opacity="0.8" stroke="#101010" stroke-width="0.85"/>
<path d="M210.3 316 217.5 413.5 348 414" fill="none" stroke="#00f0ff" stroke-width="1.2" stroke-linejoin="round"/>
<path d="M208.1 314.3l4.4 0l-2.2 3.5z" fill="#00ffff" stroke="#00e8ff" stroke-width="0.5"/>
<path d="M215.35 411.8l4.4 0l-2.2 3.5z" fill="#00ffff" stroke="#00e8ff" stroke-width="0.5"/>
<path d="M222.59 411.83l4.4 0l-2.2 3.5z" fill="#00ffff" stroke="#00e8ff" stroke-width="0.5"/>
<path d="M229.84 411.86l4.4 0l-2.2 3.5z" fill="#00ffff" stroke="#00e8ff" stroke-width="0.5"/>
<path d="M237.09 411.88l4.4 0l-2.2 3.5z" fill="#00ffff" stroke="#00e8ff" stroke-width="0.5"/>
<path d="M244.34 411.91l4.4 0l-2.2 3.5z" fill="#00ffff" stroke="#00e8ff" stroke-width="0.5"/>
<path d="M251.58 411.94l4.4 0l-2.2 3.5z" fill="#00ffff" stroke="#00e8ff" stroke-width="0.5"/>
<path d="M258.83 411.97l4.4 0l-2.2 3.5z" fill="#00ffff" stroke="#00e8ff" stroke-width="0.5"/>
<path d="M266.08 411.99l4.4 0l-2.2 3.5z" fill="#00ffff" stroke="#00e8ff" stroke-width="0.5"/>
<path d="M273.33 412.02l4.4 0l-2.2 3.5z" fill="#00ffff" stroke="#00e8ff" stroke-width="0.5"/>
<path d="M280.57 412.05l4.4 0l-2.2 3.5z" fill="#00ffff" stroke="#00e8ff" stroke-width="0.5"/>
<path d="M287.82 412.08l4.4 0l-2.2 3.5z" fill="#00ffff" stroke="#00e8ff" stroke-width="0.5"/>
<path d="M295.07 412.11l4.4 0l-2.2 3.5z" fill="#00ffff" stroke="#00e8ff" stroke-width="0.5"/>
<path d="M302.32 412.13l4.4 0l-2.2 3.5z" fill="#00ffff" stroke="#00e8ff" stroke-width="0.5"/>
<path d="M309.56 412.16l4.4 0l-2.2 3.5z" fill="#00ffff" stroke="#00e8ff" stroke-width="0.5"/>
<path d="M316.81 412.19l4.4 0l-2.2 3.5z" fill="#00ffff" stroke="#00e8ff" stroke-width="0.5"/>
<path d="M324.06 412.22l4.4 0l-2.2 3.5z" fill="#00ffff" stroke="#00e8ff" stroke-width="0.5"/>
<path d="M331.31 412.24l4.4 0l-2.2 3.5z" fill="#00ffff" stroke="#00e8ff" stroke-width="0.5"/>
<path d="M338.55 412.27l4.4 0l-2.2 3.5z" fill="#00ffff" stroke="#00e8ff" stroke-width="0.5"/>
<path d="M345.8 412.3l4.4 0l-2.2 3.5z" fill="#00ffff" stroke="#00e8ff" stroke-width="0.5"/>
<path d="M210.3 398.3 217.5 415.5 348 415" fill="none" stroke="#1530e0" stroke-width="1.0" stroke-linejoin="round"/>
<path d="M208.1 399.9l2.2 -3.5l2.2 3.5z" fill="#b8b8ff" fill-opacity="0.7" stroke="#0000d0" stroke-width="0.8"/>
<path d="M215.35 417.1l2.2 -3.5l2.2 3.5z" fill="#b8b8ff" fill-opacity="0.7" stroke="#0000d0" stroke-width="0.8"/>
<path d="M222.59 417.07l2.2 -3.5l2.2 3.5z" fill="#b8b8ff" fill-opacity="0.7" stroke="#0000d0" stroke-width="0.8"/>
<path d="M229.84 417.04l2.2 -3.5l2.2 3.5z" fill="#b8b8ff" fill-opacity="0.7" stroke="#0000d0" stroke-width="0.8"/>
<path d="M237.09 417.02l2.2 -3.5l2.2 3.5z" fill="#b8b8ff" fill-opacity="0.7" stroke="#0000d0" stroke-width="0.8"/>
<path d="M244.34 416.99l2.2 -3.5l2.2 3.5z" fill="#b8b8ff" fill-opacity="0.7" stroke="#0000d0" stroke-width="0.8"/>
<path d="M251.58 416.96l2.2 -3.5l2.2 3.5z" fill="#b8b8ff" fill-opacity="0.7" stroke="#0000d0" stroke-width="0.8"/>
<path d="M258.83 416.93l2.2 -3.5l2.2 3.5z" fill="#b8b8ff" fill-opacity="0.7" stroke="#0000d0" stroke-width="0.8"/>
<path d="M266.08 416.91l2.2 -3.5l2.2 3.5z" fill="#b8b8ff" fill-opacity="0.7" stroke="#0000d0" stroke-width="0.8"/>
<path d="M273.33 416.88l2.2 -3.5l2.2 3.5z" fill="#b8b8ff" fill-opacity="0.7" stroke="#0000d0" stroke-width="0.8"/>
<path d="M280.57 416.85l2.2 -3.5l2.2 3.5z" fill="#b8b8ff" fill-opacity="0.7" stroke="#0000d0" stroke-width="0.8"/>
<path d="M287.82 416.82l2.2 -3.5l2.2 3.5z" fill="#b8b8ff" fill-opacity="0.7" stroke="#0000d0" stroke-width="0.8"/>
<path d="M295.07 416.79l2.2 -3.5l2.2 3.5z" fill="#b8b8ff" fill-opacity="0.7" stroke="#0000d0" stroke-width="0.8"/>
<path d="M302.32 416.77l2.2 -3.5l2.2 3.5z" fill="#b8b8ff" fill-opacity="0.7" stroke="#0000d0" stroke-width="0.8"/>
<path d="M309.56 416.74l2.2 -3.5l2.2 3.5z" fill="#b8b8ff" fill-opacity="0.7" stroke="#0000d0" stroke-width="0.8"/>
<path d="M316.81 416.71l2.2 -3.5l2.2 3.5z" fill="#b8b8ff" fill-opacity="0.7" stroke="#0000d0" stroke-width="0.8"/>
<path d="M324.06 416.68l2.2 -3.5l2.2 3.5z" fill="#b8b8ff" fill-opacity="0.7" stroke="#0000d0" stroke-width="0.8"/>
<path d="M331.31 416.66l2.2 -3.5l2.2 3.5z" fill="#b8b8ff" fill-opacity="0.7" stroke="#0000d0" stroke-width="0.8"/>
<path d="M338.55 416.63l2.2 -3.5l2.2 3.5z" fill="#b8b8ff" fill-opacity="0.7" stroke="#0000d0" stroke-width="0.8"/>
<path d="M345.8 416.6l2.2 -3.5l2.2 3.5z" fill="#b8b8ff" fill-opacity="0.7" stroke="#0000d0" stroke-width="0.8"/>
<path d="M210.3 398 217.5 415.5 348 415.5" fill="none" stroke="#ff20ff" stroke-width="1.0" stroke-linejoin="round"/>
<circle cx="210.3" cy="398" r="1.35" fill="#ff00ff"/>
<circle cx="217.55" cy="415.5" r="1.35" fill="#ff00ff"/>
<circle cx="224.79" cy="415.5" r="1.35" fill="#ff00ff"/>
<circle cx="232.04" cy="415.5" r="1.35" fill="#ff00ff"/>
<circle cx="239.29" cy="415.5" r="1.35" fill="#ff00ff"/>
<circle cx="246.54" cy="415.5" r="1.35" fill="#ff00ff"/>
<circle cx="253.78" cy="415.5" r="1.35" fill="#ff00ff"/>
<circle cx="261.03" cy="415.5" r="1.35" fill="#ff00ff"/>
<circle cx="268.28" cy="415.5" r="1.35" fill="#ff00ff"/>
<circle cx="275.53" cy="415.5" r="1.35" fill="#ff00ff"/>
<circle cx="282.77" cy="415.5" r="1.35" fill="#ff00ff"/>
<circle cx="290.02" cy="415.5" r="1.35" fill="#ff00ff"/>
<circle cx="297.27" cy="415.5" r="1.35" fill="#ff00ff"/>
<circle cx="304.52" cy="415.5" r="1.35" fill="#ff00ff"/>
<circle cx="311.76" cy="415.5" r="1.35" fill="#ff00ff"/>
<circle cx="319.01" cy="415.5" r="1.35" fill="#ff00ff"/>
<circle cx="326.26" cy="415.5" r="1.35" fill="#ff00ff"/>
<circle cx="333.51" cy="415.5" r="1.35" fill="#ff00ff"/>
<circle cx="340.75" cy="415.5" r="1.35" fill="#ff00ff"/>
<circle cx="348" cy="415.5" r="1.35" fill="#ff00ff"/>
<path d="M210.3 396.1 217.5 414.5 348 414.7" fill="none" stroke="#ffff00" stroke-width="1.25" stroke-linejoin="round"/>
<circle cx="210.3" cy="396.1" r="1.7" fill="#ffff00"/>
<circle cx="217.55" cy="414.5" r="1.7" fill="#ffff00"/>
<circle cx="224.79" cy="414.51" r="1.7" fill="#ffff00"/>
<circle cx="232.04" cy="414.52" r="1.7" fill="#ffff00"/>
<circle cx="239.29" cy="414.53" r="1.7" fill="#ffff00"/>
<circle cx="246.54" cy="414.54" r="1.7" fill="#ffff00"/>
<circle cx="253.78" cy="414.56" r="1.7" fill="#ffff00"/>
<circle cx="261.03" cy="414.57" r="1.7" fill="#ffff00"/>
<circle cx="268.28" cy="414.58" r="1.7" fill="#ffff00"/>
<circle cx="275.53" cy="414.59" r="1.7" fill="#ffff00"/>
<circle cx="282.77" cy="414.6" r="1.7" fill="#ffff00"/>
<circle cx="290.02" cy="414.61" r="1.7" fill="#ffff00"/>
<circle cx="297.27" cy="414.62" r="1.7" fill="#ffff00"/>
<circle cx="304.52" cy="414.63" r="1.7" fill="#ffff00"/>
<circle cx="311.76" cy="414.64" r="1.7" fill="#ffff00"/>
<circle cx="319.01" cy="414.66" r="1.7" fill="#ffff00"/>
<circle cx="326.26" cy="414.67" r="1.7" fill="#ffff00"/>
<circle cx="333.51" cy="414.68" r="1.7" fill="#ffff00"/>
<circle cx="340.75" cy="414.69" r="1.7" fill="#ffff00"/>
<circle cx="348" cy="414.7" r="1.7" fill="#ffff00"/>
<path d="M210.3 411.4 217.5 417.2 348 417.3" fill="none" stroke="#10f010" stroke-width="1.15" stroke-linejoin="round"/>
<circle cx="210.3" cy="411.4" r="1.5" fill="#00e000"/>
<circle cx="217.55" cy="417.2" r="1.5" fill="#00e000"/>
<circle cx="224.79" cy="417.21" r="1.5" fill="#00e000"/>
<circle cx="232.04" cy="417.21" r="1.5" fill="#00e000"/>
<circle cx="239.29" cy="417.22" r="1.5" fill="#00e000"/>
<circle cx="246.54" cy="417.22" r="1.5" fill="#00e000"/>
<circle cx="253.78" cy="417.23" r="1.5" fill="#00e000"/>
<circle cx="261.03" cy="417.23" r="1.5" fill="#00e000"/>
<circle cx="268.28" cy="417.24" r="1.5" fill="#00e000"/>
<circle cx="275.53" cy="417.24" r="1.5" fill="#00e000"/>
<circle cx="282.77" cy="417.25" r="1.5" fill="#00e000"/>
<circle cx="290.02" cy="417.26" r="1.5" fill="#00e000"/>
<circle cx="297.27" cy="417.26" r="1.5" fill="#00e000"/>
<circle cx="304.52" cy="417.27" r="1.5" fill="#00e000"/>
<circle cx="311.76" cy="417.27" r="1.5" fill="#00e000"/>
<circle cx="319.01" cy="417.28" r="1.5" fill="#00e000"/>
<circle cx="326.26" cy="417.28" r="1.5" fill="#00e000"/>
<circle cx="333.51" cy="417.29" r="1.5" fill="#00e000"/>
<circle cx="340.75" cy="417.29" r="1.5" fill="#00e000"/>
<circle cx="348" cy="417.3" r="1.5" fill="#00e000"/>
</g>
<line x1="210.3" y1="430.4" x2="210.3" y2="429.1" stroke="#8a8a8a" stroke-width="0.6"/>
<line x1="210.3" y1="313.7" x2="210.3" y2="315" stroke="#8a8a8a" stroke-width="0.6"/>
<line x1="237.84" y1="430.4" x2="237.84" y2="429.1" stroke="#8a8a8a" stroke-width="0.6"/>
<line x1="237.84" y1="313.7" x2="237.84" y2="315" stroke="#8a8a8a" stroke-width="0.6"/>
<line x1="265.38" y1="430.4" x2="265.38" y2="429.1" stroke="#8a8a8a" stroke-width="0.6"/>
<line x1="265.38" y1="313.7" x2="265.38" y2="315" stroke="#8a8a8a" stroke-width="0.6"/>
<line x1="292.92" y1="430.4" x2="292.92" y2="429.1" stroke="#8a8a8a" stroke-width="0.6"/>
<line x1="292.92" y1="313.7" x2="292.92" y2="315" stroke="#8a8a8a" stroke-width="0.6"/>
<line x1="320.46" y1="430.4" x2="320.46" y2="429.1" stroke="#8a8a8a" stroke-width="0.6"/>
<line x1="320.46" y1="313.7" x2="320.46" y2="315" stroke="#8a8a8a" stroke-width="0.6"/>
<line x1="348" y1="430.4" x2="348" y2="429.1" stroke="#8a8a8a" stroke-width="0.6"/>
<line x1="348" y1="313.7" x2="348" y2="315" stroke="#8a8a8a" stroke-width="0.6"/>
<line x1="210.3" y1="430.4" x2="211.6" y2="430.4" stroke="#8a8a8a" stroke-width="0.6"/>
<line x1="348" y1="430.4" x2="346.7" y2="430.4" stroke="#8a8a8a" stroke-width="0.6"/>
<line x1="210.3" y1="391.5" x2="211.6" y2="391.5" stroke="#8a8a8a" stroke-width="0.6"/>
<line x1="348" y1="391.5" x2="346.7" y2="391.5" stroke="#8a8a8a" stroke-width="0.6"/>
<line x1="210.3" y1="352.6" x2="211.6" y2="352.6" stroke="#8a8a8a" stroke-width="0.6"/>
<line x1="348" y1="352.6" x2="346.7" y2="352.6" stroke="#8a8a8a" stroke-width="0.6"/>
<line x1="210.3" y1="313.7" x2="211.6" y2="313.7" stroke="#8a8a8a" stroke-width="0.6"/>
<line x1="348" y1="313.7" x2="346.7" y2="313.7" stroke="#8a8a8a" stroke-width="0.6"/>
<text x="210.3" y="438.7" font-size="5.9" text-anchor="middle">0</text>
<text x="237.84" y="438.7" font-size="5.9" text-anchor="middle">200</text>
<text x="265.38" y="438.7" font-size="5.9" text-anchor="middle">400</text>
<text x="292.92" y="438.7" font-size="5.9" text-anchor="middle">600</text>
<text x="320.46" y="438.7" font-size="5.9" text-anchor="middle">800</text>
<text x="348" y="438.7" font-size="5.9" text-anchor="middle">1000</text>
<text x="207.8" y="433.4" font-size="5.5" text-anchor="end">10<tspan font-size="4.5" dx="0.3" dy="-2.2">3</tspan></text>
<text x="207.8" y="394.5" font-size="5.5" text-anchor="end">10<tspan font-size="4.5" dx="0.3" dy="-2.2">4</tspan></text>
<text x="207.8" y="355.6" font-size="5.5" text-anchor="end">10<tspan font-size="4.5" dx="0.3" dy="-2.2">5</tspan></text>
<text x="207.8" y="316.7" font-size="5.5" text-anchor="end">10<tspan font-size="4.5" dx="0.3" dy="-2.2">6</tspan></text>
<text x="279.15" y="310.7" font-size="6.6" font-weight="bold" text-anchor="middle" style="stroke-width:0.05px">F8</text>
<text x="279.15" y="447.6" font-size="6.5" text-anchor="middle">Iterations</text>
<text transform="translate(195.7 372.05) rotate(-90)" font-size="6.6" text-anchor="middle">Fitness</text>
<rect x="303.6" y="319.5" width="38.8" height="46.1" fill="#fff" stroke="#606060" stroke-width="0.8"/>
<line x1="306" y1="324.1" x2="322.8" y2="324.1" stroke="#1a1a1a" stroke-width="0.85"/>
<circle cx="314.4" cy="324.1" r="1.85" fill="#c4c4c4" fill-opacity="0.8" stroke="#101010" stroke-width="0.85"/>
<text x="324.7" y="326.1" font-size="5.1" style="stroke-width:0.25px">DBO</text>
<line x1="306" y1="331.48" x2="322.8" y2="331.48" stroke="#00f0ff" stroke-width="1.2"/>
<path d="M312.2 329.78l4.4 0l-2.2 3.5z" fill="#00ffff" stroke="#00e8ff" stroke-width="0.5"/>
<text x="324.7" y="333.48" font-size="5.1" style="stroke-width:0.25px">HHO</text>
<line x1="306" y1="338.86" x2="322.8" y2="338.86" stroke="#1530e0" stroke-width="1.0"/>
<path d="M312.2 340.46l2.2 -3.5l2.2 3.5z" fill="#b8b8ff" fill-opacity="0.7" stroke="#0000d0" stroke-width="0.8"/>
<text x="324.7" y="340.86" font-size="5.1" style="stroke-width:0.25px">POA</text>
<line x1="306" y1="346.24" x2="322.8" y2="346.24" stroke="#ff20ff" stroke-width="1.0"/>
<circle cx="314.4" cy="346.24" r="1.35" fill="#ff00ff"/>
<text x="324.7" y="348.24" font-size="5.1" style="stroke-width:0.25px">SSA</text>
<line x1="306" y1="353.62" x2="322.8" y2="353.62" stroke="#ffff00" stroke-width="1.25"/>
<circle cx="314.4" cy="353.62" r="1.7" fill="#ffff00"/>
<text x="324.7" y="355.62" font-size="5.1" style="stroke-width:0.25px">MPOA</text>
<line x1="306" y1="361" x2="322.8" y2="361" stroke="#10f010" stroke-width="1.15"/>
<circle cx="314.4" cy="361" r="1.5" fill="#00e000"/>
<text x="324.7" y="363" font-size="5.1" style="stroke-width:0.25px">IPOA</text>
</g>
<g>
<line x1="391" y1="429.59" x2="526" y2="429.59" stroke="#f1f1f1" stroke-width="0.5"/>
<line x1="391" y1="423.82" x2="526" y2="423.82" stroke="#f1f1f1" stroke-width="0.5"/>
<line x1="391" y1="418.26" x2="526" y2="418.26" stroke="#f1f1f1" stroke-width="0.5"/>
<line x1="391" y1="412.91" x2="526" y2="412.91" stroke="#f1f1f1" stroke-width="0.5"/>
<line x1="391" y1="407.75" x2="526" y2="407.75" stroke="#f1f1f1" stroke-width="0.5"/>
<line x1="391" y1="402.76" x2="526" y2="402.76" stroke="#f1f1f1" stroke-width="0.5"/>
<line x1="391" y1="397.94" x2="526" y2="397.94" stroke="#f1f1f1" stroke-width="0.5"/>
<line x1="391" y1="393.27" x2="526" y2="393.27" stroke="#f1f1f1" stroke-width="0.5"/>
<line x1="391" y1="388.74" x2="526" y2="388.74" stroke="#f1f1f1" stroke-width="0.5"/>
<line x1="391" y1="384.35" x2="526" y2="384.35" stroke="#f1f1f1" stroke-width="0.5"/>
<line x1="391" y1="380.08" x2="526" y2="380.08" stroke="#f1f1f1" stroke-width="0.5"/>
<line x1="391" y1="375.94" x2="526" y2="375.94" stroke="#f1f1f1" stroke-width="0.5"/>
<line x1="391" y1="371.9" x2="526" y2="371.9" stroke="#f1f1f1" stroke-width="0.5"/>
<line x1="391" y1="367.98" x2="526" y2="367.98" stroke="#f1f1f1" stroke-width="0.5"/>
<line x1="391" y1="364.16" x2="526" y2="364.16" stroke="#f1f1f1" stroke-width="0.5"/>
<line x1="391" y1="360.43" x2="526" y2="360.43" stroke="#f1f1f1" stroke-width="0.5"/>
<line x1="391" y1="356.8" x2="526" y2="356.8" stroke="#f1f1f1" stroke-width="0.5"/>
<line x1="391" y1="353.25" x2="526" y2="353.25" stroke="#f1f1f1" stroke-width="0.5"/>
<line x1="391" y1="349.79" x2="526" y2="349.79" stroke="#f1f1f1" stroke-width="0.5"/>
<line x1="391" y1="346.41" x2="526" y2="346.41" stroke="#f1f1f1" stroke-width="0.5"/>
<line x1="391" y1="343.1" x2="526" y2="343.1" stroke="#f1f1f1" stroke-width="0.5"/>
<line x1="391" y1="339.87" x2="526" y2="339.87" stroke="#f1f1f1" stroke-width="0.5"/>
<line x1="391" y1="336.7" x2="526" y2="336.7" stroke="#f1f1f1" stroke-width="0.5"/>
<line x1="391" y1="333.61" x2="526" y2="333.61" stroke="#f1f1f1" stroke-width="0.5"/>
<line x1="391" y1="330.57" x2="526" y2="330.57" stroke="#f1f1f1" stroke-width="0.5"/>
<line x1="391" y1="327.6" x2="526" y2="327.6" stroke="#f1f1f1" stroke-width="0.5"/>
<line x1="391" y1="324.69" x2="526" y2="324.69" stroke="#f1f1f1" stroke-width="0.5"/>
<line x1="391" y1="321.83" x2="526" y2="321.83" stroke="#f1f1f1" stroke-width="0.5"/>
<line x1="391" y1="319.03" x2="526" y2="319.03" stroke="#f1f1f1" stroke-width="0.5"/>
<line x1="391" y1="429.59" x2="526" y2="429.59" stroke="#e4e4e4" stroke-width="0.5"/>
<line x1="391" y1="402.76" x2="526" y2="402.76" stroke="#e4e4e4" stroke-width="0.5"/>
<line x1="391" y1="380.08" x2="526" y2="380.08" stroke="#e4e4e4" stroke-width="0.5"/>
<line x1="391" y1="360.43" x2="526" y2="360.43" stroke="#e4e4e4" stroke-width="0.5"/>
<line x1="391" y1="343.1" x2="526" y2="343.1" stroke="#e4e4e4" stroke-width="0.5"/>
<line x1="391" y1="327.6" x2="526" y2="327.6" stroke="#e4e4e4" stroke-width="0.5"/>
<line x1="418" y1="313.4" x2="418" y2="430.4" stroke="#e2e2e2" stroke-width="0.55"/>
<line x1="445" y1="313.4" x2="445" y2="430.4" stroke="#e2e2e2" stroke-width="0.55"/>
<line x1="472" y1="313.4" x2="472" y2="430.4" stroke="#e2e2e2" stroke-width="0.55"/>
<line x1="499" y1="313.4" x2="499" y2="430.4" stroke="#e2e2e2" stroke-width="0.55"/>
<rect x="391" y="313.4" width="135" height="117" fill="none" stroke="#8a8a8a" stroke-width="1.0"/>
<clipPath id="cF9"><rect x="388" y="310.4" width="141" height="120.5"/></clipPath>
<g clip-path="url(#cF9)">
<path d="M391 313.4 398.1 375.9 405.2 409.5 412.3 412.7 419.4 414.9 426.5 420.6 433.6 423.5 440.7 425.2 447.8 426.3 469 427 526 428.5" fill="none" stroke="#1a1a1a" stroke-width="0.85" stroke-linejoin="round"/>
<circle cx="391" cy="313.4" r="1.85" fill="#c4c4c4" fill-opacity="0.8" stroke="#101010" stroke-width="0.85"/>
<circle cx="398.11" cy="375.92" r="1.85" fill="#c4c4c4" fill-opacity="0.8" stroke="#101010" stroke-width="0.85"/>
<circle cx="405.21" cy="409.5" r="1.85" fill="#c4c4c4" fill-opacity="0.8" stroke="#101010" stroke-width="0.85"/>
<circle cx="412.32" cy="412.7" r="1.85" fill="#c4c4c4" fill-opacity="0.8" stroke="#101010" stroke-width="0.85"/>
<circle cx="419.42" cy="414.92" r="1.85" fill="#c4c4c4" fill-opacity="0.8" stroke="#101010" stroke-width="0.85"/>
<circle cx="426.53" cy="420.61" r="1.85" fill="#c4c4c4" fill-opacity="0.8" stroke="#101010" stroke-width="0.85"/>
<circle cx="433.63" cy="423.51" r="1.85" fill="#c4c4c4" fill-opacity="0.8" stroke="#101010" stroke-width="0.85"/>
<circle cx="440.74" cy="425.21" r="1.85" fill="#c4c4c4" fill-opacity="0.8" stroke="#101010" stroke-width="0.85"/>
<circle cx="447.84" cy="426.3" r="1.85" fill="#c4c4c4" fill-opacity="0.8" stroke="#101010" stroke-width="0.85"/>
<circle cx="454.95" cy="426.54" r="1.85" fill="#c4c4c4" fill-opacity="0.8" stroke="#101010" stroke-width="0.85"/>
<circle cx="462.05" cy="426.77" r="1.85" fill="#c4c4c4" fill-opacity="0.8" stroke="#101010" stroke-width="0.85"/>
<circle cx="469.16" cy="427" r="1.85" fill="#c4c4c4" fill-opacity="0.8" stroke="#101010" stroke-width="0.85"/>
<circle cx="476.26" cy="427.19" r="1.85" fill="#c4c4c4" fill-opacity="0.8" stroke="#101010" stroke-width="0.85"/>
<circle cx="483.37" cy="427.38" r="1.85" fill="#c4c4c4" fill-opacity="0.8" stroke="#101010" stroke-width="0.85"/>
<circle cx="490.47" cy="427.57" r="1.85" fill="#c4c4c4" fill-opacity="0.8" stroke="#101010" stroke-width="0.85"/>
<circle cx="497.58" cy="427.75" r="1.85" fill="#c4c4c4" fill-opacity="0.8" stroke="#101010" stroke-width="0.85"/>
<circle cx="504.68" cy="427.94" r="1.85" fill="#c4c4c4" fill-opacity="0.8" stroke="#101010" stroke-width="0.85"/>
<circle cx="511.79" cy="428.13" r="1.85" fill="#c4c4c4" fill-opacity="0.8" stroke="#101010" stroke-width="0.85"/>
<circle cx="518.89" cy="428.31" r="1.85" fill="#c4c4c4" fill-opacity="0.8" stroke="#101010" stroke-width="0.85"/>
<circle cx="526" cy="428.5" r="1.85" fill="#c4c4c4" fill-opacity="0.8" stroke="#101010" stroke-width="0.85"/>
<path d="M391 321 398.1 407.2 405.2 407.5 412.3 408.8 419.4 409.5 426.5 412.1 433.6 412.4 440.7 414 447.8 416 455 417.1 462 420.6 526 421.5" fill="none" stroke="#00f0ff" stroke-width="1.2" stroke-linejoin="round"/>
<path d="M388.8 319.3l4.4 0l-2.2 3.5z" fill="#00ffff" stroke="#00e8ff" stroke-width="0.5"/>
<path d="M395.91 405.5l4.4 0l-2.2 3.5z" fill="#00ffff" stroke="#00e8ff" stroke-width="0.5"/>
<path d="M403.01 405.8l4.4 0l-2.2 3.5z" fill="#00ffff" stroke="#00e8ff" stroke-width="0.5"/>
<path d="M410.12 407.1l4.4 0l-2.2 3.5z" fill="#00ffff" stroke="#00e8ff" stroke-width="0.5"/>
<path d="M417.22 407.81l4.4 0l-2.2 3.5z" fill="#00ffff" stroke="#00e8ff" stroke-width="0.5"/>
<path d="M424.33 410.4l4.4 0l-2.2 3.5z" fill="#00ffff" stroke="#00e8ff" stroke-width="0.5"/>
<path d="M431.43 410.71l4.4 0l-2.2 3.5z" fill="#00ffff" stroke="#00e8ff" stroke-width="0.5"/>
<path d="M438.54 412.31l4.4 0l-2.2 3.5z" fill="#00ffff" stroke="#00e8ff" stroke-width="0.5"/>
<path d="M445.64 414.31l4.4 0l-2.2 3.5z" fill="#00ffff" stroke="#00e8ff" stroke-width="0.5"/>
<path d="M452.75 415.39l4.4 0l-2.2 3.5z" fill="#00ffff" stroke="#00e8ff" stroke-width="0.5"/>
<path d="M459.85 418.9l4.4 0l-2.2 3.5z" fill="#00ffff" stroke="#00e8ff" stroke-width="0.5"/>
<path d="M466.96 419l4.4 0l-2.2 3.5z" fill="#00ffff" stroke="#00e8ff" stroke-width="0.5"/>
<path d="M474.06 419.1l4.4 0l-2.2 3.5z" fill="#00ffff" stroke="#00e8ff" stroke-width="0.5"/>
<path d="M481.17 419.2l4.4 0l-2.2 3.5z" fill="#00ffff" stroke="#00e8ff" stroke-width="0.5"/>
<path d="M488.27 419.3l4.4 0l-2.2 3.5z" fill="#00ffff" stroke="#00e8ff" stroke-width="0.5"/>
<path d="M495.38 419.4l4.4 0l-2.2 3.5z" fill="#00ffff" stroke="#00e8ff" stroke-width="0.5"/>
<path d="M502.48 419.5l4.4 0l-2.2 3.5z" fill="#00ffff" stroke="#00e8ff" stroke-width="0.5"/>
<path d="M509.59 419.6l4.4 0l-2.2 3.5z" fill="#00ffff" stroke="#00e8ff" stroke-width="0.5"/>
<path d="M516.69 419.7l4.4 0l-2.2 3.5z" fill="#00ffff" stroke="#00e8ff" stroke-width="0.5"/>
<path d="M523.8 419.8l4.4 0l-2.2 3.5z" fill="#00ffff" stroke="#00e8ff" stroke-width="0.5"/>
<path d="M391 345.7 398.1 413.2 405.2 420.9 412.3 423 419.4 424.7 426.5 425.8 440.7 425.5 455 426.5 526 428.5" fill="none" stroke="#1530e0" stroke-width="1.0" stroke-linejoin="round"/>
<path d="M388.8 347.3l2.2 -3.5l2.2 3.5z" fill="#b8b8ff" fill-opacity="0.7" stroke="#0000d0" stroke-width="0.8"/>
<path d="M395.91 414.81l2.2 -3.5l2.2 3.5z" fill="#b8b8ff" fill-opacity="0.7" stroke="#0000d0" stroke-width="0.8"/>
<path d="M403.01 422.5l2.2 -3.5l2.2 3.5z" fill="#b8b8ff" fill-opacity="0.7" stroke="#0000d0" stroke-width="0.8"/>
<path d="M410.12 424.6l2.2 -3.5l2.2 3.5z" fill="#b8b8ff" fill-opacity="0.7" stroke="#0000d0" stroke-width="0.8"/>
<path d="M417.22 426.3l2.2 -3.5l2.2 3.5z" fill="#b8b8ff" fill-opacity="0.7" stroke="#0000d0" stroke-width="0.8"/>
<path d="M424.33 427.4l2.2 -3.5l2.2 3.5z" fill="#b8b8ff" fill-opacity="0.7" stroke="#0000d0" stroke-width="0.8"/>
<path d="M431.43 427.25l2.2 -3.5l2.2 3.5z" fill="#b8b8ff" fill-opacity="0.7" stroke="#0000d0" stroke-width="0.8"/>
<path d="M438.54 427.1l2.2 -3.5l2.2 3.5z" fill="#b8b8ff" fill-opacity="0.7" stroke="#0000d0" stroke-width="0.8"/>
<path d="M445.64 427.6l2.2 -3.5l2.2 3.5z" fill="#b8b8ff" fill-opacity="0.7" stroke="#0000d0" stroke-width="0.8"/>
<path d="M452.75 428.1l2.2 -3.5l2.2 3.5z" fill="#b8b8ff" fill-opacity="0.7" stroke="#0000d0" stroke-width="0.8"/>
<path d="M459.85 428.3l2.2 -3.5l2.2 3.5z" fill="#b8b8ff" fill-opacity="0.7" stroke="#0000d0" stroke-width="0.8"/>
<path d="M466.96 428.5l2.2 -3.5l2.2 3.5z" fill="#b8b8ff" fill-opacity="0.7" stroke="#0000d0" stroke-width="0.8"/>
<path d="M474.06 428.7l2.2 -3.5l2.2 3.5z" fill="#b8b8ff" fill-opacity="0.7" stroke="#0000d0" stroke-width="0.8"/>
<path d="M481.17 428.9l2.2 -3.5l2.2 3.5z" fill="#b8b8ff" fill-opacity="0.7" stroke="#0000d0" stroke-width="0.8"/>
<path d="M488.27 429.1l2.2 -3.5l2.2 3.5z" fill="#b8b8ff" fill-opacity="0.7" stroke="#0000d0" stroke-width="0.8"/>
<path d="M495.38 429.3l2.2 -3.5l2.2 3.5z" fill="#b8b8ff" fill-opacity="0.7" stroke="#0000d0" stroke-width="0.8"/>
<path d="M502.48 429.5l2.2 -3.5l2.2 3.5z" fill="#b8b8ff" fill-opacity="0.7" stroke="#0000d0" stroke-width="0.8"/>
<path d="M509.59 429.7l2.2 -3.5l2.2 3.5z" fill="#b8b8ff" fill-opacity="0.7" stroke="#0000d0" stroke-width="0.8"/>
<path d="M516.69 429.9l2.2 -3.5l2.2 3.5z" fill="#b8b8ff" fill-opacity="0.7" stroke="#0000d0" stroke-width="0.8"/>
<path d="M523.8 430.1l2.2 -3.5l2.2 3.5z" fill="#b8b8ff" fill-opacity="0.7" stroke="#0000d0" stroke-width="0.8"/>
<path d="M391 313.4 398.1 412.7 405.2 415.7 412.3 416.5 419.4 417.3 426.5 417.6 433.6 418.1 440.7 418.6 447.8 419.5 455 420.6 526 421" fill="none" stroke="#ff20ff" stroke-width="1.0" stroke-linejoin="round"/>
<circle cx="391" cy="313.4" r="1.35" fill="#ff00ff"/>
<circle cx="398.11" cy="412.7" r="1.35" fill="#ff00ff"/>
<circle cx="405.21" cy="415.7" r="1.35" fill="#ff00ff"/>
<circle cx="412.32" cy="416.5" r="1.35" fill="#ff00ff"/>
<circle cx="419.42" cy="417.3" r="1.35" fill="#ff00ff"/>
<circle cx="426.53" cy="417.6" r="1.35" fill="#ff00ff"/>
<circle cx="433.63" cy="418.1" r="1.35" fill="#ff00ff"/>
<circle cx="440.74" cy="418.6" r="1.35" fill="#ff00ff"/>
<circle cx="447.84" cy="419.51" r="1.35" fill="#ff00ff"/>
<circle cx="454.95" cy="420.59" r="1.35" fill="#ff00ff"/>
<circle cx="462.05" cy="420.64" r="1.35" fill="#ff00ff"/>
<circle cx="469.16" cy="420.68" r="1.35" fill="#ff00ff"/>
<circle cx="476.26" cy="420.72" r="1.35" fill="#ff00ff"/>
<circle cx="483.37" cy="420.76" r="1.35" fill="#ff00ff"/>
<circle cx="490.47" cy="420.8" r="1.35" fill="#ff00ff"/>
<circle cx="497.58" cy="420.84" r="1.35" fill="#ff00ff"/>
<circle cx="504.68" cy="420.88" r="1.35" fill="#ff00ff"/>
<circle cx="511.79" cy="420.92" r="1.35" fill="#ff00ff"/>
<circle cx="518.89" cy="420.96" r="1.35" fill="#ff00ff"/>
<circle cx="526" cy="421" r="1.35" fill="#ff00ff"/>
<path d="M391 383.3 398.1 427.1 526 428.2" fill="none" stroke="#ffff00" stroke-width="1.25" stroke-linejoin="round"/>
<circle cx="391" cy="383.3" r="1.7" fill="#ffff00"/>
<circle cx="398.11" cy="427.1" r="1.7" fill="#ffff00"/>
<circle cx="405.21" cy="427.16" r="1.7" fill="#ffff00"/>
<circle cx="412.32" cy="427.22" r="1.7" fill="#ffff00"/>
<circle cx="419.42" cy="427.28" r="1.7" fill="#ffff00"/>
<circle cx="426.53" cy="427.34" r="1.7" fill="#ffff00"/>
<circle cx="433.63" cy="427.41" r="1.7" fill="#ffff00"/>
<circle cx="440.74" cy="427.47" r="1.7" fill="#ffff00"/>
<circle cx="447.84" cy="427.53" r="1.7" fill="#ffff00"/>
<circle cx="454.95" cy="427.59" r="1.7" fill="#ffff00"/>
<circle cx="462.05" cy="427.65" r="1.7" fill="#ffff00"/>
<circle cx="469.16" cy="427.71" r="1.7" fill="#ffff00"/>
<circle cx="476.26" cy="427.77" r="1.7" fill="#ffff00"/>
<circle cx="483.37" cy="427.83" r="1.7" fill="#ffff00"/>
<circle cx="490.47" cy="427.89" r="1.7" fill="#ffff00"/>
<circle cx="497.58" cy="427.96" r="1.7" fill="#ffff00"/>
<circle cx="504.68" cy="428.02" r="1.7" fill="#ffff00"/>
<circle cx="511.79" cy="428.08" r="1.7" fill="#ffff00"/>
<circle cx="518.89" cy="428.14" r="1.7" fill="#ffff00"/>
<circle cx="526" cy="428.2" r="1.7" fill="#ffff00"/>
<path d="M391 327.6 398.1 426.3 405.2 429.3 526 429.5" fill="none" stroke="#10f010" stroke-width="1.15" stroke-linejoin="round"/>
<circle cx="391" cy="327.6" r="1.5" fill="#00e000"/>
<circle cx="398.11" cy="426.3" r="1.5" fill="#00e000"/>
<circle cx="405.21" cy="429.3" r="1.5" fill="#00e000"/>
<circle cx="412.32" cy="429.31" r="1.5" fill="#00e000"/>
<circle cx="419.42" cy="429.32" r="1.5" fill="#00e000"/>
<circle cx="426.53" cy="429.34" r="1.5" fill="#00e000"/>
<circle cx="433.63" cy="429.35" r="1.5" fill="#00e000"/>
<circle cx="440.74" cy="429.36" r="1.5" fill="#00e000"/>
<circle cx="447.84" cy="429.37" r="1.5" fill="#00e000"/>
<circle cx="454.95" cy="429.38" r="1.5" fill="#00e000"/>
<circle cx="462.05" cy="429.39" r="1.5" fill="#00e000"/>
<circle cx="469.16" cy="429.41" r="1.5" fill="#00e000"/>
<circle cx="476.26" cy="429.42" r="1.5" fill="#00e000"/>
<circle cx="483.37" cy="429.43" r="1.5" fill="#00e000"/>
<circle cx="490.47" cy="429.44" r="1.5" fill="#00e000"/>
<circle cx="497.58" cy="429.45" r="1.5" fill="#00e000"/>
<circle cx="504.68" cy="429.46" r="1.5" fill="#00e000"/>
<circle cx="511.79" cy="429.48" r="1.5" fill="#00e000"/>
<circle cx="518.89" cy="429.49" r="1.5" fill="#00e000"/>
<circle cx="526" cy="429.5" r="1.5" fill="#00e000"/>
</g>
<line x1="391" y1="430.4" x2="391" y2="429.1" stroke="#8a8a8a" stroke-width="0.6"/>
<line x1="391" y1="313.4" x2="391" y2="314.7" stroke="#8a8a8a" stroke-width="0.6"/>
<line x1="418" y1="430.4" x2="418" y2="429.1" stroke="#8a8a8a" stroke-width="0.6"/>
<line x1="418" y1="313.4" x2="418" y2="314.7" stroke="#8a8a8a" stroke-width="0.6"/>
<line x1="445" y1="430.4" x2="445" y2="429.1" stroke="#8a8a8a" stroke-width="0.6"/>
<line x1="445" y1="313.4" x2="445" y2="314.7" stroke="#8a8a8a" stroke-width="0.6"/>
<line x1="472" y1="430.4" x2="472" y2="429.1" stroke="#8a8a8a" stroke-width="0.6"/>
<line x1="472" y1="313.4" x2="472" y2="314.7" stroke="#8a8a8a" stroke-width="0.6"/>
<line x1="499" y1="430.4" x2="499" y2="429.1" stroke="#8a8a8a" stroke-width="0.6"/>
<line x1="499" y1="313.4" x2="499" y2="314.7" stroke="#8a8a8a" stroke-width="0.6"/>
<line x1="526" y1="430.4" x2="526" y2="429.1" stroke="#8a8a8a" stroke-width="0.6"/>
<line x1="526" y1="313.4" x2="526" y2="314.7" stroke="#8a8a8a" stroke-width="0.6"/>
<line x1="391" y1="429.59" x2="392.3" y2="429.59" stroke="#8a8a8a" stroke-width="0.6"/>
<line x1="526" y1="429.59" x2="524.7" y2="429.59" stroke="#8a8a8a" stroke-width="0.6"/>
<line x1="391" y1="402.76" x2="392.3" y2="402.76" stroke="#8a8a8a" stroke-width="0.6"/>
<line x1="526" y1="402.76" x2="524.7" y2="402.76" stroke="#8a8a8a" stroke-width="0.6"/>
<line x1="391" y1="380.08" x2="392.3" y2="380.08" stroke="#8a8a8a" stroke-width="0.6"/>
<line x1="526" y1="380.08" x2="524.7" y2="380.08" stroke="#8a8a8a" stroke-width="0.6"/>
<line x1="391" y1="360.43" x2="392.3" y2="360.43" stroke="#8a8a8a" stroke-width="0.6"/>
<line x1="526" y1="360.43" x2="524.7" y2="360.43" stroke="#8a8a8a" stroke-width="0.6"/>
<line x1="391" y1="343.1" x2="392.3" y2="343.1" stroke="#8a8a8a" stroke-width="0.6"/>
<line x1="526" y1="343.1" x2="524.7" y2="343.1" stroke="#8a8a8a" stroke-width="0.6"/>
<line x1="391" y1="327.6" x2="392.3" y2="327.6" stroke="#8a8a8a" stroke-width="0.6"/>
<line x1="526" y1="327.6" x2="524.7" y2="327.6" stroke="#8a8a8a" stroke-width="0.6"/>
<text x="391" y="438.7" font-size="5.9" text-anchor="middle">0</text>
<text x="418" y="438.7" font-size="5.9" text-anchor="middle">200</text>
<text x="445" y="438.7" font-size="5.9" text-anchor="middle">400</text>
<text x="472" y="438.7" font-size="5.9" text-anchor="middle">600</text>
<text x="499" y="438.7" font-size="5.9" text-anchor="middle">800</text>
<text x="526" y="438.7" font-size="5.9" text-anchor="middle">1000</text>
<text x="389" y="431.49" font-size="5.9" text-anchor="end">2500</text>
<text x="389" y="404.66" font-size="5.9" text-anchor="end">3000</text>
<text x="389" y="381.98" font-size="5.9" text-anchor="end">3500</text>
<text x="389" y="362.33" font-size="5.9" text-anchor="end">4000</text>
<text x="389" y="345" font-size="5.9" text-anchor="end">4500</text>
<text x="389" y="329.5" font-size="5.9" text-anchor="end">5000</text>
<text x="458.5" y="310.4" font-size="6.6" font-weight="bold" text-anchor="middle" style="stroke-width:0.05px">F9</text>
<text x="458.5" y="447.6" font-size="6.5" text-anchor="middle">Iterations</text>
<text transform="translate(371.3 371.9) rotate(-90)" font-size="6.6" text-anchor="middle">Fitness</text>
<rect x="481.6" y="319.2" width="38.8" height="46.1" fill="#fff" stroke="#606060" stroke-width="0.8"/>
<line x1="484" y1="323.8" x2="500.8" y2="323.8" stroke="#1a1a1a" stroke-width="0.85"/>
<circle cx="492.4" cy="323.8" r="1.85" fill="#c4c4c4" fill-opacity="0.8" stroke="#101010" stroke-width="0.85"/>
<text x="502.7" y="325.8" font-size="5.1" style="stroke-width:0.25px">DBO</text>
<line x1="484" y1="331.18" x2="500.8" y2="331.18" stroke="#00f0ff" stroke-width="1.2"/>
<path d="M490.2 329.48l4.4 0l-2.2 3.5z" fill="#00ffff" stroke="#00e8ff" stroke-width="0.5"/>
<text x="502.7" y="333.18" font-size="5.1" style="stroke-width:0.25px">HHO</text>
<line x1="484" y1="338.56" x2="500.8" y2="338.56" stroke="#1530e0" stroke-width="1.0"/>
<path d="M490.2 340.16l2.2 -3.5l2.2 3.5z" fill="#b8b8ff" fill-opacity="0.7" stroke="#0000d0" stroke-width="0.8"/>
<text x="502.7" y="340.56" font-size="5.1" style="stroke-width:0.25px">POA</text>
<line x1="484" y1="345.94" x2="500.8" y2="345.94" stroke="#ff20ff" stroke-width="1.0"/>
<circle cx="492.4" cy="345.94" r="1.35" fill="#ff00ff"/>
<text x="502.7" y="347.94" font-size="5.1" style="stroke-width:0.25px">SSA</text>
<line x1="484" y1="353.32" x2="500.8" y2="353.32" stroke="#ffff00" stroke-width="1.25"/>
<circle cx="492.4" cy="353.32" r="1.7" fill="#ffff00"/>
<text x="502.7" y="355.32" font-size="5.1" style="stroke-width:0.25px">MPOA</text>
<line x1="484" y1="360.7" x2="500.8" y2="360.7" stroke="#10f010" stroke-width="1.15"/>
<circle cx="492.4" cy="360.7" r="1.5" fill="#00e000"/>
<text x="502.7" y="362.7" font-size="5.1" style="stroke-width:0.25px">IPOA</text>
</g>
</svg></body></html>
